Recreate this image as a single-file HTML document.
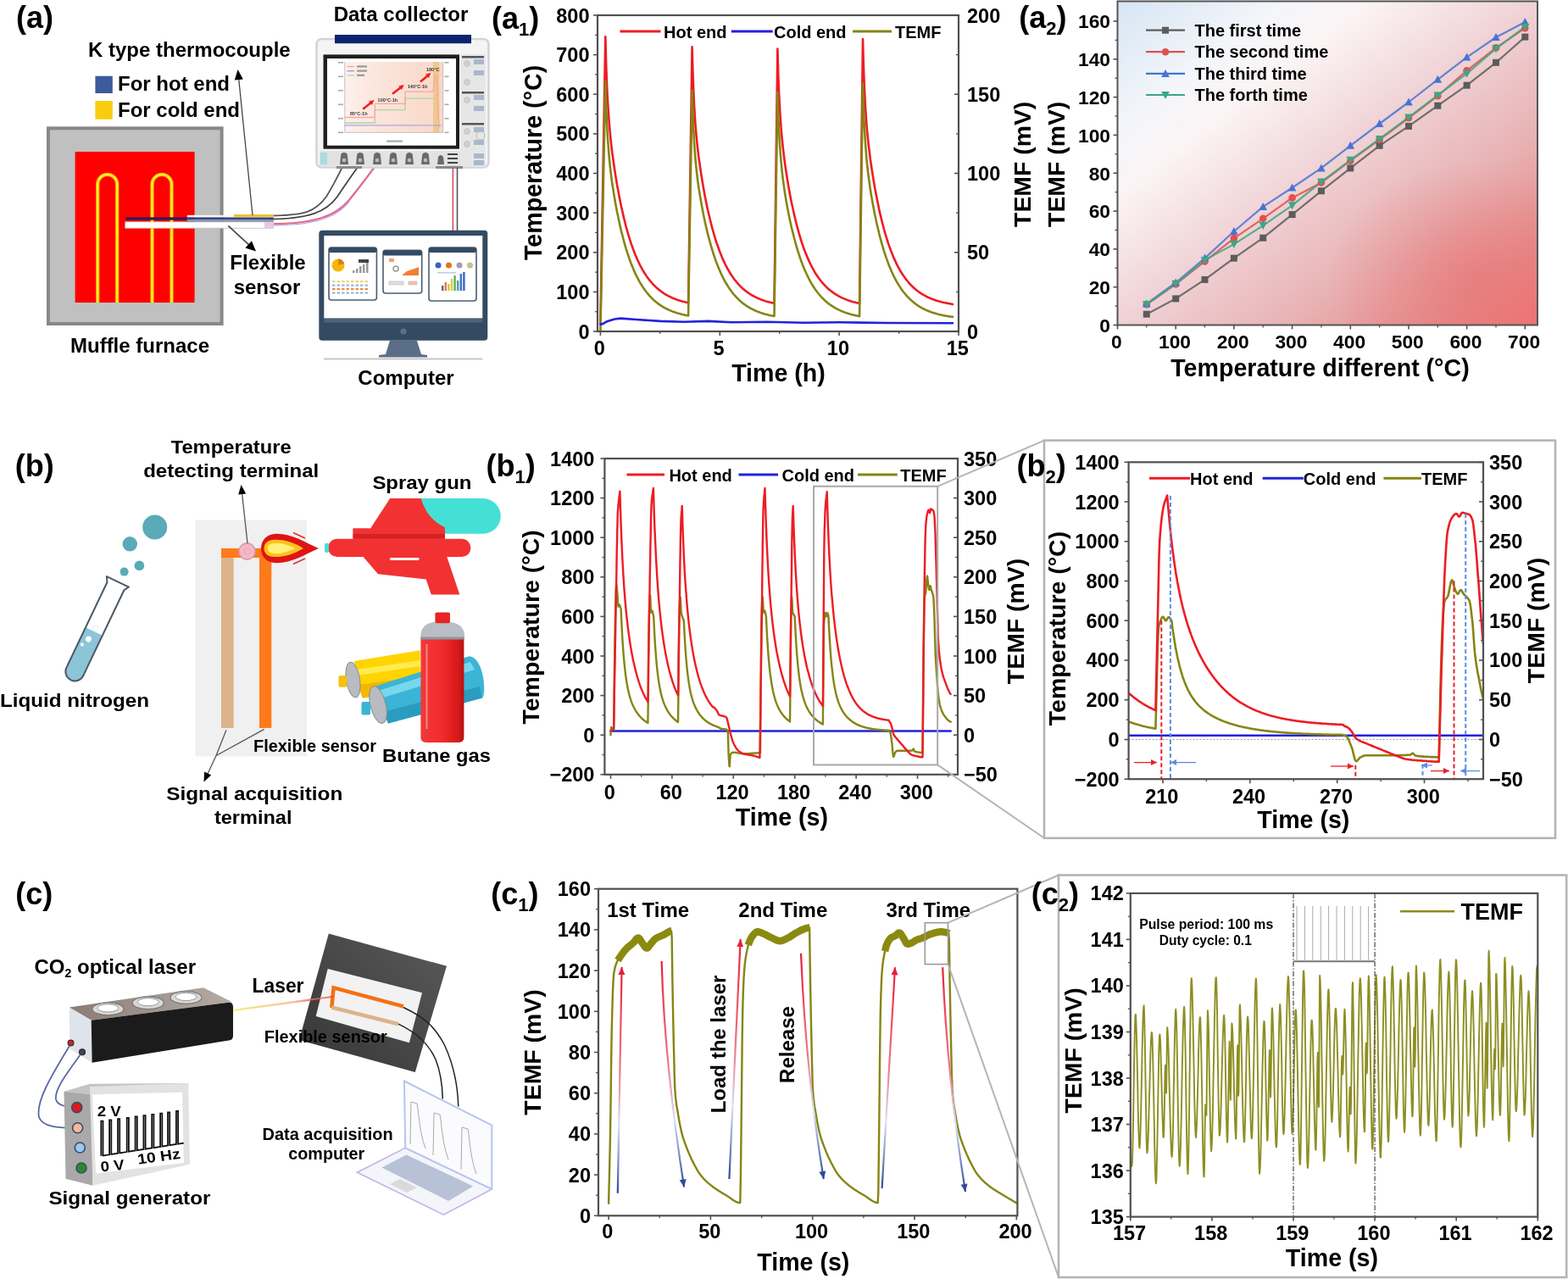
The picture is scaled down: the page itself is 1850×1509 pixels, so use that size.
<!DOCTYPE html>
<html><head><meta charset="utf-8"><title>Figure</title>
<style>html,body{margin:0;padding:0;background:#fff;}svg{display:block;}</style>
</head><body>
<svg width="1850" height="1509" viewBox="0 0 1850 1509" font-family='"Liberation Sans", Arial, Helvetica, sans-serif'>
<rect x="0" y="0" width="1850" height="1509" fill="#ffffff" stroke="none" stroke-width="0" rx="0"/>
<text x="18.9" y="33.4" font-size="36" font-weight="bold" text-anchor="start" fill="#000">(a)</text>
<rect x="57" y="151.3" width="204.6" height="230.7" fill="#c0c0c0" stroke="#888888" stroke-width="4" rx="0"/>
<rect x="88.6" y="179" width="141" height="178" fill="#ff0000" stroke="none" stroke-width="0" rx="0"/>
<path d="M115.2 357 L115.2 217.4 A11.5 11.5 0 0 1 138.2 217.4 L138.2 357" fill="none" stroke="#ff9d00" stroke-width="4.4"/>
<path d="M115.2 357 L115.2 217.4 A11.5 11.5 0 0 1 138.2 217.4 L138.2 357" fill="none" stroke="#ffee22" stroke-width="2.6"/>
<path d="M179.5 357 L179.5 217.4 A11.5 11.5 0 0 1 202.5 217.4 L202.5 357" fill="none" stroke="#ff9d00" stroke-width="4.4"/>
<path d="M179.5 357 L179.5 217.4 A11.5 11.5 0 0 1 202.5 217.4 L202.5 357" fill="none" stroke="#ffee22" stroke-width="2.6"/>
<path d="M318 254.5 C360 254 372 250 385 232 C395 216 400 205 406 193" fill="none" stroke="#555" stroke-width="1.8"/>
<path d="M318 258.7 C365 258 385 250 398 232 C410 214 418 203 425 193" fill="none" stroke="#444" stroke-width="1.8"/>
<path d="M318 264.3 C370 264 395 256 412 236 C425 220 436 205 445 193" fill="none" stroke="#e06a8c" stroke-width="2.2"/>
<path d="M318 266 C370 266 395 258 412 238" fill="none" stroke="#b9a0e0" stroke-width="1.2"/>
<rect x="147.7" y="261.8" width="175" height="7.4" fill="#ffffff" stroke="#bbbbbb" stroke-width="0.8" rx="0"/>
<rect x="312" y="261.8" width="10.7" height="7.4" fill="#e8c8e0" stroke="none" stroke-width="0" rx="0"/>
<rect x="148.4" y="256.3" width="72.4" height="3.4" fill="#3a1a50" stroke="none" stroke-width="0" rx="0"/>
<rect x="220.8" y="253.8" width="101.9" height="2.8" fill="#f8f6e8" stroke="none" stroke-width="0" rx="0"/>
<rect x="220.8" y="256.5" width="101.9" height="2.4" fill="#2a3a8a" stroke="none" stroke-width="0" rx="0"/>
<rect x="220.8" y="258.9" width="101.9" height="2.8" fill="#8a96a8" stroke="none" stroke-width="0" rx="0"/>
<rect x="276" y="253" width="46.7" height="2.9" fill="#f0c020" stroke="none" stroke-width="0" rx="0"/>
<line x1="298" y1="254" x2="281.3" y2="89.2" stroke="#444" stroke-width="1.3"/>
<path d="M280.6 82 L286.8 93.4 L276.8 94.4Z" fill="#000"/>
<line x1="269.3" y1="266.4" x2="296.7" y2="291.6" stroke="#444" stroke-width="1.6"/>
<path d="M302 296.5 L289.4 292.4 L296.9 284.3Z" fill="#000"/>
<rect x="112.4" y="89.7" width="20.4" height="20.3" fill="#3c5a9c" stroke="none" stroke-width="0" rx="0"/>
<rect x="112.4" y="119" width="20.4" height="21.7" fill="#f8cc10" stroke="none" stroke-width="0" rx="0"/>
<text x="104" y="67" font-size="24" font-weight="bold" text-anchor="start" fill="#000">K type thermocouple</text>
<text x="139" y="107.2" font-size="24" font-weight="bold" text-anchor="start" fill="#000">For hot end</text>
<text x="139" y="137.6" font-size="24" font-weight="bold" text-anchor="start" fill="#000">For cold end</text>
<text x="165" y="415.5" font-size="24" font-weight="bold" text-anchor="middle" fill="#000">Muffle furnace</text>
<text x="316" y="318" font-size="24" font-weight="bold" text-anchor="middle" fill="#000">Flexible</text>
<text x="315" y="347" font-size="24" font-weight="bold" text-anchor="middle" fill="#000">sensor</text>
<text x="473" y="24.6" font-size="24" font-weight="bold" text-anchor="middle" fill="#000">Data collector</text>
<text x="479" y="454.4" font-size="24" font-weight="bold" text-anchor="middle" fill="#000">Computer</text>
<rect x="373.5" y="46" width="203" height="151.5" fill="#f4f4f4" stroke="#d4d4d4" stroke-width="2.5" rx="6"/>
<rect x="395" y="41" width="161" height="10.2" fill="#0b2470" stroke="none" stroke-width="0" rx="0"/>
<rect x="381.5" y="64.4" width="160.5" height="111.3" fill="#1e1e1e" stroke="none" stroke-width="0" rx="0"/>
<rect x="386" y="69" width="152" height="102.7" fill="#ffffff" stroke="none" stroke-width="0" rx="0"/>
<defs><linearGradient id="gscr" x1="0" y1="0" x2="1" y2="0"><stop offset="0" stop-color="#fdf1ec"/><stop offset="0.35" stop-color="#fce4da"/><stop offset="1" stop-color="#f9d8c8"/></linearGradient></defs>
<rect x="406.8" y="73" width="116" height="83.3" fill="url(#gscr)" stroke="none" stroke-width="0" rx="0"/>
<rect x="511" y="73" width="7.3" height="83.3" fill="#f0c890" stroke="none" stroke-width="0" rx="0"/>
<line x1="406.8" y1="73" x2="406.8" y2="156.3" stroke="#aaa" stroke-width="0.7"/>
<line x1="406.8" y1="156.3" x2="522.7" y2="156.3" stroke="#aaa" stroke-width="0.7"/>
<line x1="522.7" y1="73" x2="522.7" y2="156.3" stroke="#aaa" stroke-width="0.7"/>
<path d="M407 145 L442.4 145 L442.4 129.6 L478.1 129.6 L478.1 116.2 L511 116.2" fill="none" stroke="#a8d8a0" stroke-width="1.3" stroke-linejoin="round" stroke-linecap="round"/>
<path d="M407 138.5 L442.4 138.5 L442.4 122.4 L478.1 122.4 L478.1 108.2 L511 108.2 L513 90 L515 90 L518 150" fill="none" stroke="#f6a8a0" stroke-width="1.3" stroke-linejoin="round" stroke-linecap="round"/>
<path d="M407 147.9 L520 147.9" fill="none" stroke="#a8a8e8" stroke-width="1.3" stroke-linejoin="round" stroke-linecap="round"/>
<line x1="428.2" y1="128.7" x2="438.8" y2="120.2" stroke="#ee2020" stroke-width="2.6"/>
<path d="M441.6 118 L438.8 124.1 L435 119.4Z" fill="#ee2020"/>
<line x1="463" y1="110.8" x2="474" y2="102.3" stroke="#ee2020" stroke-width="2.6"/>
<path d="M476.8 100.1 L473.9 106.1 L470.2 101.4Z" fill="#ee2020"/>
<line x1="496" y1="96.6" x2="505.8" y2="88.2" stroke="#ee2020" stroke-width="2.6"/>
<path d="M508.5 85.9 L505.9 92.1 L502 87.5Z" fill="#ee2020"/>
<text x="413" y="136" font-size="5.5" font-weight="bold" text-anchor="start" fill="#333">85°C-1h</text>
<text x="445.6" y="119.5" font-size="5.5" font-weight="bold" text-anchor="start" fill="#333">100°C-1h</text>
<text x="480.8" y="104.4" font-size="5.5" font-weight="bold" text-anchor="start" fill="#333">140°C-1h</text>
<text x="503" y="84" font-size="5.5" font-weight="bold" text-anchor="start" fill="#333">180°C</text>
<line x1="409.5" y1="78.5" x2="418" y2="78.5" stroke="#f4a0a0" stroke-width="1.2"/>
<rect x="421" y="77.3" width="12" height="2.2" fill="#999" stroke="none" stroke-width="0" rx="0"/>
<line x1="409.5" y1="83.7" x2="418" y2="83.7" stroke="#9090e0" stroke-width="1.2"/>
<rect x="421" y="82.5" width="12" height="2.2" fill="#999" stroke="none" stroke-width="0" rx="0"/>
<line x1="409.5" y1="88.9" x2="418" y2="88.9" stroke="#a0d8a0" stroke-width="1.2"/>
<rect x="421" y="87.7" width="9" height="2.2" fill="#999" stroke="none" stroke-width="0" rx="0"/>
<rect x="399" y="73" width="6" height="1.6" fill="#aaa" stroke="none" stroke-width="0" rx="0"/>
<rect x="524.5" y="73" width="5" height="1.6" fill="#aaa" stroke="none" stroke-width="0" rx="0"/>
<rect x="399" y="89.5" width="6" height="1.6" fill="#aaa" stroke="none" stroke-width="0" rx="0"/>
<rect x="524.5" y="89.5" width="5" height="1.6" fill="#aaa" stroke="none" stroke-width="0" rx="0"/>
<rect x="399" y="106" width="6" height="1.6" fill="#aaa" stroke="none" stroke-width="0" rx="0"/>
<rect x="524.5" y="106" width="5" height="1.6" fill="#aaa" stroke="none" stroke-width="0" rx="0"/>
<rect x="399" y="122.5" width="6" height="1.6" fill="#aaa" stroke="none" stroke-width="0" rx="0"/>
<rect x="524.5" y="122.5" width="5" height="1.6" fill="#aaa" stroke="none" stroke-width="0" rx="0"/>
<rect x="399" y="139" width="6" height="1.6" fill="#aaa" stroke="none" stroke-width="0" rx="0"/>
<rect x="524.5" y="139" width="5" height="1.6" fill="#aaa" stroke="none" stroke-width="0" rx="0"/>
<rect x="399" y="155.5" width="6" height="1.6" fill="#aaa" stroke="none" stroke-width="0" rx="0"/>
<rect x="524.5" y="155.5" width="5" height="1.6" fill="#aaa" stroke="none" stroke-width="0" rx="0"/>
<rect x="456" y="165.5" width="19" height="2.2" fill="#aaa" stroke="none" stroke-width="0" rx="0"/>
<rect x="543" y="64" width="30" height="133" fill="#e6e6e6" stroke="none" stroke-width="0" rx="0"/>
<rect x="545" y="66" width="26" height="2.5" fill="#555" stroke="none" stroke-width="0" rx="0"/>
<rect x="545" y="108" width="26" height="2.5" fill="#555" stroke="none" stroke-width="0" rx="0"/>
<rect x="545" y="145" width="26" height="2.5" fill="#555" stroke="none" stroke-width="0" rx="0"/>
<rect x="559" y="70" width="12" height="6" fill="#aab8cc" stroke="none" stroke-width="0" rx="0"/>
<rect x="559" y="83" width="12" height="6" fill="#aab8cc" stroke="none" stroke-width="0" rx="0"/>
<rect x="559" y="112" width="12" height="6" fill="#aab8cc" stroke="none" stroke-width="0" rx="0"/>
<rect x="559" y="125" width="12" height="6" fill="#aab8cc" stroke="none" stroke-width="0" rx="0"/>
<rect x="559" y="150" width="12" height="6" fill="#aab8cc" stroke="none" stroke-width="0" rx="0"/>
<rect x="559" y="165" width="12" height="6" fill="#aab8cc" stroke="none" stroke-width="0" rx="0"/>
<rect x="559" y="181" width="12" height="6" fill="#aab8cc" stroke="none" stroke-width="0" rx="0"/>
<rect x="559" y="189" width="12" height="6" fill="#aab8cc" stroke="none" stroke-width="0" rx="0"/>
<circle cx="551" cy="75" r="3.5" fill="#d0d0d0" stroke="#bbb" stroke-width="0.6"/>
<circle cx="551" cy="97" r="3.5" fill="#d0d0d0" stroke="#bbb" stroke-width="0.6"/>
<circle cx="551" cy="118" r="3.5" fill="#d0d0d0" stroke="#bbb" stroke-width="0.6"/>
<circle cx="551" cy="155" r="3.5" fill="#d0d0d0" stroke="#bbb" stroke-width="0.6"/>
<circle cx="551" cy="170" r="3.5" fill="#d0d0d0" stroke="#bbb" stroke-width="0.6"/>
<circle cx="567" cy="160" r="5" fill="none" stroke="#bbb" stroke-width="1"/>
<rect x="377" y="178" width="166" height="19" fill="#e2e2e2" stroke="none" stroke-width="0" rx="0"/>
<rect x="378" y="180" width="8" height="14" fill="#a8dce0" stroke="none" stroke-width="0" rx="0"/>
<path d="M401 194 L402 184 Q402 180 406 180 Q410 180 410 184 L411 194Z" fill="#6a6a6a"/>
<circle cx="406" cy="189" r="2.3" fill="#bbbbbb"/>
<path d="M420 194 L421 184 Q421 180 425 180 Q429 180 429 184 L430 194Z" fill="#6a6a6a"/>
<circle cx="425" cy="189" r="2.3" fill="#bbbbbb"/>
<path d="M440 194 L441 184 Q441 180 445 180 Q449 180 449 184 L450 194Z" fill="#6a6a6a"/>
<circle cx="445" cy="189" r="2.3" fill="#bbbbbb"/>
<path d="M459 194 L460 184 Q460 180 464 180 Q468 180 468 184 L469 194Z" fill="#6a6a6a"/>
<circle cx="464" cy="189" r="2.3" fill="#bbbbbb"/>
<path d="M478 194 L479 184 Q479 180 483 180 Q487 180 487 184 L488 194Z" fill="#6a6a6a"/>
<circle cx="483" cy="189" r="2.3" fill="#bbbbbb"/>
<path d="M497 194 L498 184 Q498 180 502 180 Q506 180 506 184 L507 194Z" fill="#6a6a6a"/>
<circle cx="502" cy="189" r="2.3" fill="#bbbbbb"/>
<path d="M516 194 L517 185 Q520 181 523 185 L524 194Z" fill="#6a6a6a"/>
<rect x="528" y="181" width="12" height="2" fill="#444" stroke="none" stroke-width="0" rx="0"/>
<rect x="528" y="186" width="12" height="2" fill="#444" stroke="none" stroke-width="0" rx="0"/>
<rect x="528" y="191" width="12" height="2" fill="#444" stroke="none" stroke-width="0" rx="0"/>
<rect x="397" y="196" width="30" height="3" fill="#8a8a8a" stroke="none" stroke-width="0" rx="0"/>
<rect x="514" y="196" width="32" height="3" fill="#8a8a8a" stroke="none" stroke-width="0" rx="0"/>
<line x1="534.4" y1="198" x2="534.4" y2="272" stroke="#e04a5a" stroke-width="1.6"/>
<line x1="539.5" y1="198" x2="539.5" y2="272" stroke="#555" stroke-width="1.6"/>
<rect x="376.3" y="271.7" width="199" height="130" fill="#344a63" stroke="none" stroke-width="0" rx="4"/>
<rect x="382.3" y="278" width="187" height="97.6" fill="#ffffff" stroke="none" stroke-width="0" rx="0"/>
<rect x="382.3" y="375.6" width="187" height="5" fill="#4c6279" stroke="none" stroke-width="0" rx="0"/>
<circle cx="476" cy="391" r="3.6" fill="#5c7088"/>
<path d="M460 401.6 L491.8 401.6 L497 418 L504 419 L504 421.5 L447 421.5 L447 419 L455 418Z" fill="#5a6e87"/>
<line x1="382" y1="423.5" x2="569" y2="423.5" stroke="#c8c8c8" stroke-width="1.8"/>
<rect x="388" y="292" width="56.4" height="62" fill="#ffffff" stroke="#4a5c72" stroke-width="1.6" rx="3"/>
<rect x="388" y="292" width="56.4" height="6" fill="#344a63" stroke="none" stroke-width="0" rx="2"/>
<rect x="452" y="295.4" width="45.7" height="50.6" fill="#ffffff" stroke="#4a5c72" stroke-width="1.6" rx="3"/>
<rect x="452" y="295.4" width="45.7" height="6" fill="#344a63" stroke="none" stroke-width="0" rx="2"/>
<rect x="506" y="292" width="56" height="63" fill="#ffffff" stroke="#4a5c72" stroke-width="1.6" rx="3"/>
<rect x="506" y="292" width="56" height="6" fill="#344a63" stroke="none" stroke-width="0" rx="2"/>
<circle cx="399" cy="313" r="7.5" fill="#f5b800"/>
<path d="M399 313 L399 305.5 A7.5 7.5 0 0 1 406.2 311 Z" fill="#e07a20"/>
<rect x="423" y="306" width="12" height="4" fill="#444" stroke="none" stroke-width="0" rx="0"/>
<rect x="416" y="319" width="2.5" height="3" fill="#999" stroke="none" stroke-width="0" rx="0"/>
<rect x="420" y="317" width="2.5" height="5" fill="#999" stroke="none" stroke-width="0" rx="0"/>
<rect x="424" y="314" width="2.5" height="8" fill="#999" stroke="none" stroke-width="0" rx="0"/>
<rect x="428" y="312" width="2.5" height="10" fill="#999" stroke="none" stroke-width="0" rx="0"/>
<rect x="432" y="310" width="2.5" height="12" fill="#999" stroke="none" stroke-width="0" rx="0"/>
<rect x="392" y="331" width="3.5" height="2.2" fill="#f5d070" stroke="none" stroke-width="0" rx="0"/>
<rect x="397.5" y="331" width="3.5" height="2.2" fill="#f5d070" stroke="none" stroke-width="0" rx="0"/>
<rect x="403" y="331" width="3.5" height="2.2" fill="#f5d070" stroke="none" stroke-width="0" rx="0"/>
<rect x="408.5" y="331" width="3.5" height="2.2" fill="#f5d070" stroke="none" stroke-width="0" rx="0"/>
<rect x="414" y="331" width="3.5" height="2.2" fill="#f5d070" stroke="none" stroke-width="0" rx="0"/>
<rect x="419.5" y="331" width="3.5" height="2.2" fill="#f5d070" stroke="none" stroke-width="0" rx="0"/>
<rect x="425" y="331" width="3.5" height="2.2" fill="#f5d070" stroke="none" stroke-width="0" rx="0"/>
<rect x="430.5" y="331" width="3.5" height="2.2" fill="#f5d070" stroke="none" stroke-width="0" rx="0"/>
<rect x="392" y="335.5" width="3.5" height="2.2" fill="#9ab8e0" stroke="none" stroke-width="0" rx="0"/>
<rect x="397.5" y="335.5" width="3.5" height="2.2" fill="#9ab8e0" stroke="none" stroke-width="0" rx="0"/>
<rect x="403" y="335.5" width="3.5" height="2.2" fill="#9ab8e0" stroke="none" stroke-width="0" rx="0"/>
<rect x="408.5" y="335.5" width="3.5" height="2.2" fill="#9ab8e0" stroke="none" stroke-width="0" rx="0"/>
<rect x="414" y="335.5" width="3.5" height="2.2" fill="#9ab8e0" stroke="none" stroke-width="0" rx="0"/>
<rect x="419.5" y="335.5" width="3.5" height="2.2" fill="#9ab8e0" stroke="none" stroke-width="0" rx="0"/>
<rect x="425" y="335.5" width="3.5" height="2.2" fill="#9ab8e0" stroke="none" stroke-width="0" rx="0"/>
<rect x="430.5" y="335.5" width="3.5" height="2.2" fill="#9ab8e0" stroke="none" stroke-width="0" rx="0"/>
<rect x="392" y="340" width="3.5" height="2.2" fill="#f08a40" stroke="none" stroke-width="0" rx="0"/>
<rect x="397.5" y="340" width="3.5" height="2.2" fill="#f08a40" stroke="none" stroke-width="0" rx="0"/>
<rect x="403" y="340" width="3.5" height="2.2" fill="#f08a40" stroke="none" stroke-width="0" rx="0"/>
<rect x="408.5" y="340" width="3.5" height="2.2" fill="#f08a40" stroke="none" stroke-width="0" rx="0"/>
<rect x="414" y="340" width="3.5" height="2.2" fill="#f08a40" stroke="none" stroke-width="0" rx="0"/>
<rect x="419.5" y="340" width="3.5" height="2.2" fill="#f08a40" stroke="none" stroke-width="0" rx="0"/>
<rect x="425" y="340" width="3.5" height="2.2" fill="#f08a40" stroke="none" stroke-width="0" rx="0"/>
<rect x="430.5" y="340" width="3.5" height="2.2" fill="#f08a40" stroke="none" stroke-width="0" rx="0"/>
<rect x="392" y="344.5" width="3.5" height="2.2" fill="#9ab8e0" stroke="none" stroke-width="0" rx="0"/>
<rect x="397.5" y="344.5" width="3.5" height="2.2" fill="#9ab8e0" stroke="none" stroke-width="0" rx="0"/>
<rect x="403" y="344.5" width="3.5" height="2.2" fill="#9ab8e0" stroke="none" stroke-width="0" rx="0"/>
<rect x="408.5" y="344.5" width="3.5" height="2.2" fill="#9ab8e0" stroke="none" stroke-width="0" rx="0"/>
<rect x="414" y="344.5" width="3.5" height="2.2" fill="#9ab8e0" stroke="none" stroke-width="0" rx="0"/>
<rect x="419.5" y="344.5" width="3.5" height="2.2" fill="#9ab8e0" stroke="none" stroke-width="0" rx="0"/>
<rect x="425" y="344.5" width="3.5" height="2.2" fill="#9ab8e0" stroke="none" stroke-width="0" rx="0"/>
<rect x="430.5" y="344.5" width="3.5" height="2.2" fill="#9ab8e0" stroke="none" stroke-width="0" rx="0"/>
<rect x="459" y="305" width="6" height="4" fill="#f0a070" stroke="none" stroke-width="0" rx="0"/>
<circle cx="467" cy="317" r="3" fill="none" stroke="#999" stroke-width="1.5"/>
<path d="M474 325 L480 320 L486 318 L494 315 L494 325Z" fill="#f08030"/>
<rect x="459" y="332" width="17" height="4" fill="#dddddd" stroke="#bbb" stroke-width="0.6" rx="0"/>
<rect x="482" y="332" width="10" height="4" fill="#f0c0a0" stroke="#bbb" stroke-width="0.6" rx="0"/>
<circle cx="517" cy="313" r="3.5" fill="#3a62c0"/>
<circle cx="529.5" cy="313" r="3.5" fill="#e07a20"/>
<circle cx="542" cy="313" r="3.5" fill="#a0a0b0"/>
<circle cx="554.5" cy="313" r="3.5" fill="#c8c090"/>
<rect x="516" y="321" width="22" height="1.5" fill="#c0c8e8" stroke="none" stroke-width="0" rx="0"/>
<rect x="521" y="337" width="2.4" height="6" fill="#6a5aa8" stroke="none" stroke-width="0" rx="0"/>
<rect x="524.6" y="333" width="2.4" height="10" fill="#e08040" stroke="none" stroke-width="0" rx="0"/>
<rect x="528.2" y="335" width="2.4" height="8" fill="#e0c040" stroke="none" stroke-width="0" rx="0"/>
<rect x="531.8" y="329" width="2.4" height="14" fill="#d8d040" stroke="none" stroke-width="0" rx="0"/>
<rect x="535.4" y="325" width="2.4" height="18" fill="#60b060" stroke="none" stroke-width="0" rx="0"/>
<rect x="539" y="331" width="2.4" height="12" fill="#50a0a0" stroke="none" stroke-width="0" rx="0"/>
<rect x="542.6" y="323" width="2.4" height="20" fill="#4070d0" stroke="none" stroke-width="0" rx="0"/>
<rect x="546.2" y="321" width="2.4" height="22" fill="#3a62c0" stroke="none" stroke-width="0" rx="0"/>
<path d="M708.4 381.7 L714.3 43.2 L715.1 73.5 L715.9 96.4 L716.7 114.3 L717.6 128.5 L718.4 140.3 L719.2 150.4 L720 159.1 L720.8 166.9 L721.6 174.1 L722.4 180.7 L723.3 186.9 L724.1 192.7 L724.9 198.3 L725.7 203.6 L726.5 208.7 L727.3 213.6 L728.1 218.4 L729 223 L729.8 227.4 L730.6 231.7 L731.4 235.8 L732.2 239.8 L733 243.7 L733.9 247.4 L734.7 251.1 L735.5 254.6 L736.3 258 L737.1 261.3 L737.9 264.5 L738.7 267.6 L739.6 270.6 L740.4 273.5 L741.2 276.3 L742 279 L742.8 281.7 L743.6 284.2 L744.4 286.7 L745.3 289.1 L746.1 291.4 L746.9 293.6 L747.7 295.8 L748.5 297.9 L749.3 300 L750.1 301.9 L751 303.8 L751.8 305.7 L752.6 307.5 L753.4 309.2 L754.2 310.9 L755 312.5 L755.8 314.1 L756.7 315.6 L757.5 317.1 L758.3 318.6 L759.1 319.9 L759.9 321.3 L760.7 322.6 L761.6 323.8 L762.4 325.1 L763.2 326.3 L764 327.4 L764.8 328.5 L765.6 329.6 L766.4 330.6 L767.3 331.6 L768.1 332.6 L768.9 333.5 L769.7 334.5 L770.5 335.3 L771.3 336.2 L772.1 337 L773 337.8 L773.8 338.6 L774.6 339.4 L775.4 340.1 L776.2 340.8 L777 341.5 L777.8 342.2 L778.7 342.8 L779.5 343.4 L780.3 344 L781.1 344.6 L781.9 345.2 L782.7 345.7 L783.5 346.3 L784.4 346.8 L785.2 347.3 L786 347.8 L786.8 348.2 L787.6 348.7 L788.4 349.1 L789.3 349.5 L790.1 349.9 L790.9 350.3 L791.7 350.7 L792.5 351.1 L793.3 351.5 L794.1 351.8 L795 352.1 L795.8 352.5 L796.6 352.8 L797.4 353.1 L798.2 353.4 L799 353.7 L799.8 354 L800.7 354.2 L801.5 354.5 L802.3 354.8 L803.1 355 L803.9 355.2 L804.7 355.5 L805.5 355.7 L806.4 355.9 L807.2 356.1 L808 356.3 L808.8 356.5 L809.6 356.7 L810.4 356.9 L811.2 357.1 L812.1 357.2 L816.6 55.3 L817.4 84.3 L818.2 106.3 L819 123.4 L819.8 137.2 L820.6 148.5 L821.4 158.1 L822.2 166.6 L823 174.1 L823.8 180.9 L824.6 187.3 L825.5 193.2 L826.3 198.9 L827.1 204.2 L827.9 209.3 L828.7 214.2 L829.5 219 L830.3 223.5 L831.1 227.9 L831.9 232.2 L832.7 236.3 L833.5 240.3 L834.3 244.1 L835.1 247.8 L836 251.5 L836.8 255 L837.6 258.3 L838.4 261.6 L839.2 264.8 L840 267.9 L840.8 270.9 L841.6 273.7 L842.4 276.5 L843.2 279.2 L844 281.9 L844.8 284.4 L845.6 286.9 L846.5 289.3 L847.3 291.6 L848.1 293.8 L848.9 296 L849.7 298.1 L850.5 300.1 L851.3 302.1 L852.1 304 L852.9 305.9 L853.7 307.6 L854.5 309.4 L855.3 311.1 L856.1 312.7 L857 314.3 L857.8 315.8 L858.6 317.3 L859.4 318.7 L860.2 320.1 L861 321.5 L861.8 322.8 L862.6 324 L863.4 325.2 L864.2 326.4 L865 327.6 L865.8 328.7 L866.6 329.8 L867.5 330.8 L868.3 331.8 L869.1 332.8 L869.9 333.8 L870.7 334.7 L871.5 335.6 L872.3 336.4 L873.1 337.3 L873.9 338.1 L874.7 338.9 L875.5 339.6 L876.3 340.4 L877.1 341.1 L878 341.8 L878.8 342.4 L879.6 343.1 L880.4 343.7 L881.2 344.3 L882 344.9 L882.8 345.5 L883.6 346 L884.4 346.6 L885.2 347.1 L886 347.6 L886.8 348.1 L887.6 348.5 L888.5 349 L889.3 349.4 L890.1 349.9 L890.9 350.3 L891.7 350.7 L892.5 351.1 L893.3 351.5 L894.1 351.8 L894.9 352.2 L895.7 352.5 L896.5 352.8 L897.3 353.2 L898.1 353.5 L899 353.8 L899.8 354.1 L900.6 354.4 L901.4 354.6 L902.2 354.9 L903 355.2 L903.8 355.4 L904.6 355.7 L905.4 355.9 L906.2 356.1 L907 356.3 L907.8 356.5 L908.6 356.8 L909.5 357 L910.3 357.1 L911.1 357.3 L911.9 357.5 L912.7 357.7 L913.5 357.9 L917.4 57.6 L918.2 86.3 L919 108.1 L919.9 125.1 L920.7 138.8 L921.5 150 L922.3 159.6 L923.1 167.9 L923.9 175.4 L924.7 182.2 L925.5 188.5 L926.3 194.4 L927.1 200 L927.9 205.3 L928.7 210.3 L929.5 215.2 L930.3 219.9 L931.1 224.4 L931.9 228.8 L932.7 233 L933.5 237.1 L934.3 241 L935.2 244.8 L936 248.5 L936.8 252.1 L937.6 255.6 L938.4 259 L939.2 262.2 L940 265.4 L940.8 268.4 L941.6 271.4 L942.4 274.2 L943.2 277 L944 279.7 L944.8 282.3 L945.6 284.8 L946.4 287.3 L947.2 289.7 L948 292 L948.8 294.2 L949.6 296.3 L950.5 298.4 L951.3 300.4 L952.1 302.4 L952.9 304.3 L953.7 306.1 L954.5 307.9 L955.3 309.7 L956.1 311.3 L956.9 312.9 L957.7 314.5 L958.5 316 L959.3 317.5 L960.1 318.9 L960.9 320.3 L961.7 321.7 L962.5 323 L963.3 324.2 L964.1 325.4 L965 326.6 L965.8 327.8 L966.6 328.9 L967.4 329.9 L968.2 331 L969 332 L969.8 333 L970.6 333.9 L971.4 334.8 L972.2 335.7 L973 336.6 L973.8 337.4 L974.6 338.2 L975.4 339 L976.2 339.7 L977 340.5 L977.8 341.2 L978.6 341.9 L979.4 342.5 L980.3 343.2 L981.1 343.8 L981.9 344.4 L982.7 345 L983.5 345.6 L984.3 346.1 L985.1 346.7 L985.9 347.2 L986.7 347.7 L987.5 348.2 L988.3 348.6 L989.1 349.1 L989.9 349.5 L990.7 350 L991.5 350.4 L992.3 350.8 L993.1 351.2 L993.9 351.6 L994.7 351.9 L995.6 352.3 L996.4 352.6 L997.2 352.9 L998 353.3 L998.8 353.6 L999.6 353.9 L1000.4 354.2 L1001.2 354.5 L1002 354.7 L1002.8 355 L1003.6 355.3 L1004.4 355.5 L1005.2 355.7 L1006 356 L1006.8 356.2 L1007.6 356.4 L1008.4 356.6 L1009.2 356.8 L1010 357 L1010.9 357.2 L1011.7 357.4 L1012.5 357.6 L1013.3 357.8 L1014.1 358 L1018 46 L1018.9 78.2 L1019.8 102 L1020.7 120.3 L1021.6 134.8 L1022.4 146.7 L1023.3 156.7 L1024.2 165.6 L1025.1 173.5 L1026 180.7 L1026.8 187.5 L1027.7 193.8 L1028.6 199.8 L1029.5 205.5 L1030.4 211 L1031.3 216.2 L1032.1 221.3 L1033 226.1 L1033.9 230.8 L1034.8 235.3 L1035.7 239.7 L1036.6 243.9 L1037.4 247.9 L1038.3 251.9 L1039.2 255.6 L1040.1 259.3 L1041 262.8 L1041.9 266.2 L1042.7 269.5 L1043.6 272.7 L1044.5 275.8 L1045.4 278.8 L1046.3 281.6 L1047.2 284.4 L1048 287.1 L1048.9 289.6 L1049.8 292.1 L1050.7 294.5 L1051.6 296.9 L1052.4 299.1 L1053.3 301.3 L1054.2 303.4 L1055.1 305.4 L1056 307.4 L1056.9 309.3 L1057.7 311.1 L1058.6 312.8 L1059.5 314.5 L1060.4 316.2 L1061.3 317.8 L1062.2 319.3 L1063 320.8 L1063.9 322.2 L1064.8 323.6 L1065.7 324.9 L1066.6 326.2 L1067.5 327.5 L1068.3 328.7 L1069.2 329.8 L1070.1 331 L1071 332 L1071.9 333.1 L1072.8 334.1 L1073.6 335.1 L1074.5 336 L1075.4 336.9 L1076.3 337.8 L1077.2 338.7 L1078.1 339.5 L1078.9 340.3 L1079.8 341 L1080.7 341.8 L1081.6 342.5 L1082.5 343.2 L1083.3 343.8 L1084.2 344.5 L1085.1 345.1 L1086 345.7 L1086.9 346.3 L1087.8 346.8 L1088.6 347.4 L1089.5 347.9 L1090.4 348.4 L1091.3 348.9 L1092.2 349.4 L1093.1 349.8 L1093.9 350.3 L1094.8 350.7 L1095.7 351.1 L1096.6 351.5 L1097.5 351.9 L1098.4 352.2 L1099.2 352.6 L1100.1 352.9 L1101 353.3 L1101.9 353.6 L1102.8 353.9 L1103.7 354.2 L1104.5 354.5 L1105.4 354.8 L1106.3 355 L1107.2 355.3 L1108.1 355.6 L1108.9 355.8 L1109.8 356 L1110.7 356.3 L1111.6 356.5 L1112.5 356.7 L1113.4 356.9 L1114.2 357.1 L1115.1 357.3 L1116 357.5 L1116.9 357.6 L1117.8 357.8 L1118.7 358 L1119.5 358.1 L1120.4 358.3 L1121.3 358.4 L1122.2 358.6 L1123.1 358.7 L1124 358.9" fill="none" stroke="#ee1c24" stroke-width="2.6" stroke-linejoin="round" stroke-linecap="round"/>
<path d="M708.4 391 L714.3 96.1 L715.1 122.8 L715.9 143 L716.7 158.7 L717.6 171.2 L718.4 181.6 L719.2 190.4 L720 198.1 L720.8 205 L721.6 211.3 L722.4 217.1 L723.3 222.5 L724.1 227.7 L724.9 232.6 L725.7 237.3 L726.5 241.8 L727.3 246.1 L728.1 250.3 L729 254.3 L729.8 258.2 L730.6 262 L731.4 265.6 L732.2 269.1 L733 272.6 L733.9 275.9 L734.7 279.1 L735.5 282.2 L736.3 285.1 L737.1 288.1 L737.9 290.9 L738.7 293.6 L739.6 296.2 L740.4 298.8 L741.2 301.3 L742 303.6 L742.8 306 L743.6 308.2 L744.4 310.4 L745.3 312.5 L746.1 314.5 L746.9 316.5 L747.7 318.4 L748.5 320.3 L749.3 322.1 L750.1 323.8 L751 325.5 L751.8 327.1 L752.6 328.7 L753.4 330.2 L754.2 331.7 L755 333.1 L755.8 334.5 L756.7 335.9 L757.5 337.2 L758.3 338.4 L759.1 339.7 L759.9 340.8 L760.7 342 L761.6 343.1 L762.4 344.2 L763.2 345.2 L764 346.2 L764.8 347.2 L765.6 348.1 L766.4 349.1 L767.3 349.9 L768.1 350.8 L768.9 351.6 L769.7 352.4 L770.5 353.2 L771.3 354 L772.1 354.7 L773 355.4 L773.8 356.1 L774.6 356.8 L775.4 357.4 L776.2 358 L777 358.6 L777.8 359.2 L778.7 359.8 L779.5 360.3 L780.3 360.9 L781.1 361.4 L781.9 361.9 L782.7 362.4 L783.5 362.8 L784.4 363.3 L785.2 363.7 L786 364.1 L786.8 364.5 L787.6 364.9 L788.4 365.3 L789.3 365.7 L790.1 366.1 L790.9 366.4 L791.7 366.7 L792.5 367.1 L793.3 367.4 L794.1 367.7 L795 368 L795.8 368.3 L796.6 368.6 L797.4 368.8 L798.2 369.1 L799 369.4 L799.8 369.6 L800.7 369.8 L801.5 370.1 L802.3 370.3 L803.1 370.5 L803.9 370.7 L804.7 370.9 L805.5 371.1 L806.4 371.3 L807.2 371.5 L808 371.7 L808.8 371.8 L809.6 372 L810.4 372.2 L811.2 372.3 L812.1 372.5 L816.6 106.8 L817.4 132.3 L818.2 151.6 L819 166.7 L819.8 178.8 L820.6 188.8 L821.4 197.3 L822.2 204.7 L823 211.3 L823.8 217.3 L824.6 222.9 L825.5 228.2 L826.3 233.1 L827.1 237.8 L827.9 242.3 L828.7 246.6 L829.5 250.8 L830.3 254.8 L831.1 258.7 L831.9 262.4 L832.7 266 L833.5 269.5 L834.3 272.9 L835.1 276.2 L836 279.4 L836.8 282.5 L837.6 285.4 L838.4 288.3 L839.2 291.1 L840 293.8 L840.8 296.5 L841.6 299 L842.4 301.5 L843.2 303.8 L844 306.2 L844.8 308.4 L845.6 310.6 L846.5 312.7 L847.3 314.7 L848.1 316.7 L848.9 318.6 L849.7 320.4 L850.5 322.2 L851.3 324 L852.1 325.6 L852.9 327.3 L853.7 328.8 L854.5 330.4 L855.3 331.8 L856.1 333.3 L857 334.7 L857.8 336 L858.6 337.3 L859.4 338.6 L860.2 339.8 L861 341 L861.8 342.1 L862.6 343.2 L863.4 344.3 L864.2 345.4 L865 346.4 L865.8 347.4 L866.6 348.3 L867.5 349.2 L868.3 350.1 L869.1 351 L869.9 351.8 L870.7 352.6 L871.5 353.4 L872.3 354.2 L873.1 354.9 L873.9 355.6 L874.7 356.3 L875.5 357 L876.3 357.6 L877.1 358.2 L878 358.9 L878.8 359.4 L879.6 360 L880.4 360.6 L881.2 361.1 L882 361.6 L882.8 362.1 L883.6 362.6 L884.4 363.1 L885.2 363.5 L886 364 L886.8 364.4 L887.6 364.8 L888.5 365.2 L889.3 365.6 L890.1 366 L890.9 366.4 L891.7 366.7 L892.5 367.1 L893.3 367.4 L894.1 367.7 L894.9 368 L895.7 368.3 L896.5 368.6 L897.3 368.9 L898.1 369.2 L899 369.4 L899.8 369.7 L900.6 369.9 L901.4 370.2 L902.2 370.4 L903 370.7 L903.8 370.9 L904.6 371.1 L905.4 371.3 L906.2 371.5 L907 371.7 L907.8 371.9 L908.6 372.1 L909.5 372.2 L910.3 372.4 L911.1 372.6 L911.9 372.7 L912.7 372.9 L913.5 373 L917.4 108.8 L918.2 134.1 L919 153.3 L919.9 168.2 L920.7 180.2 L921.5 190.1 L922.3 198.5 L923.1 205.9 L923.9 212.5 L924.7 218.4 L925.5 224 L926.3 229.2 L927.1 234.1 L927.9 238.7 L928.7 243.2 L929.5 247.5 L930.3 251.6 L931.1 255.6 L931.9 259.4 L932.7 263.1 L933.5 266.7 L934.3 270.2 L935.2 273.6 L936 276.8 L936.8 280 L937.6 283 L938.4 286 L939.2 288.9 L940 291.6 L940.8 294.3 L941.6 296.9 L942.4 299.4 L943.2 301.9 L944 304.3 L944.8 306.6 L945.6 308.8 L946.4 310.9 L947.2 313 L948 315 L948.8 317 L949.6 318.9 L950.5 320.7 L951.3 322.5 L952.1 324.2 L952.9 325.9 L953.7 327.5 L954.5 329.1 L955.3 330.6 L956.1 332.1 L956.9 333.5 L957.7 334.9 L958.5 336.2 L959.3 337.5 L960.1 338.8 L960.9 340 L961.7 341.2 L962.5 342.3 L963.3 343.4 L964.1 344.5 L965 345.5 L965.8 346.5 L966.6 347.5 L967.4 348.5 L968.2 349.4 L969 350.3 L969.8 351.1 L970.6 351.9 L971.4 352.8 L972.2 353.5 L973 354.3 L973.8 355 L974.6 355.7 L975.4 356.4 L976.2 357.1 L977 357.7 L977.8 358.4 L978.6 359 L979.4 359.5 L980.3 360.1 L981.1 360.7 L981.9 361.2 L982.7 361.7 L983.5 362.2 L984.3 362.7 L985.1 363.2 L985.9 363.6 L986.7 364.1 L987.5 364.5 L988.3 364.9 L989.1 365.3 L989.9 365.7 L990.7 366.1 L991.5 366.4 L992.3 366.8 L993.1 367.1 L993.9 367.5 L994.7 367.8 L995.6 368.1 L996.4 368.4 L997.2 368.7 L998 369 L998.8 369.3 L999.6 369.5 L1000.4 369.8 L1001.2 370 L1002 370.3 L1002.8 370.5 L1003.6 370.7 L1004.4 371 L1005.2 371.2 L1006 371.4 L1006.8 371.6 L1007.6 371.8 L1008.4 372 L1009.2 372.1 L1010 372.3 L1010.9 372.5 L1011.7 372.6 L1012.5 372.8 L1013.3 373 L1014.1 373.1 L1018 98.6 L1018.9 126.9 L1019.8 147.9 L1020.7 164 L1021.6 176.7 L1022.4 187.2 L1023.3 196 L1024.2 203.8 L1025.1 210.8 L1026 217.2 L1026.8 223.1 L1027.7 228.7 L1028.6 233.9 L1029.5 239 L1030.4 243.8 L1031.3 248.4 L1032.1 252.8 L1033 257.1 L1033.9 261.2 L1034.8 265.2 L1035.7 269 L1036.6 272.7 L1037.4 276.3 L1038.3 279.7 L1039.2 283.1 L1040.1 286.3 L1041 289.4 L1041.9 292.4 L1042.7 295.3 L1043.6 298.1 L1044.5 300.8 L1045.4 303.4 L1046.3 305.9 L1047.2 308.4 L1048 310.7 L1048.9 313 L1049.8 315.2 L1050.7 317.3 L1051.6 319.4 L1052.4 321.3 L1053.3 323.2 L1054.2 325.1 L1055.1 326.9 L1056 328.6 L1056.9 330.3 L1057.7 331.9 L1058.6 333.4 L1059.5 334.9 L1060.4 336.4 L1061.3 337.8 L1062.2 339.1 L1063 340.4 L1063.9 341.7 L1064.8 342.9 L1065.7 344.1 L1066.6 345.2 L1067.5 346.3 L1068.3 347.3 L1069.2 348.4 L1070.1 349.4 L1071 350.3 L1071.9 351.2 L1072.8 352.1 L1073.6 353 L1074.5 353.8 L1075.4 354.6 L1076.3 355.4 L1077.2 356.1 L1078.1 356.8 L1078.9 357.5 L1079.8 358.2 L1080.7 358.9 L1081.6 359.5 L1082.5 360.1 L1083.3 360.7 L1084.2 361.3 L1085.1 361.8 L1086 362.3 L1086.9 362.8 L1087.8 363.3 L1088.6 363.8 L1089.5 364.3 L1090.4 364.7 L1091.3 365.1 L1092.2 365.6 L1093.1 366 L1093.9 366.3 L1094.8 366.7 L1095.7 367.1 L1096.6 367.4 L1097.5 367.8 L1098.4 368.1 L1099.2 368.4 L1100.1 368.7 L1101 369 L1101.9 369.3 L1102.8 369.5 L1103.7 369.8 L1104.5 370.1 L1105.4 370.3 L1106.3 370.5 L1107.2 370.8 L1108.1 371 L1108.9 371.2 L1109.8 371.4 L1110.7 371.6 L1111.6 371.8 L1112.5 372 L1113.4 372.2 L1114.2 372.4 L1115.1 372.5 L1116 372.7 L1116.9 372.8 L1117.8 373 L1118.7 373.1 L1119.5 373.3 L1120.4 373.4 L1121.3 373.5 L1122.2 373.7 L1123.1 373.8 L1124 373.9" fill="none" stroke="#858515" stroke-width="2.6" stroke-linejoin="round" stroke-linecap="round"/>
<path d="M708.4 382.6 L711.2 382.1 L716.8 378.9 L725.3 376.5 L732.3 375.6 L750.6 377 L778.8 378.9 L807 379.8 L835.2 378.9 L863.3 380.3 L905.6 379.8 L947.9 380.7 L990.1 380.3 L1046.5 381 L1124 381.2" fill="none" stroke="#2222dd" stroke-width="2.6" stroke-linejoin="round" stroke-linecap="round"/>
<rect x="705" y="18" width="426" height="373" fill="none" stroke="#505050" stroke-width="2.2" rx="0"/>
<line x1="705" y1="391" x2="700" y2="391" stroke="#505050" stroke-width="1.6"/>
<text x="695.5" y="399.5" font-size="23.5" font-weight="bold" text-anchor="end" fill="#000">0</text>
<line x1="705" y1="344.4" x2="700" y2="344.4" stroke="#505050" stroke-width="1.6"/>
<text x="695.5" y="352.8" font-size="23.5" font-weight="bold" text-anchor="end" fill="#000">100</text>
<line x1="705" y1="297.8" x2="700" y2="297.8" stroke="#505050" stroke-width="1.6"/>
<text x="695.5" y="306.2" font-size="23.5" font-weight="bold" text-anchor="end" fill="#000">200</text>
<line x1="705" y1="251.1" x2="700" y2="251.1" stroke="#505050" stroke-width="1.6"/>
<text x="695.5" y="259.6" font-size="23.5" font-weight="bold" text-anchor="end" fill="#000">300</text>
<line x1="705" y1="204.5" x2="700" y2="204.5" stroke="#505050" stroke-width="1.6"/>
<text x="695.5" y="213" font-size="23.5" font-weight="bold" text-anchor="end" fill="#000">400</text>
<line x1="705" y1="157.9" x2="700" y2="157.9" stroke="#505050" stroke-width="1.6"/>
<text x="695.5" y="166.3" font-size="23.5" font-weight="bold" text-anchor="end" fill="#000">500</text>
<line x1="705" y1="111.2" x2="700" y2="111.2" stroke="#505050" stroke-width="1.6"/>
<text x="695.5" y="119.7" font-size="23.5" font-weight="bold" text-anchor="end" fill="#000">600</text>
<line x1="705" y1="64.6" x2="700" y2="64.6" stroke="#505050" stroke-width="1.6"/>
<text x="695.5" y="73.1" font-size="23.5" font-weight="bold" text-anchor="end" fill="#000">700</text>
<line x1="705" y1="18" x2="700" y2="18" stroke="#505050" stroke-width="1.6"/>
<text x="695.5" y="26.5" font-size="23.5" font-weight="bold" text-anchor="end" fill="#000">800</text>
<line x1="705" y1="367.7" x2="702" y2="367.7" stroke="#505050" stroke-width="1.3"/>
<line x1="705" y1="321.1" x2="702" y2="321.1" stroke="#505050" stroke-width="1.3"/>
<line x1="705" y1="274.4" x2="702" y2="274.4" stroke="#505050" stroke-width="1.3"/>
<line x1="705" y1="227.8" x2="702" y2="227.8" stroke="#505050" stroke-width="1.3"/>
<line x1="705" y1="181.2" x2="702" y2="181.2" stroke="#505050" stroke-width="1.3"/>
<line x1="705" y1="134.6" x2="702" y2="134.6" stroke="#505050" stroke-width="1.3"/>
<line x1="705" y1="87.9" x2="702" y2="87.9" stroke="#505050" stroke-width="1.3"/>
<line x1="705" y1="41.3" x2="702" y2="41.3" stroke="#505050" stroke-width="1.3"/>
<line x1="1131" y1="391" x2="1126" y2="391" stroke="#505050" stroke-width="1.6"/>
<text x="1141" y="399.5" font-size="23.5" font-weight="bold" text-anchor="start" fill="#000">0</text>
<line x1="1131" y1="297.8" x2="1126" y2="297.8" stroke="#505050" stroke-width="1.6"/>
<text x="1141" y="306.2" font-size="23.5" font-weight="bold" text-anchor="start" fill="#000">50</text>
<line x1="1131" y1="204.5" x2="1126" y2="204.5" stroke="#505050" stroke-width="1.6"/>
<text x="1141" y="213" font-size="23.5" font-weight="bold" text-anchor="start" fill="#000">100</text>
<line x1="1131" y1="111.2" x2="1126" y2="111.2" stroke="#505050" stroke-width="1.6"/>
<text x="1141" y="119.7" font-size="23.5" font-weight="bold" text-anchor="start" fill="#000">150</text>
<line x1="1131" y1="18" x2="1126" y2="18" stroke="#505050" stroke-width="1.6"/>
<text x="1141" y="26.5" font-size="23.5" font-weight="bold" text-anchor="start" fill="#000">200</text>
<line x1="1131" y1="344.4" x2="1128" y2="344.4" stroke="#505050" stroke-width="1.3"/>
<line x1="1131" y1="251.1" x2="1128" y2="251.1" stroke="#505050" stroke-width="1.3"/>
<line x1="1131" y1="157.9" x2="1128" y2="157.9" stroke="#505050" stroke-width="1.3"/>
<line x1="1131" y1="64.6" x2="1128" y2="64.6" stroke="#505050" stroke-width="1.3"/>
<line x1="708.4" y1="391" x2="708.4" y2="396" stroke="#505050" stroke-width="1.6"/>
<text x="707.2" y="419" font-size="23.5" font-weight="bold" text-anchor="middle" fill="#000">0</text>
<line x1="849.3" y1="391" x2="849.3" y2="396" stroke="#505050" stroke-width="1.6"/>
<text x="848.1" y="419" font-size="23.5" font-weight="bold" text-anchor="middle" fill="#000">5</text>
<line x1="990.1" y1="391" x2="990.1" y2="396" stroke="#505050" stroke-width="1.6"/>
<text x="988.9" y="419" font-size="23.5" font-weight="bold" text-anchor="middle" fill="#000">10</text>
<line x1="1131" y1="391" x2="1131" y2="396" stroke="#505050" stroke-width="1.6"/>
<text x="1129.8" y="419" font-size="23.5" font-weight="bold" text-anchor="middle" fill="#000">15</text>
<line x1="778.8" y1="391" x2="778.8" y2="394" stroke="#505050" stroke-width="1.3"/>
<line x1="919.7" y1="391" x2="919.7" y2="394" stroke="#505050" stroke-width="1.3"/>
<line x1="1060.6" y1="391" x2="1060.6" y2="394" stroke="#505050" stroke-width="1.3"/>
<text x="918.5" y="450" font-size="28.6" font-weight="bold" text-anchor="middle" fill="#000">Time (h)</text>
<text x="638.6" y="191.9" font-size="28.6" font-weight="bold" text-anchor="middle" fill="#000" transform="rotate(-90 638.6 191.9)">Temperature (°C)</text>
<text x="1216" y="193.8" font-size="28.4" font-weight="bold" text-anchor="middle" fill="#000" transform="rotate(-90 1216 193.8)">TEMF (mV)</text>
<line x1="731.5" y1="37" x2="779.5" y2="37" stroke="#ee1c24" stroke-width="3"/>
<text x="783" y="44.5" font-size="20" font-weight="bold" text-anchor="start" fill="#000">Hot end</text>
<line x1="862.8" y1="37" x2="911.7" y2="37" stroke="#2222dd" stroke-width="3"/>
<text x="913" y="44.5" font-size="20" font-weight="bold" text-anchor="start" fill="#000">Cold end</text>
<line x1="1006" y1="37" x2="1052" y2="37" stroke="#858515" stroke-width="3"/>
<text x="1056" y="44.5" font-size="20" font-weight="bold" text-anchor="start" fill="#000">TEMF</text>
<text x="579.9" y="33.7" font-size="36" font-weight="bold">(a<tspan font-size="22" dy="8">1</tspan><tspan dy="-8">)</tspan></text>
<defs><linearGradient id="ga2" x1="0" y1="0" x2="1" y2="1"><stop offset="0" stop-color="#d6e5f4"/><stop offset="0.2" stop-color="#f4f6fa"/><stop offset="0.3" stop-color="#fbf4f5"/><stop offset="0.5" stop-color="#f0d2d5"/><stop offset="0.7" stop-color="#e8b2b4"/><stop offset="0.87" stop-color="#e68d8d"/><stop offset="1" stop-color="#f07474"/></linearGradient><radialGradient id="ga2r" cx="0.85" cy="0.85" r="0.35"><stop offset="0" stop-color="#e86a6a" stop-opacity="0.45"/><stop offset="1" stop-color="#e86a6a" stop-opacity="0"/></radialGradient></defs>
<rect x="1318.5" y="1.5" width="495.5" height="382" fill="url(#ga2)" stroke="none" stroke-width="0" rx="0"/>
<rect x="1318.5" y="1.5" width="495.5" height="382" fill="url(#ga2r)" stroke="none" stroke-width="0" rx="0"/>
<path d="M1352.8 370.7 L1387.2 352.4 L1421.5 329.9 L1455.9 304.6 L1490.2 280.7 L1524.6 253.1 L1558.9 225.3 L1593.3 198.4 L1627.6 171.8 L1662 148.9 L1696.3 124.7 L1730.6 100.7 L1765 73.8 L1799.3 43.6" fill="none" stroke="#5c5c5c" stroke-width="2.2" stroke-linejoin="round" stroke-linecap="round" stroke-opacity="0.85"/>
<path d="M1352.8 359.3 L1387.2 335.3 L1421.5 308.4 L1455.9 281.1 L1490.2 257.8 L1524.6 233.4 L1558.9 215.5 L1593.3 189.7 L1627.6 164.8 L1662 139.3 L1696.3 113.1 L1730.6 83.3 L1765 56.4 L1799.3 33.1" fill="none" stroke="#e05050" stroke-width="2.2" stroke-linejoin="round" stroke-linecap="round" stroke-opacity="0.85"/>
<path d="M1352.8 358.4 L1387.2 333.5 L1421.5 304.6 L1455.9 273 L1490.2 243.9 L1524.6 221.5 L1558.9 198.4 L1593.3 171.8 L1627.6 146 L1662 120.5 L1696.3 93.8 L1730.6 67.6 L1765 44 L1799.3 26.1" fill="none" stroke="#4674d4" stroke-width="2.2" stroke-linejoin="round" stroke-linecap="round" stroke-opacity="0.85"/>
<path d="M1352.8 359.1 L1387.2 334.7 L1421.5 306.9 L1455.9 288.1 L1490.2 266.1 L1524.6 242.3 L1558.9 214.6 L1593.3 188.8 L1627.6 163.9 L1662 138.4 L1696.3 112.4 L1730.6 86.8 L1765 57.5 L1799.3 31.7" fill="none" stroke="#3aa884" stroke-width="2.2" stroke-linejoin="round" stroke-linecap="round" stroke-opacity="0.85"/>
<rect x="1348.8" y="366.7" width="8" height="8" fill="#5c5c5c" stroke="none" stroke-width="0" rx="0"/>
<rect x="1383.2" y="348.4" width="8" height="8" fill="#5c5c5c" stroke="none" stroke-width="0" rx="0"/>
<rect x="1417.5" y="325.9" width="8" height="8" fill="#5c5c5c" stroke="none" stroke-width="0" rx="0"/>
<rect x="1451.9" y="300.6" width="8" height="8" fill="#5c5c5c" stroke="none" stroke-width="0" rx="0"/>
<rect x="1486.2" y="276.7" width="8" height="8" fill="#5c5c5c" stroke="none" stroke-width="0" rx="0"/>
<rect x="1520.6" y="249.1" width="8" height="8" fill="#5c5c5c" stroke="none" stroke-width="0" rx="0"/>
<rect x="1554.9" y="221.3" width="8" height="8" fill="#5c5c5c" stroke="none" stroke-width="0" rx="0"/>
<rect x="1589.3" y="194.4" width="8" height="8" fill="#5c5c5c" stroke="none" stroke-width="0" rx="0"/>
<rect x="1623.6" y="167.8" width="8" height="8" fill="#5c5c5c" stroke="none" stroke-width="0" rx="0"/>
<rect x="1658" y="144.9" width="8" height="8" fill="#5c5c5c" stroke="none" stroke-width="0" rx="0"/>
<rect x="1692.3" y="120.7" width="8" height="8" fill="#5c5c5c" stroke="none" stroke-width="0" rx="0"/>
<rect x="1726.6" y="96.7" width="8" height="8" fill="#5c5c5c" stroke="none" stroke-width="0" rx="0"/>
<rect x="1761" y="69.8" width="8" height="8" fill="#5c5c5c" stroke="none" stroke-width="0" rx="0"/>
<rect x="1795.3" y="39.6" width="8" height="8" fill="#5c5c5c" stroke="none" stroke-width="0" rx="0"/>
<circle cx="1352.8" cy="359.3" r="4.3" fill="#e05050"/>
<circle cx="1387.2" cy="335.3" r="4.3" fill="#e05050"/>
<circle cx="1421.5" cy="308.4" r="4.3" fill="#e05050"/>
<circle cx="1455.9" cy="281.1" r="4.3" fill="#e05050"/>
<circle cx="1490.2" cy="257.8" r="4.3" fill="#e05050"/>
<circle cx="1524.6" cy="233.4" r="4.3" fill="#e05050"/>
<circle cx="1558.9" cy="215.5" r="4.3" fill="#e05050"/>
<circle cx="1593.3" cy="189.7" r="4.3" fill="#e05050"/>
<circle cx="1627.6" cy="164.8" r="4.3" fill="#e05050"/>
<circle cx="1662" cy="139.3" r="4.3" fill="#e05050"/>
<circle cx="1696.3" cy="113.1" r="4.3" fill="#e05050"/>
<circle cx="1730.6" cy="83.3" r="4.3" fill="#e05050"/>
<circle cx="1765" cy="56.4" r="4.3" fill="#e05050"/>
<circle cx="1799.3" cy="33.1" r="4.3" fill="#e05050"/>
<path d="M1352.8 353.4 L1357.6 362.4 L1348 362.4Z" fill="#4674d4"/>
<path d="M1387.2 328.5 L1392 337.5 L1382.4 337.5Z" fill="#4674d4"/>
<path d="M1421.5 299.6 L1426.3 308.6 L1416.7 308.6Z" fill="#4674d4"/>
<path d="M1455.9 268 L1460.7 277 L1451.1 277Z" fill="#4674d4"/>
<path d="M1490.2 238.9 L1495 247.9 L1485.4 247.9Z" fill="#4674d4"/>
<path d="M1524.6 216.5 L1529.4 225.5 L1519.8 225.5Z" fill="#4674d4"/>
<path d="M1558.9 193.4 L1563.7 202.4 L1554.1 202.4Z" fill="#4674d4"/>
<path d="M1593.3 166.8 L1598.1 175.8 L1588.5 175.8Z" fill="#4674d4"/>
<path d="M1627.6 141 L1632.4 150 L1622.8 150Z" fill="#4674d4"/>
<path d="M1662 115.5 L1666.8 124.5 L1657.2 124.5Z" fill="#4674d4"/>
<path d="M1696.3 88.8 L1701.1 97.8 L1691.5 97.8Z" fill="#4674d4"/>
<path d="M1730.6 62.6 L1735.4 71.6 L1725.8 71.6Z" fill="#4674d4"/>
<path d="M1765 39 L1769.8 48 L1760.2 48Z" fill="#4674d4"/>
<path d="M1799.3 21.1 L1804.1 30.1 L1794.5 30.1Z" fill="#4674d4"/>
<path d="M1352.8 364.1 L1357.6 355.1 L1348 355.1Z" fill="#3aa884"/>
<path d="M1387.2 339.7 L1392 330.7 L1382.4 330.7Z" fill="#3aa884"/>
<path d="M1421.5 311.9 L1426.3 302.9 L1416.7 302.9Z" fill="#3aa884"/>
<path d="M1455.9 293.1 L1460.7 284.1 L1451.1 284.1Z" fill="#3aa884"/>
<path d="M1490.2 271.1 L1495 262.1 L1485.4 262.1Z" fill="#3aa884"/>
<path d="M1524.6 247.3 L1529.4 238.3 L1519.8 238.3Z" fill="#3aa884"/>
<path d="M1558.9 219.6 L1563.7 210.6 L1554.1 210.6Z" fill="#3aa884"/>
<path d="M1593.3 193.8 L1598.1 184.8 L1588.5 184.8Z" fill="#3aa884"/>
<path d="M1627.6 168.9 L1632.4 159.9 L1622.8 159.9Z" fill="#3aa884"/>
<path d="M1662 143.4 L1666.8 134.4 L1657.2 134.4Z" fill="#3aa884"/>
<path d="M1696.3 117.4 L1701.1 108.4 L1691.5 108.4Z" fill="#3aa884"/>
<path d="M1730.6 91.8 L1735.4 82.8 L1725.8 82.8Z" fill="#3aa884"/>
<path d="M1765 62.5 L1769.8 53.5 L1760.2 53.5Z" fill="#3aa884"/>
<path d="M1799.3 36.7 L1804.1 27.7 L1794.5 27.7Z" fill="#3aa884"/>
<rect x="1318.5" y="1.5" width="495.5" height="382" fill="none" stroke="#555" stroke-width="2" rx="0"/>
<line x1="1318.5" y1="383.5" x2="1313.5" y2="383.5" stroke="#505050" stroke-width="1.6"/>
<text x="1310" y="391.7" font-size="22.8" font-weight="bold" text-anchor="end" fill="#000">0</text>
<line x1="1318.5" y1="338.7" x2="1313.5" y2="338.7" stroke="#505050" stroke-width="1.6"/>
<text x="1310" y="346.9" font-size="22.8" font-weight="bold" text-anchor="end" fill="#000">20</text>
<line x1="1318.5" y1="293.9" x2="1313.5" y2="293.9" stroke="#505050" stroke-width="1.6"/>
<text x="1310" y="302.1" font-size="22.8" font-weight="bold" text-anchor="end" fill="#000">40</text>
<line x1="1318.5" y1="249.1" x2="1313.5" y2="249.1" stroke="#505050" stroke-width="1.6"/>
<text x="1310" y="257.3" font-size="22.8" font-weight="bold" text-anchor="end" fill="#000">60</text>
<line x1="1318.5" y1="204.3" x2="1313.5" y2="204.3" stroke="#505050" stroke-width="1.6"/>
<text x="1310" y="212.5" font-size="22.8" font-weight="bold" text-anchor="end" fill="#000">80</text>
<line x1="1318.5" y1="159.4" x2="1313.5" y2="159.4" stroke="#505050" stroke-width="1.6"/>
<text x="1310" y="167.6" font-size="22.8" font-weight="bold" text-anchor="end" fill="#000">100</text>
<line x1="1318.5" y1="114.6" x2="1313.5" y2="114.6" stroke="#505050" stroke-width="1.6"/>
<text x="1310" y="122.8" font-size="22.8" font-weight="bold" text-anchor="end" fill="#000">120</text>
<line x1="1318.5" y1="69.8" x2="1313.5" y2="69.8" stroke="#505050" stroke-width="1.6"/>
<text x="1310" y="78" font-size="22.8" font-weight="bold" text-anchor="end" fill="#000">140</text>
<line x1="1318.5" y1="25" x2="1313.5" y2="25" stroke="#505050" stroke-width="1.6"/>
<text x="1310" y="33.2" font-size="22.8" font-weight="bold" text-anchor="end" fill="#000">160</text>
<line x1="1318.5" y1="361.1" x2="1315.5" y2="361.1" stroke="#505050" stroke-width="1.3"/>
<line x1="1318.5" y1="316.3" x2="1315.5" y2="316.3" stroke="#505050" stroke-width="1.3"/>
<line x1="1318.5" y1="271.5" x2="1315.5" y2="271.5" stroke="#505050" stroke-width="1.3"/>
<line x1="1318.5" y1="226.7" x2="1315.5" y2="226.7" stroke="#505050" stroke-width="1.3"/>
<line x1="1318.5" y1="181.8" x2="1315.5" y2="181.8" stroke="#505050" stroke-width="1.3"/>
<line x1="1318.5" y1="137" x2="1315.5" y2="137" stroke="#505050" stroke-width="1.3"/>
<line x1="1318.5" y1="92.2" x2="1315.5" y2="92.2" stroke="#505050" stroke-width="1.3"/>
<line x1="1318.5" y1="47.4" x2="1315.5" y2="47.4" stroke="#505050" stroke-width="1.3"/>
<line x1="1318.5" y1="383.5" x2="1318.5" y2="388.5" stroke="#505050" stroke-width="1.6"/>
<text x="1317.3" y="410.5" font-size="22.8" font-weight="bold" text-anchor="middle" fill="#000">0</text>
<line x1="1387.2" y1="383.5" x2="1387.2" y2="388.5" stroke="#505050" stroke-width="1.6"/>
<text x="1386" y="410.5" font-size="22.8" font-weight="bold" text-anchor="middle" fill="#000">100</text>
<line x1="1455.9" y1="383.5" x2="1455.9" y2="388.5" stroke="#505050" stroke-width="1.6"/>
<text x="1454.7" y="410.5" font-size="22.8" font-weight="bold" text-anchor="middle" fill="#000">200</text>
<line x1="1524.6" y1="383.5" x2="1524.6" y2="388.5" stroke="#505050" stroke-width="1.6"/>
<text x="1523.4" y="410.5" font-size="22.8" font-weight="bold" text-anchor="middle" fill="#000">300</text>
<line x1="1593.3" y1="383.5" x2="1593.3" y2="388.5" stroke="#505050" stroke-width="1.6"/>
<text x="1592.1" y="410.5" font-size="22.8" font-weight="bold" text-anchor="middle" fill="#000">400</text>
<line x1="1662" y1="383.5" x2="1662" y2="388.5" stroke="#505050" stroke-width="1.6"/>
<text x="1660.8" y="410.5" font-size="22.8" font-weight="bold" text-anchor="middle" fill="#000">500</text>
<line x1="1730.6" y1="383.5" x2="1730.6" y2="388.5" stroke="#505050" stroke-width="1.6"/>
<text x="1729.4" y="410.5" font-size="22.8" font-weight="bold" text-anchor="middle" fill="#000">600</text>
<line x1="1799.3" y1="383.5" x2="1799.3" y2="388.5" stroke="#505050" stroke-width="1.6"/>
<text x="1798.1" y="410.5" font-size="22.8" font-weight="bold" text-anchor="middle" fill="#000">700</text>
<line x1="1352.8" y1="383.5" x2="1352.8" y2="386.5" stroke="#505050" stroke-width="1.3"/>
<line x1="1421.5" y1="383.5" x2="1421.5" y2="386.5" stroke="#505050" stroke-width="1.3"/>
<line x1="1490.2" y1="383.5" x2="1490.2" y2="386.5" stroke="#505050" stroke-width="1.3"/>
<line x1="1558.9" y1="383.5" x2="1558.9" y2="386.5" stroke="#505050" stroke-width="1.3"/>
<line x1="1627.6" y1="383.5" x2="1627.6" y2="386.5" stroke="#505050" stroke-width="1.3"/>
<line x1="1696.3" y1="383.5" x2="1696.3" y2="386.5" stroke="#505050" stroke-width="1.3"/>
<line x1="1765" y1="383.5" x2="1765" y2="386.5" stroke="#505050" stroke-width="1.3"/>
<text x="1557.5" y="444" font-size="28.6" font-weight="bold" text-anchor="middle" fill="#000">Temperature different (°C)</text>
<text x="1255.6" y="193.8" font-size="28.4" font-weight="bold" text-anchor="middle" fill="#000" transform="rotate(-90 1255.6 193.8)">TEMF (mV)</text>
<line x1="1352" y1="35.7" x2="1398" y2="35.7" stroke="#5c5c5c" stroke-width="2.2"/>
<rect x="1371" y="31.7" width="8" height="8" fill="#5c5c5c" stroke="none" stroke-width="0" rx="0"/>
<line x1="1352" y1="61.2" x2="1398" y2="61.2" stroke="#e05050" stroke-width="2.2"/>
<circle cx="1375" cy="61.2" r="4.3" fill="#e05050"/>
<line x1="1352" y1="86.9" x2="1398" y2="86.9" stroke="#4674d4" stroke-width="2.2"/>
<path d="M1375 81.9 L1379.8 90.9 L1370.2 90.9Z" fill="#4674d4"/>
<line x1="1352" y1="112" x2="1398" y2="112" stroke="#3aa884" stroke-width="2.2"/>
<path d="M1375 117 L1379.8 108 L1370.2 108Z" fill="#3aa884"/>
<text x="1409.5" y="42.7" font-size="20" font-weight="bold" text-anchor="start" fill="#000">The first time</text>
<text x="1409.5" y="68.2" font-size="20" font-weight="bold" text-anchor="start" fill="#000">The second time</text>
<text x="1409.5" y="93.9" font-size="20" font-weight="bold" text-anchor="start" fill="#000">The third time</text>
<text x="1409.5" y="119" font-size="20" font-weight="bold" text-anchor="start" fill="#000">The forth time</text>
<text x="1202.2" y="33.4" font-size="36" font-weight="bold">(a<tspan font-size="22" dy="8">2</tspan><tspan dy="-8">)</tspan></text>
<text x="17.7" y="562" font-size="36" font-weight="bold" text-anchor="start" fill="#000">(b)</text>
<circle cx="182.7" cy="622" r="14.5" fill="#5aaab8"/>
<circle cx="153.3" cy="641.8" r="8.7" fill="#5aaab8"/>
<circle cx="164.4" cy="667.4" r="5.8" fill="#5aaab8"/>
<circle cx="146.6" cy="674.6" r="5" fill="#5aaab8"/>
<g transform="translate(138.5 687.2) rotate(25.5)">
<path d="M-11 64 L-11 116.5 A11 11 0 0 0 11 116.5 L11 64 Z" fill="#8cc4d8"/>
<circle cx="-2" cy="75" r="3.5" fill="#fff"/><circle cx="-6" cy="84" r="2" fill="#fff"/><circle cx="0" cy="60" r="3.5" fill="none" stroke="#e8eef0" stroke-width="1"/>
<path d="M-14.5 -1 L-11 5 L-11 116.5 A11 11 0 0 0 11 116.5 L11 5 L14.5 -1 Z" fill="none" stroke="#4a5864" stroke-width="2" stroke-linejoin="round"/>
</g>
<text x="88" y="834.4" font-size="22" font-weight="bold" text-anchor="middle" fill="#000" textLength="176" lengthAdjust="spacingAndGlyphs">Liquid nitrogen</text>
<rect x="230.5" y="613.4" width="131.5" height="279" fill="#f0f0f0" stroke="none" stroke-width="0" rx="0"/>
<rect x="261" y="646.9" width="59.3" height="11.1" fill="#ff7a1a" stroke="none" stroke-width="0" rx="0"/>
<rect x="261" y="658" width="14.7" height="201" fill="#dbb48c" stroke="none" stroke-width="0" rx="0"/>
<rect x="306" y="646.9" width="14.3" height="212" fill="#ff7a1a" stroke="none" stroke-width="0" rx="0"/>
<circle cx="291.5" cy="650.5" r="9.6" fill="#f6b8c8" stroke="#d49aaa" stroke-width="1.6"/>
<circle cx="291.5" cy="650.5" r="3.5" fill="none" stroke="#e8a0b4" stroke-width="0.8"/>
<line x1="292" y1="641" x2="285.2" y2="578.6" stroke="#555" stroke-width="1.3"/>
<path d="M284.5 572 L290.2 582.4 L281.2 583.4Z" fill="#000"/>
<path d="M376 646.9 C360 640 345 629.5 326 629.7 C314 629.8 308 638 308 647 C308 656 314 664.2 326 664.2 C345 664.2 360 653.5 376 646.9 Z" fill="#e01414"/>
<path d="M358 646.9 C348 641 338 636.5 324 636.8 C315 637 311.5 642 311.5 647 C311.5 652 315 657 324 657 C338 657 348 652.5 358 646.9 Z" fill="#ffc21a"/>
<path d="M348 646.9 C340 643 333 640.5 324 641 C318 641.3 316 644 316 647 C316 650 318 652.7 324 653 C333 653.3 340 650.5 348 646.9 Z" fill="#fff27a"/>
<line x1="346" y1="628.5" x2="360" y2="635" stroke="#e03030" stroke-width="1.6"/>
<line x1="346" y1="665.5" x2="360" y2="659" stroke="#e03030" stroke-width="1.6"/>
<path d="M495.6 588.1 L570 588.1 A20.8 20.8 0 0 1 570 629.7 L495.6 629.7 Z" fill="#45e0d5"/>
<path d="M460.2 588.1 L496.6 588.1 C500 600 508 615 525 622.6 L525 635.7 L435.8 635.7 L435.8 623.6 L416.6 623.6 L416.6 635.7 L436 635.7 Z" fill="#f23232"/>
<path d="M460.2 588.1 L496.6 588.1 C500 600 508 615 525 622.6 L525 636 L416.6 636 L416.6 623.6 L437 623.6 Z" fill="#f23232"/>
<rect x="416.6" y="630" width="108.4" height="5.5" fill="#d42222" stroke="none" stroke-width="0" rx="0"/>
<rect x="387.2" y="635.7" width="168.2" height="21.3" fill="#f23232" stroke="none" stroke-width="0" rx="10.6"/>
<path d="M427.7 656 L446 677.3 L502.7 683.4 L508.8 701.6 L542.3 701.6 L527 656 Z" fill="#f23232"/>
<rect x="460" y="658" width="34.6" height="3" fill="#ffffff" stroke="none" stroke-width="0" rx="1.5"/>
<rect x="383" y="640.8" width="5" height="11.2" fill="#45e0d5" stroke="none" stroke-width="0" rx="2"/>
<text x="497.9" y="577" font-size="22" font-weight="bold" text-anchor="middle" fill="#000" textLength="117" lengthAdjust="spacingAndGlyphs">Spray gun</text>
<path d="M417.7 780 L495.8 767.3 L495.8 813.3 L427.8 823.4 Z" fill="#ffd400"/>
<path d="M420 790 L495.8 779 L495.8 786 L421 797 Z" fill="#fff060" opacity="0.8"/>
<path d="M422 808 L495.8 798 L495.8 813.3 L427.8 823.4 Z" fill="#f2b800"/>
<ellipse cx="416.5" cy="802" rx="8" ry="21" fill="#b8bcc0" stroke="#8a8e92" stroke-width="1" transform="rotate(-9 416.5 802)"/>
<rect x="399.4" y="797" width="10" height="13.8" fill="#f8c010" stroke="none" stroke-width="0" rx="2"/>
<path d="M443 809.5 L553.7 774.2 C572 776 574 822 568.8 823.4 L458 853.6 Z" fill="#3cb4d6"/>
<path d="M446 815 L555 781 L560 790 L449 824 Z" fill="#7ddcf0" opacity="0.9"/>
<path d="M452 840 L566 810 L568.8 823.4 L458 853.6 Z" fill="#2a9cc0"/>
<ellipse cx="446" cy="831.5" rx="9" ry="22.5" fill="#b8bcc0" stroke="#8a8e92" stroke-width="1" transform="rotate(-14 446 831.5)"/>
<rect x="426.5" y="828" width="10.5" height="15.5" fill="#3cb4d6" stroke="none" stroke-width="0" rx="2"/>
<defs><linearGradient id="gcan" x1="0" y1="0" x2="1" y2="0"><stop offset="0" stop-color="#f03a3a"/><stop offset="0.5" stop-color="#f22a2a"/><stop offset="0.85" stop-color="#d81a1a"/><stop offset="1" stop-color="#b81010"/></linearGradient></defs>
<path d="M496.4 752.8 L547.4 752.8 L547.4 870 Q547.4 876 540 876 L503.8 876 Q496.4 876 496.4 870 Z" fill="url(#gcan)"/>
<rect x="502.5" y="760" width="2" height="100" fill="#ff9a9a" stroke="none" stroke-width="0" rx="0" opacity="0.8"/>
<path d="M496.4 754 L496.4 748 Q498 736 512 734 L532 734 Q546 736 548 748 L548 754 Z" fill="#b8bec4"/>
<rect x="496.4" y="751.5" width="51.6" height="3" fill="#8e969e" stroke="none" stroke-width="0" rx="0"/>
<rect x="513.4" y="722.6" width="17.6" height="12.6" fill="#e82424" stroke="none" stroke-width="0" rx="2"/>
<line x1="267" y1="861.2" x2="255" y2="891.5" stroke="#555" stroke-width="1.3"/>
<line x1="311.7" y1="860.4" x2="255" y2="891.5" stroke="#555" stroke-width="1.3"/>
<line x1="255" y1="891.5" x2="243.3" y2="916.5" stroke="#555" stroke-width="1.3"/>
<path d="M240.5 922.5 L241.1 910.6 L249.2 914.4Z" fill="#000"/>
<text x="371.5" y="887.2" font-size="19.5" font-weight="bold" text-anchor="middle" fill="#000" textLength="145" lengthAdjust="spacingAndGlyphs">Flexible sensor</text>
<text x="515" y="899.4" font-size="22" font-weight="bold" text-anchor="middle" fill="#000" textLength="128" lengthAdjust="spacingAndGlyphs">Butane gas</text>
<text x="272.7" y="535" font-size="22" font-weight="bold" text-anchor="middle" fill="#000" textLength="142" lengthAdjust="spacingAndGlyphs">Temperature</text>
<text x="272.7" y="563.3" font-size="22" font-weight="bold" text-anchor="middle" fill="#000" textLength="207" lengthAdjust="spacingAndGlyphs">detecting terminal</text>
<text x="300.3" y="944.4" font-size="22" font-weight="bold" text-anchor="middle" fill="#000" textLength="208" lengthAdjust="spacingAndGlyphs">Signal acquisition</text>
<text x="298.7" y="972.4" font-size="22" font-weight="bold" text-anchor="middle" fill="#000" textLength="91.5" lengthAdjust="spacingAndGlyphs">terminal</text>
<clipPath id="cb1"><rect x="714" y="541" width="415" height="372"/></clipPath>
<g clip-path="url(#cb1)">
<path d="M720.5 862.5 L1121.7 862.5" fill="none" stroke="#2222dd" stroke-width="2.6" stroke-linejoin="round" stroke-linecap="round"/>
<path d="M720.5 867.2 L721.1 857.9 L722.9 860.2 L724.1 860.7 L724.4 842 L724.6 822.2 L724.8 801.9 L725.1 782.1 L725.3 763.4 L725.6 746.8 L725.8 733 L726.1 722.2 L726.3 711.8 L726.5 702.4 L726.8 695 L727 690.7 L727.3 690.3 L727.5 691.4 L727.7 693.3 L728 695.7 L728.2 698.2 L728.5 700.9 L728.7 704.7 L728.9 709.1 L729.2 713 L729.4 715.4 L729.7 715.7 L729.9 715.2 L730.2 714.6 L730.4 713.9 L730.6 713.5 L730.9 713.5 L731.1 713.8 L731.4 714.3 L731.6 715 L731.8 715.8 L732.1 716.6 L732.3 717.4 L732.6 718.1 L732.6 718.1 L732.9 725.1 L733.2 731.7 L733.5 737.9 L733.8 743.7 L734.1 749 L734.4 754.1 L734.7 758.8 L735 763.3 L735.3 767.4 L735.6 771.3 L735.9 775 L736.2 778.4 L736.5 781.7 L736.8 784.7 L737.1 787.6 L737.4 790.3 L737.7 792.9 L738 795.3 L738.3 797.6 L738.6 799.8 L738.9 801.8 L739.2 803.8 L739.5 805.6 L739.8 807.4 L740.1 809.1 L740.4 810.7 L740.7 812.2 L741 813.6 L741.3 815 L741.6 816.3 L741.9 817.6 L742.2 818.8 L742.5 820 L742.8 821.1 L743.1 822.1 L743.4 823.2 L743.7 824.1 L744 825.1 L744.3 826 L744.6 826.9 L744.9 827.7 L745.2 828.5 L745.5 829.3 L745.8 830.1 L746.1 830.8 L746.4 831.5 L746.7 832.2 L747 832.9 L747.3 833.5 L747.7 834.2 L748 834.8 L748.3 835.4 L748.6 835.9 L748.9 836.5 L749.2 837 L749.5 837.6 L749.8 838.1 L750.1 838.6 L750.4 839.1 L750.7 839.5 L751 840 L751.3 840.5 L751.6 840.9 L751.9 841.3 L752.2 841.8 L752.5 842.2 L752.8 842.6 L753.1 843 L753.4 843.3 L753.7 843.7 L754 844.1 L754.3 844.4 L754.6 844.8 L754.9 845.1 L755.2 845.5 L755.5 845.8 L755.8 846.1 L756.1 846.4 L756.4 846.7 L756.7 847 L757 847.3 L757.3 847.6 L757.6 847.9 L757.9 848.2 L758.2 848.4 L758.5 848.7 L758.8 848.9 L759.1 849.2 L759.4 849.5 L759.7 849.7 L760 849.9 L760.3 850.2 L760.6 850.4 L760.9 850.6 L761.2 850.8 L761.5 851.1 L761.8 851.3 L762.1 851.5 L762.4 851.7 L762.7 851.9 L763 852.1 L763.3 852.3 L763.6 852.5 L763.9 852.6 L764.2 852.8 L764.4 852.9 L764.7 829.1 L764.9 801.4 L765.1 774.1 L765.4 750.3 L765.6 732.8 L765.9 723.3 L766.1 715.8 L766.4 709.4 L766.6 704.7 L766.8 702.1 L767.1 702.4 L767.3 706.3 L767.6 712.3 L767.8 718.2 L768 722.2 L768.3 722.7 L768.5 722.2 L768.8 721.6 L769 720.9 L769.3 720.5 L769.5 720.5 L769.7 720.9 L770 721.7 L770.2 722.7 L770.5 723.9 L770.7 725.2 L770.9 726.4 L771.2 727.4 L771.5 734 L771.8 740.2 L772.1 746 L772.4 751.4 L772.7 756.4 L773 761.2 L773.3 765.6 L773.6 769.7 L773.9 773.6 L774.2 777.3 L774.5 780.7 L774.8 784 L775.1 787 L775.4 789.9 L775.7 792.6 L776 795.1 L776.3 797.5 L776.6 799.8 L776.9 802 L777.2 804 L777.5 805.9 L777.8 807.8 L778.1 809.5 L778.4 811.1 L778.7 812.7 L779 814.2 L779.3 815.6 L779.6 817 L779.9 818.3 L780.2 819.5 L780.5 820.7 L780.8 821.8 L781.1 822.9 L781.4 824 L781.7 825 L782 825.9 L782.3 826.8 L782.6 827.7 L782.9 828.6 L783.2 829.4 L783.6 830.2 L783.9 830.9 L784.2 831.7 L784.5 832.4 L784.8 833.1 L785.1 833.8 L785.4 834.4 L785.7 835 L786 835.6 L786.3 836.2 L786.6 836.8 L786.9 837.4 L787.2 837.9 L787.5 838.4 L787.8 838.9 L788.1 839.4 L788.4 839.9 L788.7 840.4 L789 840.8 L789.3 841.3 L789.6 841.7 L789.9 842.1 L790.2 842.5 L790.5 842.9 L790.8 843.3 L791.1 843.7 L791.4 844.1 L791.7 844.5 L792 844.8 L792.3 845.2 L792.6 845.5 L792.9 845.9 L793.2 846.2 L793.5 846.5 L793.8 846.8 L794.1 847.1 L794.4 847.4 L794.7 847.7 L795 848 L795.3 848.3 L795.6 848.6 L795.9 848.8 L796.2 849.1 L796.5 849.3 L796.8 849.6 L797.1 849.8 L797.4 850.1 L797.7 850.3 L798 850.6 L798.3 850.8 L798.6 851 L798.9 851.2 L799.2 851.4 L799.5 851.7 L799.8 851.9 L800 852 L800.3 829 L800.5 801.1 L800.7 773.7 L801 749.8 L801.2 732.6 L801.5 723.6 L801.7 716.7 L802 711 L802.2 706.7 L802.4 704.4 L802.7 704.6 L802.9 707.7 L803.2 712.5 L803.4 717.6 L803.6 721.6 L803.9 723.4 L804.1 724.6 L804.4 725.5 L804.6 726.3 L804.8 727 L805.1 727.8 L805.3 728.5 L805.6 729.1 L805.8 729.7 L806.1 730.3 L806.3 730.9 L806.5 731.5 L806.8 732.1 L807.1 738.5 L807.4 744.4 L807.7 750 L808 755.2 L808.3 760.1 L808.6 764.7 L808.9 769 L809.2 773 L809.5 776.8 L809.8 780.3 L810.1 783.6 L810.4 786.8 L810.7 789.7 L811 792.5 L811.3 795.1 L811.6 797.5 L811.9 799.9 L812.2 802.1 L812.5 804.1 L812.8 806.1 L813.1 808 L813.4 809.7 L813.7 811.4 L814 813 L814.3 814.5 L814.6 816 L814.9 817.3 L815.2 818.7 L815.5 819.9 L815.8 821.1 L816.1 822.2 L816.4 823.3 L816.7 824.4 L817 825.4 L817.3 826.4 L817.6 827.3 L817.9 828.2 L818.2 829 L818.5 829.9 L818.8 830.7 L819.1 831.4 L819.4 832.2 L819.8 832.9 L820.1 833.6 L820.4 834.2 L820.7 834.9 L821 835.5 L821.3 836.1 L821.6 836.7 L821.9 837.3 L822.2 837.8 L822.5 838.3 L822.8 838.9 L823.1 839.4 L823.4 839.9 L823.7 840.3 L824 840.8 L824.3 841.3 L824.6 841.7 L824.9 842.1 L825.2 842.6 L825.5 843 L825.8 843.4 L826.1 843.8 L826.4 844.1 L826.7 844.5 L827 844.9 L827.3 845.2 L827.6 845.6 L827.9 845.9 L828.2 846.2 L828.5 846.6 L828.8 846.9 L829.1 847.2 L829.4 847.5 L829.7 847.8 L830 848.1 L830.3 848.4 L830.6 848.6 L830.9 848.9 L831.2 849.2 L831.5 849.4 L831.8 849.7 L832.1 849.9 L832.4 850.2 L832.7 850.4 L833 850.7 L833.3 850.9 L833.6 851.1 L833.9 851.3 L834.2 851.6 L834.5 851.8 L834.8 852 L835.1 852.2 L835.4 852.4 L835.7 852.6 L836 852.8 L836.3 853 L836.6 853.1 L836.9 853.3 L837.2 853.5 L837.5 853.7 L837.9 853.8 L838.2 854 L838.5 854.2 L838.8 854.3 L839.1 854.5 L839.4 854.6 L839.7 854.8 L840 854.9 L840.3 855.1 L840.6 855.2 L840.9 855.4 L841.2 855.5 L841.5 855.7 L841.8 855.8 L842.1 855.9 L842.4 856 L842.7 856.1 L843 856.2 L843.3 856.3 L843.6 856.4 L843.9 856.6 L844.2 856.7 L844.5 856.8 L844.8 856.9 L845.1 857 L845.4 857.1 L845.7 857.2 L846 857.4 L846.3 857.5 L846.6 857.6 L846.9 857.7 L847.2 857.9 L847.5 858 L847.8 858.2 L848.1 858.4 L848.4 858.5 L848.7 858.7 L849 858.9 L849.3 859.1 L849.6 859.2 L849.9 859.4 L850.2 859.5 L850.5 859.7 L850.8 859.7 L851.1 859.8 L851.4 859.9 L851.7 859.9 L852 860 L852.3 860 L852.6 860 L852.9 860.1 L853.2 860.1 L853.5 860.1 L853.8 860.2 L854.1 860.2 L854.4 860.2 L854.7 860.3 L855 860.3 L855.3 860.3 L855.7 860.4 L856 860.4 L856.3 860.5 L856.6 860.6 L856.9 860.7 L857.2 860.8 L857.5 860.9 L857.8 861.2 L858.1 861.5 L858.4 862 L858.7 862.5 L859 868.2 L859.3 879.3 L859.6 889.2 L859.9 894.9 L860.2 899.9 L860.5 903.5 L860.8 904.3 L861.1 900.2 L861.4 894 L861.7 890.5 L862 890 L862.3 889.5 L862.6 889.2 L862.9 888.8 L863.2 888.5 L863.5 888.3 L863.8 888.1 L864.1 888 L864.4 887.8 L864.7 887.8 L865 887.7 L865.3 887.7 L865.6 887.7 L865.9 887.7 L866.2 887.7 L866.5 887.7 L866.8 887.8 L867.1 887.8 L867.4 887.8 L867.7 887.9 L868 887.9 L868.3 888 L868.6 888 L868.9 888.1 L869.2 888.1 L869.5 888.2 L869.8 888.2 L870.1 888.3 L870.4 888.3 L870.7 888.4 L871 888.5 L871.3 888.5 L871.6 888.6 L871.9 888.6 L872.2 888.7 L872.5 888.8 L872.8 888.8 L873.1 888.9 L873.4 888.9 L873.8 889 L874.1 889 L874.4 889.1 L874.7 889.1 L875 889.2 L875.3 889.2 L875.6 889.2 L875.9 889.3 L876.2 889.3 L876.5 889.3 L876.8 889.3 L877.1 889.3 L877.4 889.3 L877.7 889.3 L878 889.3 L878.3 889.3 L878.6 889.3 L878.9 889.3 L879.2 889.3 L879.5 889.3 L879.8 889.3 L880.1 889.3 L880.4 889.3 L880.7 889.2 L881 889.2 L881.3 889.2 L881.6 889.2 L881.9 889.2 L882.2 889.2 L882.5 889.1 L882.8 889.1 L883.1 889.1 L883.4 889.1 L883.7 889.1 L884 889 L884.3 889 L884.6 889 L884.9 889 L885.2 888.9 L885.5 888.9 L885.8 888.9 L886.1 888.9 L886.4 888.8 L886.7 888.8 L887 888.8 L887.3 888.8 L887.6 888.8 L887.9 888.7 L888.2 888.7 L888.5 888.7 L888.8 888.7 L889.1 888.7 L889.4 888.6 L889.7 888.6 L890 888.6 L890.3 888.6 L890.6 888.6 L890.9 888.5 L891.2 888.5 L891.5 888.5 L891.9 888.5 L892.2 888.5 L892.5 888.5 L892.8 888.4 L893.1 888.4 L893.4 888.4 L893.7 888.4 L894 888.4 L894.3 888.3 L894.6 888.3 L894.9 888.3 L895.2 888.3 L895.5 888.3 L895.8 888.2 L896.1 888.2 L896.4 888.2 L896.7 888.2 L897 888.2 L897 888.2 L897.3 858.7 L897.5 826.1 L897.8 793.5 L898 764.1 L898.2 741 L898.5 727.4 L898.7 720 L899 713.6 L899.2 708.6 L899.5 705.3 L899.7 704.1 L899.9 706 L900.2 710.7 L900.4 716.2 L900.7 720.8 L900.9 722.7 L901.1 722.5 L901.4 721.9 L901.6 721.2 L901.9 720.7 L902.1 720.4 L902.3 720.6 L902.6 721.3 L902.8 722.2 L903.1 723.3 L903.3 724.6 L903.6 725.8 L903.8 726.9 L903.9 727.4 L904.2 734 L904.5 740.2 L904.8 746 L905.1 751.4 L905.4 756.4 L905.7 761.2 L906 765.6 L906.3 769.7 L906.6 773.6 L906.9 777.3 L907.2 780.7 L907.5 784 L907.8 787 L908.1 789.9 L908.4 792.6 L908.7 795.1 L909 797.5 L909.3 799.8 L909.7 802 L910 804 L910.3 805.9 L910.6 807.8 L910.9 809.5 L911.2 811.1 L911.5 812.7 L911.8 814.2 L912.1 815.6 L912.4 817 L912.7 818.3 L913 819.5 L913.3 820.7 L913.6 821.8 L913.9 822.9 L914.2 824 L914.5 825 L914.8 825.9 L915.1 826.8 L915.4 827.7 L915.7 828.6 L916 829.4 L916.3 830.2 L916.6 830.9 L916.9 831.7 L917.2 832.4 L917.5 833.1 L917.8 833.8 L918.1 834.4 L918.4 835 L918.7 835.6 L919 836.2 L919.3 836.8 L919.6 837.4 L919.9 837.9 L920.2 838.4 L920.5 838.9 L920.8 839.4 L921.1 839.9 L921.4 840.4 L921.7 840.8 L922 841.3 L922.3 841.7 L922.6 842.1 L922.9 842.5 L923.2 842.9 L923.5 843.3 L923.8 843.7 L924.1 844.1 L924.4 844.5 L924.7 844.8 L925 845.2 L925.3 845.5 L925.6 845.9 L925.9 846.2 L926.2 846.5 L926.5 846.8 L926.8 847.1 L927.1 847.4 L927.4 847.7 L927.8 848 L928.1 848.3 L928.4 848.6 L928.7 848.8 L929 849.1 L929.3 849.3 L929.6 849.6 L929.9 849.8 L930.2 850.1 L930.5 850.3 L930.8 850.6 L931.1 850.8 L931.4 851 L931.7 851.2 L932 851.4 L932 851.5 L932.3 825.7 L932.5 795.7 L932.8 766.9 L933 743 L933.2 727.4 L933.5 717.6 L933.7 709.5 L934 704.8 L934.2 704.6 L934.4 707.9 L934.7 712.9 L934.9 718.1 L935.2 721.9 L935.4 723.1 L935.7 723.7 L935.9 724.1 L936.1 724.5 L936.4 724.9 L936.6 725.3 L936.9 725.8 L937.1 726.2 L937.3 726.7 L937.6 727.2 L937.7 727.4 L938 734 L938.3 740.2 L938.6 746 L938.9 751.4 L939.2 756.4 L939.5 761.2 L939.8 765.6 L940.1 769.7 L940.4 773.6 L940.7 777.3 L941 780.7 L941.3 784 L941.6 787 L941.9 789.9 L942.2 792.6 L942.5 795.1 L942.8 797.5 L943.1 799.8 L943.4 802 L943.7 804 L944 805.9 L944.3 807.8 L944.6 809.5 L944.9 811.1 L945.2 812.7 L945.5 814.2 L945.9 815.6 L946.2 817 L946.5 818.3 L946.8 819.5 L947.1 820.7 L947.4 821.8 L947.7 822.9 L948 824 L948.3 825 L948.6 825.9 L948.9 826.8 L949.2 827.7 L949.5 828.6 L949.8 829.4 L950.1 830.2 L950.4 830.9 L950.7 831.7 L951 832.4 L951.3 833.1 L951.6 833.8 L951.9 834.4 L952.2 835 L952.5 835.6 L952.8 836.2 L953.1 836.8 L953.4 837.4 L953.7 837.9 L954 838.4 L954.3 838.9 L954.6 839.4 L954.9 839.9 L955.2 840.4 L955.5 840.8 L955.8 841.3 L956.1 841.7 L956.4 842.1 L956.7 842.5 L957 842.9 L957.3 843.3 L957.6 843.7 L957.9 844.1 L958.2 844.5 L958.5 844.8 L958.8 845.2 L959.1 845.5 L959.4 845.9 L959.7 846.2 L960 846.5 L960.3 846.8 L960.6 847.1 L960.9 847.4 L961.2 847.7 L961.5 848 L961.8 848.3 L962.1 848.6 L962.4 848.8 L962.7 849.1 L963 849.3 L963.3 849.6 L963.7 849.8 L964 850.1 L964.3 850.3 L964.6 850.6 L964.9 850.8 L965.2 851 L965.5 851.2 L965.8 851.4 L966.1 851.7 L966.4 851.9 L966.7 852.1 L967 852.3 L967.3 852.5 L967.6 852.6 L967.9 852.8 L968.2 853 L968.5 853.2 L968.8 853.4 L969.1 853.5 L969.4 853.7 L969.7 853.9 L970 854 L970.3 854.2 L970.6 854.4 L970.9 854.5 L971.1 829.6 L971.4 799.4 L971.6 770.7 L971.9 748.3 L972.1 736.7 L972.3 732.9 L972.6 730.2 L972.8 728.2 L973.1 726.6 L973.3 725 L973.5 723.6 L973.8 722.9 L974 722.9 L974.3 723.7 L974.5 725.1 L974.8 726.4 L975 727.3 L975.2 727.3 L975.5 726.5 L975.7 725.3 L976 724.1 L976.2 723.3 L976.4 723.3 L976.7 723.8 L976.9 724.8 L977.2 725.9 L977.4 726.9 L977.5 727.4 L977.8 734 L978.1 740.2 L978.4 746 L978.7 751.4 L979 756.4 L979.3 761.2 L979.6 765.6 L979.9 769.7 L980.2 773.6 L980.5 777.3 L980.8 780.7 L981.1 784 L981.4 787 L981.8 789.9 L982.1 792.6 L982.4 795.1 L982.7 797.5 L983 799.8 L983.3 802 L983.6 804 L983.9 805.9 L984.2 807.8 L984.5 809.5 L984.8 811.1 L985.1 812.7 L985.4 814.2 L985.7 815.6 L986 817 L986.3 818.3 L986.6 819.5 L986.9 820.7 L987.2 821.8 L987.5 822.9 L987.8 824 L988.1 825 L988.4 825.9 L988.7 826.8 L989 827.7 L989.3 828.6 L989.6 829.4 L989.9 830.2 L990.2 830.9 L990.5 831.7 L990.8 832.4 L991.1 833.1 L991.4 833.8 L991.7 834.4 L992 835 L992.3 835.6 L992.6 836.2 L992.9 836.8 L993.2 837.4 L993.5 837.9 L993.8 838.4 L994.1 838.9 L994.4 839.4 L994.7 839.9 L995 840.4 L995.3 840.8 L995.6 841.3 L995.9 841.7 L996.2 842.1 L996.5 842.5 L996.8 842.9 L997.1 843.3 L997.4 843.7 L997.7 844.1 L998 844.5 L998.3 844.8 L998.6 845.2 L998.9 845.5 L999.2 845.9 L999.5 846.2 L999.9 846.5 L1000.2 846.8 L1000.5 847.1 L1000.8 847.4 L1001.1 847.7 L1001.4 848 L1001.7 848.3 L1002 848.6 L1002.3 848.8 L1002.6 849.1 L1002.9 849.3 L1003.2 849.6 L1003.5 849.8 L1003.8 850.1 L1004.1 850.3 L1004.4 850.6 L1004.7 850.8 L1005 851 L1005.3 851.2 L1005.6 851.4 L1005.9 851.7 L1006.2 851.9 L1006.5 852.1 L1006.8 852.3 L1007.1 852.5 L1007.4 852.6 L1007.7 852.8 L1008 853 L1008.3 853.2 L1008.6 853.4 L1008.9 853.5 L1009.2 853.7 L1009.5 853.9 L1009.8 854 L1010.1 854.2 L1010.4 854.4 L1010.7 854.5 L1011 854.7 L1011.3 854.8 L1011.6 855 L1011.9 855.1 L1012.2 855.2 L1012.5 855.4 L1012.8 855.5 L1013.1 855.6 L1013.4 855.8 L1013.7 855.9 L1014 856 L1014.3 856.1 L1014.6 856.3 L1014.9 856.4 L1015.2 856.5 L1015.5 856.6 L1015.8 856.7 L1016.1 856.8 L1016.4 856.9 L1016.7 857 L1017 857.1 L1017.3 857.2 L1017.6 857.3 L1018 857.4 L1018.3 857.5 L1018.6 857.6 L1018.9 857.7 L1019.2 857.8 L1019.5 857.9 L1019.8 858 L1020.1 858.1 L1020.4 858.2 L1020.7 858.2 L1021 858.3 L1021.3 858.4 L1021.6 858.5 L1021.9 858.5 L1022.2 858.6 L1022.5 858.7 L1022.8 858.8 L1023.1 858.8 L1023.4 858.9 L1023.7 859 L1024 859 L1024.3 859.1 L1024.6 859.2 L1024.9 859.2 L1025.2 859.3 L1025.5 859.3 L1025.8 859.4 L1026.1 859.5 L1026.4 859.5 L1026.7 859.6 L1027 859.6 L1027.3 859.7 L1027.6 859.7 L1027.9 859.8 L1028.2 859.8 L1028.5 859.9 L1028.8 859.9 L1029.1 860 L1029.4 860 L1029.7 860.1 L1030 860.1 L1030.3 860.2 L1030.6 860.2 L1030.9 860.2 L1031.2 860.3 L1031.5 860.3 L1031.8 860.4 L1032.1 860.4 L1032.4 860.4 L1032.7 860.5 L1033 860.5 L1033.3 860.6 L1033.6 860.6 L1033.9 860.6 L1034.2 860.7 L1034.5 860.7 L1034.8 860.7 L1035.1 860.8 L1035.4 860.8 L1035.8 860.8 L1036.1 860.9 L1036.4 860.9 L1036.7 860.9 L1037 860.9 L1037.3 861 L1037.6 861 L1037.9 861 L1038.2 861.1 L1038.5 861.1 L1038.8 861.1 L1039.1 861.1 L1039.4 861.2 L1039.7 861.2 L1040 861.2 L1040.3 861.2 L1040.6 861.3 L1040.9 861.3 L1041.2 861.3 L1041.5 861.3 L1041.8 861.3 L1042.1 861.4 L1042.4 861.4 L1042.7 861.4 L1043 861.4 L1043.3 861.4 L1043.6 861.5 L1043.9 861.5 L1044.2 861.5 L1044.5 861.5 L1044.8 861.5 L1045.1 861.6 L1045.4 861.6 L1045.7 861.6 L1046 861.6 L1046.3 861.6 L1046.6 861.6 L1046.9 861.6 L1047.2 861.7 L1047.5 861.7 L1047.8 861.7 L1048.1 861.7 L1048.4 861.7 L1048.7 861.7 L1049 862.6 L1049.3 862.7 L1049.6 862.8 L1049.9 863 L1050.2 863.5 L1050.5 864.6 L1050.8 866 L1051.1 867.9 L1051.4 869.9 L1051.7 872.1 L1052 874.3 L1052.3 876.5 L1052.6 879.2 L1052.9 882.6 L1053.2 886.3 L1053.5 889.5 L1053.9 891.9 L1054.2 892.8 L1054.5 892.5 L1054.8 891.8 L1055.1 890.8 L1055.4 889.8 L1055.7 888.8 L1056 888.2 L1056.3 887.7 L1056.6 887.3 L1056.9 886.9 L1057.2 886.6 L1057.5 886.3 L1057.8 886 L1058.1 885.9 L1058.4 885.8 L1058.7 885.8 L1059 885.8 L1059.3 885.8 L1059.6 885.8 L1059.9 885.8 L1060.2 885.8 L1060.5 885.8 L1060.8 885.8 L1061.1 885.8 L1061.4 885.8 L1061.7 885.8 L1062 885.8 L1062.3 885.8 L1062.6 885.8 L1062.9 885.8 L1063.2 885.8 L1063.5 885.8 L1063.8 885.8 L1064.1 885.8 L1064.4 885.8 L1064.7 885.8 L1065 885.8 L1065.3 885.8 L1065.6 885.8 L1065.9 885.8 L1066.2 885.8 L1066.5 885.8 L1066.8 885.8 L1067.1 885.8 L1067.4 885.8 L1067.7 885.8 L1068 885.8 L1068.3 885.8 L1068.6 885.8 L1068.9 885.8 L1069.2 885.8 L1069.5 885.8 L1069.8 885.8 L1070.1 885.8 L1070.4 885.8 L1070.7 885.8 L1071 885.8 L1071.3 885.8 L1071.6 885.8 L1072 885.8 L1072.3 885.8 L1072.6 885.8 L1072.9 885.8 L1073.2 885.8 L1073.5 885.7 L1073.8 885.7 L1074.1 885.7 L1074.4 885.7 L1074.7 885.6 L1075 885.6 L1075.3 885.6 L1075.6 885.5 L1075.9 885.5 L1076.2 885.4 L1076.5 885.4 L1076.8 885.1 L1077.1 884.4 L1077.4 883.8 L1077.7 883.5 L1078 883.9 L1078.3 884.8 L1078.6 885.8 L1078.9 886.3 L1079.2 886.4 L1079.5 886.6 L1079.8 886.7 L1080.1 886.8 L1080.4 886.9 L1080.7 887 L1081 887.1 L1081.3 887.1 L1081.6 887.2 L1081.9 887.3 L1082.2 887.3 L1082.5 887.4 L1082.8 887.4 L1083.1 887.5 L1083.4 887.5 L1083.7 887.6 L1084 887.6 L1084.3 887.6 L1084.6 887.7 L1084.9 887.7 L1085.2 887.7 L1085.5 887.8 L1085.8 887.8 L1086.1 887.8 L1086.4 887.9 L1086.7 887.9 L1087 887.9 L1087.3 888 L1087.6 888 L1087.9 888.1 L1088.2 888.1 L1088.5 888.2 L1088.7 866 L1088.9 843.1 L1089.1 820.4 L1089.3 799 L1089.4 779.7 L1089.6 762.9 L1089.8 746.9 L1090 733.7 L1090.2 724.9 L1090.4 718 L1090.5 712.1 L1090.7 707.5 L1090.9 704.6 L1091.1 703.3 L1091.3 702.5 L1091.4 701.9 L1091.6 701.4 L1091.8 700.9 L1092 700.3 L1092.2 699.4 L1092.3 698.1 L1092.5 696.1 L1092.7 693.7 L1092.9 691 L1093.1 688.3 L1093.2 685.6 L1093.4 683.3 L1093.6 681.4 L1093.8 680.1 L1094 679.6 L1094.2 680.1 L1094.3 681.4 L1094.5 683.3 L1094.7 685.4 L1094.9 687.4 L1095.1 689.2 L1095.2 690.5 L1095.4 691.7 L1095.6 692.9 L1095.8 694 L1096 694.9 L1096.1 695.6 L1096.3 695.9 L1096.5 695.8 L1096.7 695.2 L1096.9 694.3 L1097.1 693.3 L1097.2 692.3 L1097.4 691.6 L1097.6 691.3 L1097.8 691.5 L1098 692 L1098.1 692.8 L1098.3 693.7 L1098.5 694.7 L1098.7 695.5 L1098.9 696.1 L1099 696.7 L1099.2 697.2 L1099.4 697.7 L1099.6 698.2 L1099.8 698.7 L1099.9 699.2 L1100.1 699.8 L1100.3 700.4 L1100.5 700.9 L1100.7 701.5 L1100.9 702.2 L1101 703.1 L1101.2 704.1 L1101.4 705.8 L1101.6 708.4 L1101.8 711.7 L1101.9 715.6 L1102.1 719.9 L1102.3 724.4 L1102.5 729 L1102.7 734.7 L1102.8 741.4 L1103 748.6 L1103.2 755.8 L1103.4 762.4 L1103.6 767.8 L1103.7 772 L1103.9 775.8 L1104.1 779.3 L1104.3 782.4 L1104.5 785.4 L1104.7 788.2 L1104.8 790.9 L1105 793.5 L1105.2 796.1 L1105.4 798.7 L1105.6 801.4 L1105.7 804.2 L1105.9 806.9 L1106.1 809.5 L1106.3 811.9 L1106.5 814.1 L1106.6 815.9 L1106.8 817.6 L1107 819.2 L1107.2 820.7 L1107.4 822.2 L1107.5 823.6 L1107.7 824.9 L1107.9 826.2 L1108.1 827.4 L1108.3 828.5 L1108.5 829.5 L1108.6 830.4 L1108.8 831.3 L1109 832 L1109.2 832.7 L1109.4 833.4 L1109.5 834 L1109.7 834.6 L1109.9 835.2 L1110.1 835.7 L1110.3 836.3 L1110.4 836.8 L1110.6 837.3 L1110.8 837.8 L1111 838.3 L1111.2 838.7 L1111.4 839.2 L1111.5 839.6 L1111.7 840 L1111.9 840.4 L1112.1 840.8 L1112.3 841.1 L1112.4 841.5 L1112.6 841.8 L1112.8 842.1 L1113 842.5 L1113.2 842.8 L1113.3 843.1 L1113.5 843.3 L1113.7 843.6 L1113.9 843.9 L1114.1 844.2 L1114.2 844.4 L1114.4 844.7 L1114.6 845 L1114.8 845.2 L1115 845.5 L1115.2 845.7 L1115.3 846 L1115.5 846.2 L1115.7 846.4 L1115.9 846.7 L1116.1 846.9 L1116.2 847.1 L1116.4 847.3 L1116.6 847.6 L1116.8 847.8 L1117 848 L1117.1 848.2 L1117.3 848.4 L1117.5 848.6 L1117.7 848.8 L1117.9 849 L1118 849.1 L1118.2 849.3 L1118.4 849.5 L1118.6 849.7 L1118.8 849.8 L1119 850 L1119.1 850.1 L1119.3 850.3 L1119.5 850.4 L1119.7 850.5 L1119.9 850.7 L1120 850.8 L1120.2 850.9 L1120.4 851 L1120.6 851.1 L1120.8 851.2 L1120.9 851.3 L1121.1 851.4 L1121.3 851.4 L1121.5 851.5 L1121.7 851.6" fill="none" stroke="#858515" stroke-width="2.4" stroke-linejoin="round" stroke-linecap="round"/>
<path d="M720.5 862.5 L724.1 860.2 L724.4 846.4 L724.6 832.4 L724.8 818.3 L725.1 804.3 L725.3 790.2 L725.6 776.3 L725.8 762.5 L726.1 749 L726.3 735.7 L726.5 722.7 L726.8 709.4 L727 695.4 L727.3 680.9 L727.5 666.4 L727.7 652.4 L728 639.3 L728.2 627.5 L728.5 617.3 L728.7 609.4 L728.9 603.9 L729.2 600.2 L729.4 597 L729.7 594.3 L729.9 591.9 L730.2 589.8 L730.4 587.8 L730.6 585.9 L730.9 584 L731.1 582 L731.4 579.7 L731.7 590.3 L732 600.2 L732.3 609.4 L732.6 618.1 L732.9 626.2 L733.2 633.9 L733.5 641 L733.8 647.8 L734.1 654.2 L734.4 660.2 L734.7 666 L735 671.4 L735.3 676.5 L735.6 681.4 L735.9 686.1 L736.2 690.5 L736.5 694.8 L736.8 698.8 L737.1 702.7 L737.4 706.4 L737.7 710 L738 713.4 L738.3 716.7 L738.6 719.9 L738.9 722.9 L739.2 725.9 L739.5 728.7 L739.8 731.5 L740.1 734.2 L740.4 736.8 L740.7 739.3 L741 741.7 L741.3 744 L741.6 746.3 L741.9 748.6 L742.2 750.7 L742.5 752.8 L742.8 754.9 L743.1 756.9 L743.4 758.8 L743.7 760.7 L744 762.6 L744.3 764.4 L744.6 766.1 L744.9 767.8 L745.2 769.5 L745.5 771.2 L745.8 772.8 L746.1 774.3 L746.4 775.9 L746.7 777.4 L747 778.8 L747.3 780.3 L747.7 781.7 L748 783 L748.3 784.4 L748.6 785.7 L748.9 787 L749.2 788.2 L749.5 789.5 L749.8 790.7 L750.1 791.9 L750.4 793 L750.7 794.2 L751 795.3 L751.3 796.4 L751.6 797.5 L751.9 798.5 L752.2 799.5 L752.5 800.5 L752.8 801.5 L753.1 802.5 L753.4 803.4 L753.7 804.4 L754 805.3 L754.3 806.2 L754.6 807.1 L754.9 807.9 L755.2 808.8 L755.5 809.6 L755.8 810.4 L756.1 811.2 L756.4 812 L756.7 812.7 L757 813.5 L757.3 814.2 L757.6 814.9 L757.9 815.6 L758.2 816.3 L758.5 817 L758.8 817.7 L759.1 818.3 L759.4 819 L759.7 819.6 L760 820.2 L760.3 820.8 L760.6 821.4 L760.9 822 L761.2 822.6 L761.5 823.1 L761.8 823.7 L762.1 824.2 L762.4 824.7 L762.7 825.2 L763 825.7 L763.3 826.2 L763.6 826.7 L763.9 827.2 L764.2 827.7 L764.4 828 L764.7 815.9 L764.9 799.2 L765.1 782.3 L765.4 765.4 L765.6 748.9 L765.9 733 L766.1 718 L766.4 704.1 L766.6 690.5 L766.8 676.5 L767.1 662.4 L767.3 648.6 L767.6 635.5 L767.8 623.3 L768 612.6 L768.3 603.6 L768.5 596.7 L768.8 592.3 L769 589.4 L769.3 587.1 L769.5 585.1 L769.7 583.4 L770 581.9 L770.2 580.5 L770.5 579.1 L770.7 577.6 L770.9 576 L771.2 586.7 L771.5 596.7 L771.8 606.1 L772.1 614.9 L772.4 623.1 L772.8 630.8 L773.1 638.1 L773.4 645 L773.7 651.5 L774 657.6 L774.3 663.4 L774.6 668.9 L774.9 674.1 L775.2 679 L775.5 683.8 L775.8 688.3 L776.1 692.6 L776.4 696.7 L776.7 700.6 L777 704.4 L777.3 708 L777.6 711.5 L777.9 714.8 L778.2 718 L778.5 721.1 L778.8 724.1 L779.1 727 L779.4 729.8 L779.7 732.5 L780 735.1 L780.3 737.6 L780.6 740.1 L780.9 742.5 L781.2 744.8 L781.5 747.1 L781.8 749.3 L782.1 751.4 L782.4 753.5 L782.7 755.5 L783 757.5 L783.3 759.4 L783.6 761.2 L783.9 763.1 L784.2 764.9 L784.5 766.6 L784.8 768.3 L785.1 770 L785.4 771.6 L785.7 773.2 L786 774.7 L786.3 776.3 L786.6 777.7 L786.9 779.2 L787.2 780.6 L787.5 782 L787.8 783.4 L788.1 784.7 L788.4 786 L788.7 787.3 L789 788.5 L789.3 789.8 L789.6 791 L789.9 792.1 L790.2 793.3 L790.5 794.4 L790.9 795.5 L791.2 796.6 L791.5 797.7 L791.8 798.7 L792.1 799.7 L792.4 800.7 L792.7 801.7 L793 802.7 L793.3 803.6 L793.6 804.5 L793.9 805.5 L794.2 806.3 L794.5 807.2 L794.8 808.1 L795.1 808.9 L795.4 809.7 L795.7 810.5 L796 811.3 L796.3 812.1 L796.6 812.8 L796.9 813.6 L797.2 814.3 L797.5 815 L797.8 815.7 L798.1 816.4 L798.4 817.1 L798.7 817.8 L799 818.4 L799.3 819 L799.6 819.7 L799.9 820.3 L800 820.5 L800.3 810.5 L800.5 794.5 L800.7 778.4 L801 762.4 L801.2 746.6 L801.5 731 L801.7 715.7 L802 699.8 L802.2 682.7 L802.4 665.5 L802.7 649.2 L802.9 634.7 L803.2 623.2 L803.4 615.6 L803.6 610.9 L803.9 607.2 L804.1 604.2 L804.4 601.4 L804.6 598.5 L804.7 596.9 L805 606.9 L805.3 616.1 L805.6 624.8 L805.9 633 L806.2 640.6 L806.5 647.8 L806.8 654.5 L807.1 660.9 L807.4 666.9 L807.7 672.6 L808 677.9 L808.3 683 L808.6 687.8 L809 692.4 L809.3 696.8 L809.6 701 L809.9 705 L810.2 708.8 L810.5 712.4 L810.8 715.9 L811.1 719.2 L811.4 722.5 L811.7 725.6 L812 728.5 L812.3 731.4 L812.6 734.2 L812.9 736.9 L813.2 739.5 L813.5 742 L813.8 744.4 L814.1 746.7 L814.4 749 L814.7 751.2 L815 753.4 L815.3 755.5 L815.6 757.5 L815.9 759.5 L816.2 761.4 L816.5 763.3 L816.8 765.1 L817.1 766.9 L817.4 768.6 L817.7 770.3 L818 772 L818.3 773.6 L818.6 775.1 L818.9 776.7 L819.2 778.2 L819.5 779.7 L819.8 781.1 L820.1 782.5 L820.4 783.9 L820.7 785.2 L821 786.5 L821.3 787.8 L821.6 789.1 L821.9 790.3 L822.2 791.5 L822.5 792.7 L822.8 793.9 L823.1 795 L823.4 796.1 L823.7 797.2 L824 798.3 L824.3 799.3 L824.6 800.4 L824.9 801.4 L825.2 802.4 L825.5 803.3 L825.8 804.3 L826.1 805.2 L826.4 806.1 L826.7 807 L827.1 807.9 L827.4 808.7 L827.7 809.6 L828 810.4 L828.3 811.2 L828.6 812 L828.9 812.8 L829.2 813.5 L829.5 814.3 L829.8 815 L830.1 815.7 L830.4 816.4 L830.7 817.1 L831 817.8 L831.3 818.4 L831.6 819.1 L831.9 819.7 L832.2 820.3 L832.5 821 L832.8 821.6 L833.1 822.2 L833.4 822.7 L833.7 823.3 L834 823.9 L834.3 824.4 L834.6 824.9 L834.9 825.5 L835.2 826 L835.5 826.5 L835.8 827 L836.1 827.5 L836.4 827.9 L836.7 828.4 L837 828.9 L837.3 829.3 L837.6 829.7 L837.9 830.2 L838.2 830.6 L838.5 831 L838.8 831.4 L839.1 831.8 L839.4 832.2 L839.7 832.6 L840 833 L840.3 833.3 L840.6 833.7 L840.9 834.1 L841.2 834.3 L841.8 834.1 L842.4 834.7 L843 835.3 L843.6 835.9 L844.2 836.5 L844.8 837.2 L845.4 837.9 L846 838.8 L846.6 839.9 L847.2 841.4 L847.8 842.7 L848.4 843.4 L849 843.7 L849.6 843.9 L850.2 844.1 L850.8 844.3 L851.4 844.4 L852 844.5 L852.6 844.7 L853.2 844.8 L853.8 845 L854.4 845.2 L855 845.4 L855.7 845.6 L856.3 845.8 L856.9 846.2 L857.5 847.3 L858.1 849.4 L858.7 851.9 L859.3 854.4 L859.9 856.9 L860.5 859.6 L861.1 862.4 L861.7 864.9 L862.3 867.1 L862.9 869.3 L863.5 871.4 L864.1 873.3 L864.7 875.1 L865.3 876.5 L865.9 877.8 L866.5 879 L867.1 880.1 L867.7 881.2 L868.3 882.2 L868.9 883.1 L869.5 883.9 L870.1 884.6 L870.7 885.3 L871.3 885.8 L871.9 886.3 L872.5 886.8 L873.1 887.2 L873.8 887.6 L874.4 888 L875 888.3 L875.6 888.6 L876.2 888.9 L876.8 889.1 L877.4 889.3 L878 889.5 L878.6 889.7 L879.2 889.8 L879.8 890 L880.4 890.1 L881 890.2 L881.6 890.3 L882.2 890.4 L882.8 890.5 L883.4 890.6 L884 890.7 L884.6 890.8 L885.2 890.9 L885.8 891 L886.4 891 L887 891.2 L887.6 891.3 L888.2 891.4 L888.8 891.5 L889.4 891.7 L890 891.8 L890.6 892 L891.2 892.2 L891.9 892.4 L892.5 892.6 L893.1 892.8 L893.7 893 L894.3 893.2 L894.9 893.5 L895.5 893.7 L896.1 893.9 L896.4 894 L896.7 877.1 L896.9 860.3 L897.2 843.4 L897.4 826.5 L897.6 809.7 L897.9 792.8 L898.1 776 L898.4 759.1 L898.6 742 L898.9 723 L899.1 702.7 L899.3 682.1 L899.6 661.8 L899.8 642.9 L900.1 626.1 L900.3 612.3 L900.5 602.4 L900.8 596.8 L901 592.6 L901.3 589.2 L901.5 586.4 L901.7 583.8 L902 581.4 L902.2 578.8 L902.5 576 L902.5 576 L902.8 586.7 L903.1 596.7 L903.4 606.1 L903.7 614.9 L904 623.1 L904.3 630.8 L904.6 638.1 L904.9 645 L905.2 651.5 L905.5 657.6 L905.8 663.4 L906.1 668.9 L906.4 674.1 L906.7 679 L907 683.8 L907.3 688.3 L907.6 692.6 L907.9 696.7 L908.2 700.6 L908.5 704.4 L908.8 708 L909.1 711.5 L909.4 714.8 L909.7 718 L910 721.1 L910.3 724.1 L910.6 727 L910.9 729.8 L911.2 732.5 L911.5 735.1 L911.8 737.6 L912.1 740.1 L912.4 742.5 L912.7 744.8 L913 747.1 L913.3 749.3 L913.6 751.4 L913.9 753.5 L914.2 755.5 L914.5 757.5 L914.8 759.4 L915.1 761.2 L915.4 763.1 L915.7 764.9 L916 766.6 L916.3 768.3 L916.6 770 L917 771.6 L917.3 773.2 L917.6 774.7 L917.9 776.3 L918.2 777.7 L918.5 779.2 L918.8 780.6 L919.1 782 L919.4 783.4 L919.7 784.7 L920 786 L920.3 787.3 L920.6 788.5 L920.9 789.8 L921.2 791 L921.5 792.1 L921.8 793.3 L922.1 794.4 L922.4 795.5 L922.7 796.6 L923 797.7 L923.3 798.7 L923.6 799.7 L923.9 800.7 L924.2 801.7 L924.5 802.7 L924.8 803.6 L925.1 804.5 L925.4 805.5 L925.7 806.3 L926 807.2 L926.3 808.1 L926.6 808.9 L926.9 809.7 L927.2 810.5 L927.5 811.3 L927.8 812.1 L928.1 812.8 L928.4 813.6 L928.7 814.3 L929 815 L929.3 815.7 L929.6 816.4 L929.9 817.1 L930.2 817.8 L930.5 818.4 L930.8 819 L931.1 819.7 L931.4 820.3 L931.7 820.9 L932 821.5 L932.3 807.5 L932.5 788.5 L932.8 769.5 L933 750.6 L933.2 731.8 L933.5 713.3 L933.7 694.6 L934 674.1 L934.2 653.4 L934.4 634.8 L934.7 620.4 L934.9 611.9 L935.2 606.3 L935.4 601.7 L935.7 596.9 L935.7 596.9 L936 606.9 L936.3 616.1 L936.6 624.8 L936.9 633 L937.2 640.6 L937.5 647.8 L937.8 654.5 L938.1 660.9 L938.4 666.9 L938.7 672.6 L939 677.9 L939.3 683 L939.6 687.8 L939.9 692.4 L940.2 696.8 L940.5 701 L940.8 705 L941.1 708.8 L941.4 712.4 L941.7 715.9 L942 719.2 L942.3 722.5 L942.6 725.6 L942.9 728.5 L943.2 731.4 L943.5 734.2 L943.8 736.9 L944.1 739.5 L944.4 742 L944.7 744.4 L945 746.7 L945.3 749 L945.6 751.2 L945.9 753.4 L946.2 755.5 L946.5 757.5 L946.8 759.5 L947.1 761.4 L947.4 763.3 L947.7 765.1 L948 766.9 L948.3 768.6 L948.6 770.3 L948.9 772 L949.2 773.6 L949.5 775.1 L949.8 776.7 L950.1 778.2 L950.4 779.7 L950.7 781.1 L951 782.5 L951.3 783.9 L951.6 785.2 L951.9 786.5 L952.2 787.8 L952.5 789.1 L952.9 790.3 L953.2 791.5 L953.5 792.7 L953.8 793.9 L954.1 795 L954.4 796.1 L954.7 797.2 L955 798.3 L955.3 799.3 L955.6 800.4 L955.9 801.4 L956.2 802.4 L956.5 803.3 L956.8 804.3 L957.1 805.2 L957.4 806.1 L957.7 807 L958 807.9 L958.3 808.7 L958.6 809.6 L958.9 810.4 L959.2 811.2 L959.5 812 L959.8 812.8 L960.1 813.5 L960.4 814.3 L960.7 815 L961 815.7 L961.3 816.4 L961.6 817.1 L961.9 817.8 L962.2 818.4 L962.5 819.1 L962.8 819.7 L963.1 820.3 L963.4 821 L963.7 821.6 L964 822.2 L964.3 822.7 L964.6 823.3 L964.9 823.9 L965.2 824.4 L965.5 824.9 L965.8 825.5 L966.1 826 L966.4 826.5 L966.7 827 L967 827.5 L967.3 827.9 L967.6 828.4 L967.9 828.9 L968.2 829.3 L968.5 829.7 L968.8 830.2 L969.1 830.6 L969.4 831 L969.7 831.4 L970 831.8 L970.3 832.2 L970.6 832.6 L970.9 832.9 L971.1 801.9 L971.4 771.5 L971.6 741.7 L971.9 712.5 L972.1 680.8 L972.3 652.3 L972.6 634.2 L972.8 624.5 L973.1 616.4 L973.3 609.6 L973.5 604 L973.8 599.3 L974 595.5 L974.3 592.3 L974.5 589.6 L974.8 587.4 L975 585.5 L975.2 583.8 L975.5 582 L975.7 580.1 L975.7 580.1 L976 590.7 L976.3 600.6 L976.6 609.8 L976.9 618.5 L977.2 626.6 L977.5 634.2 L977.8 641.4 L978.1 648.2 L978.4 654.5 L978.7 660.6 L979 666.3 L979.3 671.7 L979.6 676.8 L979.9 681.7 L980.2 686.4 L980.5 690.8 L980.8 695 L981.1 699.1 L981.4 703 L981.8 706.7 L982.1 710.2 L982.4 713.7 L982.7 716.9 L983 720.1 L983.3 723.2 L983.6 726.1 L983.9 729 L984.2 731.7 L984.5 734.4 L984.8 737 L985.1 739.5 L985.4 741.9 L985.7 744.2 L986 746.5 L986.3 748.7 L986.6 750.9 L986.9 753 L987.2 755 L987.5 757 L987.8 759 L988.1 760.9 L988.4 762.7 L988.7 764.5 L989 766.3 L989.3 768 L989.6 769.7 L989.9 771.3 L990.2 772.9 L990.5 774.5 L990.8 776 L991.1 777.5 L991.4 779 L991.7 780.4 L992 781.8 L992.3 783.2 L992.6 784.5 L992.9 785.8 L993.2 787.1 L993.5 788.4 L993.8 789.6 L994.1 790.8 L994.4 792 L994.7 793.2 L995 794.3 L995.3 795.4 L995.6 796.5 L995.9 797.6 L996.2 798.6 L996.5 799.6 L996.8 800.6 L997.1 801.6 L997.4 802.6 L997.7 803.5 L998 804.5 L998.3 805.4 L998.6 806.3 L998.9 807.1 L999.2 808 L999.5 808.8 L999.9 809.7 L1000.2 810.5 L1000.5 811.3 L1000.8 812 L1001.1 812.8 L1001.4 813.6 L1001.7 814.3 L1002 815 L1002.3 815.7 L1002.6 816.4 L1002.9 817.1 L1003.2 817.7 L1003.5 818.4 L1003.8 819 L1004.1 819.7 L1004.4 820.3 L1004.7 820.9 L1005 821.5 L1005.3 822.1 L1005.6 822.6 L1005.9 823.2 L1006.2 823.7 L1006.5 824.3 L1006.8 824.8 L1007.1 825.3 L1007.4 825.8 L1007.7 826.3 L1008 826.8 L1008.3 827.3 L1008.6 827.7 L1008.9 828.2 L1009.2 828.6 L1009.5 829.1 L1009.8 829.5 L1010.1 829.9 L1010.4 830.4 L1010.7 830.8 L1011 831.2 L1011.3 831.6 L1011.6 831.9 L1011.9 832.3 L1012.2 832.7 L1012.5 833.1 L1012.8 833.4 L1013.1 833.8 L1013.4 834.1 L1013.7 834.4 L1014 834.8 L1014.3 835.1 L1014.6 835.4 L1014.9 835.7 L1015.2 836 L1015.5 836.3 L1015.8 836.6 L1016.1 836.9 L1016.4 837.2 L1016.7 837.5 L1017 837.7 L1017.3 838 L1017.6 838.3 L1018 838.5 L1018.3 838.8 L1018.6 839 L1018.9 839.3 L1019.2 839.5 L1019.5 839.7 L1019.8 840 L1020.1 840.2 L1020.4 840.4 L1020.7 840.6 L1021 840.8 L1021.3 841 L1021.6 841.2 L1021.9 841.4 L1022.2 841.6 L1022.5 841.8 L1022.8 842 L1023.1 842.2 L1023.4 842.4 L1023.7 842.6 L1024 842.7 L1024.3 842.9 L1024.6 843.1 L1024.9 843.2 L1025.2 843.4 L1025.5 843.5 L1025.8 843.7 L1026.1 843.9 L1026.4 844 L1026.7 844.1 L1027 844.3 L1027.3 844.4 L1027.6 844.6 L1027.9 844.7 L1028.2 844.8 L1028.5 845 L1028.8 845.1 L1029.1 845.2 L1029.4 845.3 L1029.7 845.5 L1030 845.6 L1030.3 845.7 L1030.6 845.8 L1030.9 845.9 L1031.2 846 L1031.5 846.1 L1031.8 846.2 L1032.1 846.3 L1032.4 846.4 L1032.7 846.5 L1033 846.6 L1033.3 846.7 L1033.6 846.8 L1033.9 846.9 L1034.2 847 L1034.5 847.1 L1034.8 847.2 L1035.1 847.3 L1035.4 847.4 L1035.8 847.4 L1036.1 847.5 L1036.4 847.6 L1036.7 847.7 L1037 847.7 L1037.3 847.8 L1037.6 847.9 L1037.9 848 L1038.2 848 L1038.5 848.1 L1038.8 848.2 L1039.1 848.2 L1039.4 848.3 L1039.7 848.4 L1040 848.4 L1040.3 848.5 L1040.6 848.5 L1040.9 848.6 L1041.2 848.7 L1041.5 848.7 L1041.8 848.8 L1042.1 848.8 L1042.4 848.9 L1042.7 848.9 L1043 849 L1043.3 849 L1043.6 849.1 L1043.9 849.1 L1044.2 849.2 L1044.5 849.2 L1044.8 849.3 L1045.1 849.3 L1045.4 849.4 L1045.7 849.4 L1046 849.4 L1046.3 849.5 L1046.6 849.5 L1046.9 849.6 L1047.2 849.6 L1047.5 849.6 L1047.8 849.7 L1048.1 849.7 L1048.4 849.7 L1048.7 849.8 L1049.3 851.4 L1049.9 852 L1050.5 852.8 L1051.1 854 L1051.7 855.8 L1052.3 857.9 L1052.9 860.6 L1053.5 863.8 L1054.2 866 L1054.8 867.3 L1055.4 868.3 L1056 869.1 L1056.6 869.8 L1057.2 870.5 L1057.8 871.1 L1058.4 871.9 L1059 872.6 L1059.6 873.3 L1060.2 874.1 L1060.8 874.7 L1061.4 875.4 L1062 876.1 L1062.6 876.8 L1063.2 877.5 L1063.8 878.2 L1064.4 878.8 L1065 879.6 L1065.6 880.3 L1066.2 881 L1066.8 881.7 L1067.4 882.4 L1068 883.1 L1068.6 883.8 L1069.2 884.5 L1069.8 885.2 L1070.4 885.8 L1071 886.5 L1071.6 887.2 L1072.3 887.9 L1072.9 888.5 L1073.5 889.2 L1074.1 889.7 L1074.7 890.2 L1075.3 890.5 L1075.9 890.7 L1076.5 891 L1077.1 891.1 L1077.7 891.3 L1078.3 891.5 L1078.9 891.6 L1079.5 891.7 L1080.1 891.9 L1080.7 892 L1081.3 892.1 L1081.9 892.2 L1082.5 892.4 L1083.1 892.5 L1083.7 892.7 L1084.3 892.8 L1084.9 893 L1085.5 893.1 L1086.1 893.2 L1086.7 893.3 L1087.3 893.3 L1087.9 893.3 L1088.5 893.3 L1088.7 875.2 L1088.9 856.8 L1089.1 838.3 L1089.3 819.8 L1089.4 801.6 L1089.6 783.9 L1089.8 766.8 L1090 750.7 L1090.2 734.9 L1090.4 719 L1090.5 703.4 L1090.7 688.8 L1090.9 675.4 L1091.1 663.9 L1091.3 654.6 L1091.4 646.1 L1091.6 638.4 L1091.8 631.7 L1092 626.3 L1092.2 622.6 L1092.3 619.9 L1092.5 617.5 L1092.7 615.4 L1092.9 613.5 L1093.1 611.8 L1093.2 610.4 L1093.4 609.1 L1093.6 608 L1093.8 607 L1094 606.2 L1094.2 605.5 L1094.3 604.8 L1094.5 604.2 L1094.7 603.6 L1094.9 603 L1095.1 602.5 L1095.2 602.1 L1095.4 601.8 L1095.6 601.6 L1095.8 601.6 L1096 601.8 L1096.1 602.3 L1096.3 603.1 L1096.5 603.8 L1096.7 604.5 L1096.9 605 L1097.1 605 L1097.2 604.6 L1097.4 603.8 L1097.6 602.7 L1097.8 601.7 L1098 600.9 L1098.1 600.4 L1098.3 600.4 L1098.5 600.5 L1098.7 600.5 L1098.9 600.6 L1099 600.8 L1099.2 600.9 L1099.4 601.1 L1099.6 601.2 L1099.8 601.4 L1099.9 601.5 L1100.1 601.7 L1100.3 601.8 L1100.5 601.9 L1100.7 602.1 L1100.9 602.3 L1101 602.5 L1101.2 602.7 L1101.4 603.1 L1101.6 603.7 L1101.8 604.4 L1101.9 605.3 L1102.1 606.4 L1102.3 607.7 L1102.5 609.1 L1102.7 611.4 L1102.8 614.7 L1103 618.6 L1103.2 623 L1103.4 627.8 L1103.6 632.6 L1103.7 637.6 L1103.9 643.2 L1104.1 649.3 L1104.3 655.8 L1104.5 662.6 L1104.7 669.4 L1104.8 676.1 L1105 682.9 L1105.2 690 L1105.4 697.1 L1105.6 704.3 L1105.7 711.4 L1105.9 718.3 L1106.1 724.9 L1106.3 731.8 L1106.5 738.8 L1106.6 745.4 L1106.8 751 L1107 755.4 L1107.2 758.7 L1107.4 761.6 L1107.5 764.2 L1107.7 766.6 L1107.9 768.7 L1108.1 770.6 L1108.3 772.4 L1108.5 774 L1108.6 775.5 L1108.8 777 L1109 778.4 L1109.2 779.8 L1109.4 781.1 L1109.5 782.3 L1109.7 783.5 L1109.9 784.6 L1110.1 785.7 L1110.3 786.7 L1110.4 787.7 L1110.6 788.7 L1110.8 789.6 L1111 790.5 L1111.2 791.3 L1111.4 792.1 L1111.5 792.9 L1111.7 793.6 L1111.9 794.4 L1112.1 795.1 L1112.3 795.7 L1112.4 796.4 L1112.6 797 L1112.8 797.6 L1113 798.2 L1113.2 798.8 L1113.3 799.3 L1113.5 799.9 L1113.7 800.4 L1113.9 801 L1114.1 801.5 L1114.2 802 L1114.4 802.5 L1114.6 803 L1114.8 803.5 L1115 804 L1115.2 804.5 L1115.3 804.9 L1115.5 805.4 L1115.7 805.9 L1115.9 806.4 L1116.1 806.9 L1116.2 807.4 L1116.4 807.9 L1116.6 808.4 L1116.8 808.9 L1117 809.3 L1117.1 809.8 L1117.3 810.3 L1117.5 810.7 L1117.7 811.2 L1117.9 811.6 L1118 812.1 L1118.2 812.5 L1118.4 813 L1118.6 813.4 L1118.8 813.8 L1119 814.2 L1119.1 814.6 L1119.3 815 L1119.5 815.4 L1119.7 815.7 L1119.9 816.1 L1120 816.4 L1120.2 816.8 L1120.4 817.1 L1120.6 817.4 L1120.8 817.7 L1120.9 818 L1121.1 818.3 L1121.3 818.5 L1121.5 818.8 L1121.7 819" fill="none" stroke="#ee1c24" stroke-width="2.4" stroke-linejoin="round" stroke-linecap="round"/>
</g>
<rect x="713.4" y="541" width="416.6" height="372.8" fill="none" stroke="#505050" stroke-width="2.2" rx="0"/>
<line x1="713.4" y1="913.8" x2="708.4" y2="913.8" stroke="#505050" stroke-width="1.6"/>
<text x="701.4" y="922.3" font-size="23.5" font-weight="bold" text-anchor="end" fill="#000">−200</text>
<line x1="713.4" y1="867.2" x2="708.4" y2="867.2" stroke="#505050" stroke-width="1.6"/>
<text x="701.4" y="875.7" font-size="23.5" font-weight="bold" text-anchor="end" fill="#000">0</text>
<line x1="713.4" y1="820.6" x2="708.4" y2="820.6" stroke="#505050" stroke-width="1.6"/>
<text x="701.4" y="829.1" font-size="23.5" font-weight="bold" text-anchor="end" fill="#000">200</text>
<line x1="713.4" y1="774" x2="708.4" y2="774" stroke="#505050" stroke-width="1.6"/>
<text x="701.4" y="782.5" font-size="23.5" font-weight="bold" text-anchor="end" fill="#000">400</text>
<line x1="713.4" y1="727.4" x2="708.4" y2="727.4" stroke="#505050" stroke-width="1.6"/>
<text x="701.4" y="735.9" font-size="23.5" font-weight="bold" text-anchor="end" fill="#000">600</text>
<line x1="713.4" y1="680.8" x2="708.4" y2="680.8" stroke="#505050" stroke-width="1.6"/>
<text x="701.4" y="689.3" font-size="23.5" font-weight="bold" text-anchor="end" fill="#000">800</text>
<line x1="713.4" y1="634.2" x2="708.4" y2="634.2" stroke="#505050" stroke-width="1.6"/>
<text x="701.4" y="642.7" font-size="23.5" font-weight="bold" text-anchor="end" fill="#000">1000</text>
<line x1="713.4" y1="587.6" x2="708.4" y2="587.6" stroke="#505050" stroke-width="1.6"/>
<text x="701.4" y="596.1" font-size="23.5" font-weight="bold" text-anchor="end" fill="#000">1200</text>
<line x1="713.4" y1="541" x2="708.4" y2="541" stroke="#505050" stroke-width="1.6"/>
<text x="701.4" y="549.5" font-size="23.5" font-weight="bold" text-anchor="end" fill="#000">1400</text>
<line x1="713.4" y1="890.5" x2="710.4" y2="890.5" stroke="#505050" stroke-width="1.3"/>
<line x1="713.4" y1="843.9" x2="710.4" y2="843.9" stroke="#505050" stroke-width="1.3"/>
<line x1="713.4" y1="797.3" x2="710.4" y2="797.3" stroke="#505050" stroke-width="1.3"/>
<line x1="713.4" y1="750.7" x2="710.4" y2="750.7" stroke="#505050" stroke-width="1.3"/>
<line x1="713.4" y1="704.1" x2="710.4" y2="704.1" stroke="#505050" stroke-width="1.3"/>
<line x1="713.4" y1="657.5" x2="710.4" y2="657.5" stroke="#505050" stroke-width="1.3"/>
<line x1="713.4" y1="610.9" x2="710.4" y2="610.9" stroke="#505050" stroke-width="1.3"/>
<line x1="713.4" y1="564.3" x2="710.4" y2="564.3" stroke="#505050" stroke-width="1.3"/>
<line x1="1130" y1="913.8" x2="1125" y2="913.8" stroke="#505050" stroke-width="1.6"/>
<text x="1137" y="922.3" font-size="23.5" font-weight="bold" text-anchor="start" fill="#000">−50</text>
<line x1="1130" y1="867.2" x2="1125" y2="867.2" stroke="#505050" stroke-width="1.6"/>
<text x="1137" y="875.7" font-size="23.5" font-weight="bold" text-anchor="start" fill="#000">0</text>
<line x1="1130" y1="820.6" x2="1125" y2="820.6" stroke="#505050" stroke-width="1.6"/>
<text x="1137" y="829.1" font-size="23.5" font-weight="bold" text-anchor="start" fill="#000">50</text>
<line x1="1130" y1="774" x2="1125" y2="774" stroke="#505050" stroke-width="1.6"/>
<text x="1137" y="782.5" font-size="23.5" font-weight="bold" text-anchor="start" fill="#000">100</text>
<line x1="1130" y1="727.4" x2="1125" y2="727.4" stroke="#505050" stroke-width="1.6"/>
<text x="1137" y="735.9" font-size="23.5" font-weight="bold" text-anchor="start" fill="#000">150</text>
<line x1="1130" y1="680.8" x2="1125" y2="680.8" stroke="#505050" stroke-width="1.6"/>
<text x="1137" y="689.3" font-size="23.5" font-weight="bold" text-anchor="start" fill="#000">200</text>
<line x1="1130" y1="634.2" x2="1125" y2="634.2" stroke="#505050" stroke-width="1.6"/>
<text x="1137" y="642.7" font-size="23.5" font-weight="bold" text-anchor="start" fill="#000">250</text>
<line x1="1130" y1="587.6" x2="1125" y2="587.6" stroke="#505050" stroke-width="1.6"/>
<text x="1137" y="596.1" font-size="23.5" font-weight="bold" text-anchor="start" fill="#000">300</text>
<line x1="1130" y1="541" x2="1125" y2="541" stroke="#505050" stroke-width="1.6"/>
<text x="1137" y="549.5" font-size="23.5" font-weight="bold" text-anchor="start" fill="#000">350</text>
<line x1="1130" y1="890.5" x2="1127" y2="890.5" stroke="#505050" stroke-width="1.3"/>
<line x1="1130" y1="843.9" x2="1127" y2="843.9" stroke="#505050" stroke-width="1.3"/>
<line x1="1130" y1="797.3" x2="1127" y2="797.3" stroke="#505050" stroke-width="1.3"/>
<line x1="1130" y1="750.7" x2="1127" y2="750.7" stroke="#505050" stroke-width="1.3"/>
<line x1="1130" y1="704.1" x2="1127" y2="704.1" stroke="#505050" stroke-width="1.3"/>
<line x1="1130" y1="657.5" x2="1127" y2="657.5" stroke="#505050" stroke-width="1.3"/>
<line x1="1130" y1="610.9" x2="1127" y2="610.9" stroke="#505050" stroke-width="1.3"/>
<line x1="1130" y1="564.3" x2="1127" y2="564.3" stroke="#505050" stroke-width="1.3"/>
<line x1="720.5" y1="913.8" x2="720.5" y2="918.8" stroke="#505050" stroke-width="1.6"/>
<text x="719.3" y="942.8" font-size="23.5" font-weight="bold" text-anchor="middle" fill="#000">0</text>
<line x1="792.9" y1="913.8" x2="792.9" y2="918.8" stroke="#505050" stroke-width="1.6"/>
<text x="791.7" y="942.8" font-size="23.5" font-weight="bold" text-anchor="middle" fill="#000">60</text>
<line x1="865.3" y1="913.8" x2="865.3" y2="918.8" stroke="#505050" stroke-width="1.6"/>
<text x="864.1" y="942.8" font-size="23.5" font-weight="bold" text-anchor="middle" fill="#000">120</text>
<line x1="937.7" y1="913.8" x2="937.7" y2="918.8" stroke="#505050" stroke-width="1.6"/>
<text x="936.5" y="942.8" font-size="23.5" font-weight="bold" text-anchor="middle" fill="#000">180</text>
<line x1="1010.1" y1="913.8" x2="1010.1" y2="918.8" stroke="#505050" stroke-width="1.6"/>
<text x="1008.9" y="942.8" font-size="23.5" font-weight="bold" text-anchor="middle" fill="#000">240</text>
<line x1="1082.5" y1="913.8" x2="1082.5" y2="918.8" stroke="#505050" stroke-width="1.6"/>
<text x="1081.3" y="942.8" font-size="23.5" font-weight="bold" text-anchor="middle" fill="#000">300</text>
<line x1="756.7" y1="913.8" x2="756.7" y2="916.8" stroke="#505050" stroke-width="1.3"/>
<line x1="829.1" y1="913.8" x2="829.1" y2="916.8" stroke="#505050" stroke-width="1.3"/>
<line x1="901.5" y1="913.8" x2="901.5" y2="916.8" stroke="#505050" stroke-width="1.3"/>
<line x1="973.9" y1="913.8" x2="973.9" y2="916.8" stroke="#505050" stroke-width="1.3"/>
<line x1="1046.3" y1="913.8" x2="1046.3" y2="916.8" stroke="#505050" stroke-width="1.3"/>
<line x1="1118.7" y1="913.8" x2="1118.7" y2="916.8" stroke="#505050" stroke-width="1.3"/>
<rect x="960" y="573.8" width="146.2" height="328.6" fill="none" stroke="#a8a8a8" stroke-width="2" rx="0"/>
<text x="922.4" y="973.5" font-size="28.6" font-weight="bold" text-anchor="middle" fill="#000">Time (s)</text>
<text x="635.6" y="739.9" font-size="28.5" font-weight="bold" text-anchor="middle" fill="#000" transform="rotate(-90 635.6 739.9)">Temperature (°C)</text>
<text x="1207.5" y="733" font-size="28.4" font-weight="bold" text-anchor="middle" fill="#000" transform="rotate(-90 1207.5 733)">TEMF (mV)</text>
<line x1="739.5" y1="560" x2="784" y2="560" stroke="#ee1c24" stroke-width="3"/>
<text x="789.4" y="567.5" font-size="20" font-weight="bold" text-anchor="start" fill="#000">Hot end</text>
<line x1="871.5" y1="560" x2="918" y2="560" stroke="#2222dd" stroke-width="3"/>
<text x="922.5" y="567.5" font-size="20" font-weight="bold" text-anchor="start" fill="#000">Cold end</text>
<line x1="1012" y1="560" x2="1058.8" y2="560" stroke="#858515" stroke-width="3"/>
<text x="1062.3" y="567.5" font-size="20" font-weight="bold" text-anchor="start" fill="#000">TEMF</text>
<text x="573.6" y="561.8" font-size="36" font-weight="bold">(b<tspan font-size="22" dy="8">1</tspan><tspan dy="-8">)</tspan></text>
<line x1="1106.2" y1="573.8" x2="1232" y2="519.6" stroke="#b4b4b4" stroke-width="2"/>
<line x1="1106.2" y1="902.4" x2="1232" y2="988.8" stroke="#b4b4b4" stroke-width="2"/>
<rect x="1232" y="519.6" width="603" height="469.2" fill="none" stroke="#b4b4b4" stroke-width="2.6" rx="0"/>
<clipPath id="cb2"><rect x="1332" y="545" width="418" height="374"/></clipPath>
<g clip-path="url(#cb2)">
<line x1="1331.6" y1="872.5" x2="1750" y2="872.5" stroke="#999" stroke-width="1.2" stroke-dasharray="2 2"/>
<path d="M1330.9 867.8 L1752.5 867.8" fill="none" stroke="#2222dd" stroke-width="2.6" stroke-linejoin="round" stroke-linecap="round"/>
<path d="M1324 848.1 L1324.9 848.5 L1325.7 848.9 L1326.6 849.3 L1327.4 849.7 L1328.3 850 L1329.2 850.4 L1330 850.7 L1330.9 851.1 L1331.7 851.4 L1332.6 851.7 L1333.4 852 L1334.3 852.3 L1335.1 852.6 L1336 852.9 L1336.9 853.2 L1337.7 853.5 L1338.6 853.8 L1339.4 854 L1340.3 854.3 L1341.1 854.6 L1342 854.8 L1342.9 855.1 L1343.7 855.3 L1344.6 855.5 L1345.4 855.8 L1346.3 856 L1347.1 856.2 L1348 856.4 L1348.9 856.7 L1349.7 856.9 L1350.6 857.1 L1351.4 857.3 L1352.3 857.5 L1353.1 857.7 L1354 857.9 L1354.9 858.1 L1355.7 858.2 L1356.6 858.4 L1357.4 858.6 L1358.3 858.8 L1359.1 858.9 L1360 859.1 L1360.9 859.3 L1361.7 859.4 L1362.6 859.6 L1363.4 859.7 L1364.1 834.8 L1364.8 804.5 L1365.5 775.7 L1366.2 753.2 L1366.9 741.6 L1367.5 737.7 L1368.2 735 L1368.9 733.1 L1369.6 731.4 L1370.3 729.8 L1371 728.5 L1371.7 727.7 L1372.3 727.7 L1373 728.6 L1373.7 729.9 L1374.4 731.2 L1375.1 732.1 L1375.8 732.1 L1376.5 731.3 L1377.1 730.1 L1377.8 729 L1378.5 728.2 L1379.2 728.1 L1379.9 728.7 L1380.6 729.6 L1381.3 730.7 L1381.9 731.8 L1382.3 732.2 L1383.1 738.9 L1384 745.1 L1384.9 750.9 L1385.7 756.3 L1386.6 761.4 L1387.4 766.1 L1388.3 770.6 L1389.1 774.7 L1390 778.6 L1390.9 782.3 L1391.7 785.8 L1392.6 789 L1393.4 792 L1394.3 794.9 L1395.1 797.6 L1396 800.2 L1396.9 802.6 L1397.7 804.9 L1398.6 807 L1399.4 809.1 L1400.3 811 L1401.1 812.8 L1402 814.6 L1402.9 816.2 L1403.7 817.8 L1404.6 819.3 L1405.4 820.7 L1406.3 822.1 L1407.1 823.4 L1408 824.6 L1408.9 825.8 L1409.7 827 L1410.6 828 L1411.4 829.1 L1412.3 830.1 L1413.1 831.1 L1414 832 L1414.8 832.9 L1415.7 833.7 L1416.6 834.5 L1417.4 835.3 L1418.3 836.1 L1419.1 836.8 L1420 837.6 L1420.8 838.3 L1421.7 838.9 L1422.6 839.6 L1423.4 840.2 L1424.3 840.8 L1425.1 841.4 L1426 842 L1426.8 842.5 L1427.7 843.1 L1428.6 843.6 L1429.4 844.1 L1430.3 844.6 L1431.1 845.1 L1432 845.6 L1432.8 846 L1433.7 846.5 L1434.6 846.9 L1435.4 847.3 L1436.3 847.7 L1437.1 848.1 L1438 848.5 L1438.8 848.9 L1439.7 849.3 L1440.6 849.7 L1441.4 850 L1442.3 850.4 L1443.1 850.7 L1444 851.1 L1444.8 851.4 L1445.7 851.7 L1446.6 852 L1447.4 852.3 L1448.3 852.6 L1449.1 852.9 L1450 853.2 L1450.8 853.5 L1451.7 853.8 L1452.6 854 L1453.4 854.3 L1454.3 854.6 L1455.1 854.8 L1456 855.1 L1456.8 855.3 L1457.7 855.5 L1458.6 855.8 L1459.4 856 L1460.3 856.2 L1461.1 856.4 L1462 856.7 L1462.8 856.9 L1463.7 857.1 L1464.6 857.3 L1465.4 857.5 L1466.3 857.7 L1467.1 857.9 L1468 858.1 L1468.8 858.2 L1469.7 858.4 L1470.6 858.6 L1471.4 858.8 L1472.3 858.9 L1473.1 859.1 L1474 859.3 L1474.8 859.4 L1475.7 859.6 L1476.6 859.7 L1477.4 859.9 L1478.3 860 L1479.1 860.2 L1480 860.3 L1480.8 860.5 L1481.7 860.6 L1482.6 860.7 L1483.4 860.9 L1484.3 861 L1485.1 861.1 L1486 861.3 L1486.8 861.4 L1487.7 861.5 L1488.6 861.6 L1489.4 861.7 L1490.3 861.8 L1491.1 862 L1492 862.1 L1492.8 862.2 L1493.7 862.3 L1494.6 862.4 L1495.4 862.5 L1496.3 862.6 L1497.1 862.7 L1498 862.8 L1498.8 862.9 L1499.7 863 L1500.5 863 L1501.4 863.1 L1502.3 863.2 L1503.1 863.3 L1504 863.4 L1504.8 863.5 L1505.7 863.5 L1506.5 863.6 L1507.4 863.7 L1508.3 863.8 L1509.1 863.9 L1510 863.9 L1510.8 864 L1511.7 864.1 L1512.5 864.1 L1513.4 864.2 L1514.3 864.3 L1515.1 864.3 L1516 864.4 L1516.8 864.5 L1517.7 864.5 L1518.5 864.6 L1519.4 864.6 L1520.3 864.7 L1521.1 864.8 L1522 864.8 L1522.8 864.9 L1523.7 864.9 L1524.5 865 L1525.4 865 L1526.3 865.1 L1527.1 865.1 L1528 865.2 L1528.8 865.2 L1529.7 865.3 L1530.5 865.3 L1531.4 865.4 L1532.3 865.4 L1533.1 865.4 L1534 865.5 L1534.8 865.5 L1535.7 865.6 L1536.5 865.6 L1537.4 865.7 L1538.3 865.7 L1539.1 865.7 L1540 865.8 L1540.8 865.8 L1541.7 865.8 L1542.5 865.9 L1543.4 865.9 L1544.3 865.9 L1545.1 866 L1546 866 L1546.8 866 L1547.7 866.1 L1548.5 866.1 L1549.4 866.1 L1550.3 866.2 L1551.1 866.2 L1552 866.2 L1552.8 866.2 L1553.7 866.3 L1554.5 866.3 L1555.4 866.3 L1556.3 866.4 L1557.1 866.4 L1558 866.4 L1558.8 866.4 L1559.7 866.5 L1560.5 866.5 L1561.4 866.5 L1562.3 866.5 L1563.1 866.5 L1564 866.6 L1564.8 866.6 L1565.7 866.6 L1566.5 866.6 L1567.4 866.6 L1568.3 866.7 L1569.1 866.7 L1570 866.7 L1570.8 866.7 L1571.7 866.7 L1572.5 866.8 L1573.4 866.8 L1574.3 866.8 L1575.1 866.8 L1576 866.8 L1576.8 866.8 L1577.7 866.9 L1578.5 866.9 L1579.4 866.9 L1580.3 866.9 L1581.1 866.9 L1582 866.9 L1582.8 867 L1583.7 867 L1584.5 867 L1585.4 867.9 L1586.2 868 L1587.1 868.1 L1588 868.3 L1588.8 868.8 L1589.7 869.8 L1590.5 871.3 L1591.4 873.1 L1592.2 875.2 L1593.1 877.4 L1594 879.6 L1594.8 881.8 L1595.7 884.5 L1596.5 887.9 L1597.4 891.6 L1598.2 894.9 L1599.1 897.2 L1600 898.2 L1600.8 897.9 L1601.7 897.1 L1602.5 896.2 L1603.4 895.1 L1604.2 894.1 L1605.1 893.5 L1606 893.1 L1606.8 892.6 L1607.7 892.2 L1608.5 891.9 L1609.4 891.6 L1610.2 891.4 L1611.1 891.2 L1612 891.2 L1612.8 891.2 L1613.7 891.2 L1614.5 891.2 L1615.4 891.2 L1616.2 891.2 L1617.1 891.2 L1618 891.2 L1618.8 891.2 L1619.7 891.2 L1620.5 891.2 L1621.4 891.2 L1622.2 891.2 L1623.1 891.2 L1624 891.2 L1624.8 891.2 L1625.7 891.2 L1626.5 891.2 L1627.4 891.2 L1628.2 891.2 L1629.1 891.2 L1630 891.2 L1630.8 891.2 L1631.7 891.2 L1632.5 891.2 L1633.4 891.2 L1634.2 891.2 L1635.1 891.2 L1636 891.2 L1636.8 891.2 L1637.7 891.2 L1638.5 891.2 L1639.4 891.2 L1640.2 891.2 L1641.1 891.2 L1642 891.2 L1642.8 891.2 L1643.7 891.2 L1644.5 891.2 L1645.4 891.2 L1646.2 891.2 L1647.1 891.2 L1648 891.2 L1648.8 891.2 L1649.7 891.1 L1650.5 891.1 L1651.4 891.1 L1652.2 891.1 L1653.1 891.1 L1654 891.1 L1654.8 891.1 L1655.7 891 L1656.5 891 L1657.4 891 L1658.2 891 L1659.1 890.9 L1660 890.9 L1660.8 890.8 L1661.7 890.8 L1662.5 890.7 L1663.4 890.7 L1664.2 890.4 L1665.1 889.7 L1666 889.1 L1666.8 888.8 L1667.7 889.2 L1668.5 890.2 L1669.4 891.1 L1670.2 891.6 L1671.1 891.8 L1672 891.9 L1672.8 892 L1673.7 892.1 L1674.5 892.2 L1675.4 892.3 L1676.2 892.4 L1677.1 892.5 L1677.9 892.5 L1678.8 892.6 L1679.7 892.6 L1680.5 892.7 L1681.4 892.7 L1682.2 892.8 L1683.1 892.8 L1683.9 892.9 L1684.8 892.9 L1685.7 893 L1686.5 893 L1687.4 893 L1688.2 893 L1689.1 893.1 L1689.9 893.1 L1690.8 893.1 L1691.7 893.2 L1692.5 893.2 L1693.4 893.3 L1694.2 893.3 L1695.1 893.3 L1695.9 893.4 L1696.8 893.4 L1697.7 893.5 L1698.2 871.3 L1698.7 848.3 L1699.2 825.6 L1699.7 804 L1700.2 784.7 L1700.7 767.8 L1701.3 751.8 L1701.8 738.6 L1702.3 729.8 L1702.8 722.8 L1703.3 716.9 L1703.8 712.3 L1704.3 709.4 L1704.9 708.1 L1705.4 707.3 L1705.9 706.6 L1706.4 706.2 L1706.9 705.7 L1707.4 705.1 L1707.9 704.2 L1708.5 702.8 L1709 700.9 L1709.5 698.4 L1710 695.8 L1710.5 693 L1711 690.4 L1711.5 688 L1712.1 686.1 L1712.6 684.8 L1713.1 684.3 L1713.6 684.8 L1714.1 686.1 L1714.6 688 L1715.1 690.1 L1715.7 692.2 L1716.2 694 L1716.7 695.2 L1717.2 696.4 L1717.7 697.6 L1718.2 698.7 L1718.7 699.7 L1719.3 700.3 L1719.8 700.7 L1720.3 700.6 L1720.8 700 L1721.3 699.1 L1721.8 698 L1722.3 697 L1722.9 696.3 L1723.4 696 L1723.9 696.2 L1724.4 696.8 L1724.9 697.6 L1725.4 698.5 L1725.9 699.4 L1726.5 700.2 L1727 700.9 L1727.5 701.5 L1728 702 L1728.5 702.5 L1729 702.9 L1729.5 703.5 L1730.1 704 L1730.6 704.6 L1731.1 705.1 L1731.6 705.7 L1732.1 706.3 L1732.6 707 L1733.1 707.8 L1733.7 708.9 L1734.2 710.6 L1734.7 713.2 L1735.2 716.5 L1735.7 720.4 L1736.2 724.7 L1736.7 729.2 L1737.3 733.8 L1737.8 739.6 L1738.3 746.3 L1738.8 753.5 L1739.3 760.7 L1739.8 767.3 L1740.3 772.8 L1740.9 777 L1741.4 780.8 L1741.9 784.3 L1742.4 787.5 L1742.9 790.4 L1743.4 793.2 L1743.9 795.9 L1744.5 798.6 L1745 801.2 L1745.5 803.8 L1746 806.5 L1746.5 809.2 L1747 812 L1747.5 814.6 L1748.1 817 L1748.6 819.2 L1749.1 821.1 L1749.6 822.7 L1750.1 824.3 L1750.6 825.9 L1751.1 827.3 L1751.7 828.7 L1752.2 830.1 L1752.7 831.3 L1753.2 832.5 L1753.7 833.6 L1754.2 834.6 L1754.7 835.6 L1755.3 836.4 L1755.8 837.2" fill="none" stroke="#858515" stroke-width="2.6" stroke-linejoin="round" stroke-linecap="round"/>
<path d="M1324.2 810.3 L1325 811.2 L1325.9 812.1 L1326.8 813 L1327.6 813.8 L1328.5 814.7 L1329.3 815.5 L1330.2 816.3 L1331 817.1 L1331.9 817.9 L1332.7 818.6 L1333.6 819.4 L1334.5 820.1 L1335.3 820.8 L1336.2 821.5 L1337 822.2 L1337.9 822.9 L1338.7 823.6 L1339.6 824.2 L1340.5 824.8 L1341.3 825.5 L1342.2 826.1 L1343 826.7 L1343.9 827.3 L1344.7 827.9 L1345.6 828.4 L1346.5 829 L1347.3 829.5 L1348.2 830.1 L1349 830.6 L1349.9 831.1 L1350.7 831.6 L1351.6 832.1 L1352.5 832.6 L1353.3 833.1 L1354.2 833.5 L1355 834 L1355.9 834.5 L1356.7 834.9 L1357.6 835.3 L1358.5 835.7 L1359.3 836.2 L1360.2 836.6 L1361 837 L1361.9 837.4 L1362.7 837.8 L1363.4 838.1 L1364.1 807 L1364.8 776.5 L1365.5 746.6 L1366.2 717.3 L1366.9 685.5 L1367.5 656.9 L1368.2 638.8 L1368.9 629.1 L1369.6 620.9 L1370.3 614.1 L1371 608.4 L1371.7 603.8 L1372.3 599.9 L1373 596.7 L1373.7 594 L1374.4 591.8 L1375.1 589.9 L1375.8 588.2 L1376.5 586.5 L1377.1 584.6 L1377.1 584.6 L1378 595.2 L1378.9 605.1 L1379.7 614.3 L1380.6 623 L1381.4 631.2 L1382.3 638.8 L1383.1 646 L1384 652.8 L1384.9 659.2 L1385.7 665.2 L1386.6 671 L1387.4 676.4 L1388.3 681.5 L1389.1 686.4 L1390 691.1 L1390.9 695.6 L1391.7 699.8 L1392.6 703.9 L1393.4 707.7 L1394.3 711.5 L1395.1 715 L1396 718.5 L1396.9 721.8 L1397.7 724.9 L1398.6 728 L1399.4 731 L1400.3 733.8 L1401.1 736.6 L1402 739.2 L1402.9 741.8 L1403.7 744.3 L1404.6 746.8 L1405.4 749.1 L1406.3 751.4 L1407.1 753.7 L1408 755.8 L1408.9 757.9 L1409.7 760 L1410.6 762 L1411.4 763.9 L1412.3 765.8 L1413.1 767.7 L1414 769.5 L1414.8 771.2 L1415.7 773 L1416.6 774.6 L1417.4 776.3 L1418.3 777.9 L1419.1 779.5 L1420 781 L1420.8 782.5 L1421.7 784 L1422.6 785.4 L1423.4 786.8 L1424.3 788.2 L1425.1 789.5 L1426 790.8 L1426.8 792.1 L1427.7 793.4 L1428.6 794.6 L1429.4 795.8 L1430.3 797 L1431.1 798.2 L1432 799.3 L1432.8 800.5 L1433.7 801.5 L1434.6 802.6 L1435.4 803.7 L1436.3 804.7 L1437.1 805.7 L1438 806.7 L1438.8 807.7 L1439.7 808.6 L1440.6 809.5 L1441.4 810.5 L1442.3 811.4 L1443.1 812.2 L1444 813.1 L1444.8 813.9 L1445.7 814.8 L1446.6 815.6 L1447.4 816.4 L1448.3 817.1 L1449.1 817.9 L1450 818.7 L1450.8 819.4 L1451.7 820.1 L1452.6 820.8 L1453.4 821.5 L1454.3 822.2 L1455.1 822.9 L1456 823.5 L1456.8 824.2 L1457.7 824.8 L1458.6 825.4 L1459.4 826 L1460.3 826.6 L1461.1 827.2 L1462 827.8 L1462.8 828.3 L1463.7 828.9 L1464.6 829.4 L1465.4 829.9 L1466.3 830.4 L1467.1 830.9 L1468 831.4 L1468.8 831.9 L1469.7 832.4 L1470.6 832.9 L1471.4 833.3 L1472.3 833.8 L1473.1 834.2 L1474 834.7 L1474.8 835.1 L1475.7 835.5 L1476.6 835.9 L1477.4 836.3 L1478.3 836.7 L1479.1 837.1 L1480 837.5 L1480.8 837.9 L1481.7 838.2 L1482.6 838.6 L1483.4 838.9 L1484.3 839.3 L1485.1 839.6 L1486 839.9 L1486.8 840.3 L1487.7 840.6 L1488.6 840.9 L1489.4 841.2 L1490.3 841.5 L1491.1 841.8 L1492 842.1 L1492.8 842.4 L1493.7 842.6 L1494.6 842.9 L1495.4 843.2 L1496.3 843.4 L1497.1 843.7 L1498 844 L1498.8 844.2 L1499.7 844.4 L1500.5 844.7 L1501.4 844.9 L1502.3 845.1 L1503.1 845.4 L1504 845.6 L1504.8 845.8 L1505.7 846 L1506.5 846.2 L1507.4 846.4 L1508.3 846.6 L1509.1 846.8 L1510 847 L1510.8 847.2 L1511.7 847.4 L1512.5 847.6 L1513.4 847.7 L1514.3 847.9 L1515.1 848.1 L1516 848.3 L1516.8 848.4 L1517.7 848.6 L1518.5 848.7 L1519.4 848.9 L1520.3 849 L1521.1 849.2 L1522 849.3 L1522.8 849.5 L1523.7 849.6 L1524.5 849.8 L1525.4 849.9 L1526.3 850 L1527.1 850.2 L1528 850.3 L1528.8 850.4 L1529.7 850.5 L1530.5 850.7 L1531.4 850.8 L1532.3 850.9 L1533.1 851 L1534 851.1 L1534.8 851.2 L1535.7 851.3 L1536.5 851.4 L1537.4 851.5 L1538.3 851.6 L1539.1 851.7 L1540 851.8 L1540.8 851.9 L1541.7 852 L1542.5 852.1 L1543.4 852.2 L1544.3 852.3 L1545.1 852.4 L1546 852.5 L1546.8 852.6 L1547.7 852.6 L1548.5 852.7 L1549.4 852.8 L1550.3 852.9 L1551.1 852.9 L1552 853 L1552.8 853.1 L1553.7 853.2 L1554.5 853.2 L1555.4 853.3 L1556.3 853.4 L1557.1 853.4 L1558 853.5 L1558.8 853.6 L1559.7 853.6 L1560.5 853.7 L1561.4 853.7 L1562.3 853.8 L1563.1 853.9 L1564 853.9 L1564.8 854 L1565.7 854 L1566.5 854.1 L1567.4 854.1 L1568.3 854.2 L1569.1 854.2 L1570 854.3 L1570.8 854.3 L1571.7 854.4 L1572.5 854.4 L1573.4 854.5 L1574.3 854.5 L1575.1 854.6 L1576 854.6 L1576.8 854.7 L1577.7 854.7 L1578.5 854.7 L1579.4 854.8 L1580.3 854.8 L1581.1 854.9 L1582 854.9 L1582.8 854.9 L1583.7 855 L1584.5 855 L1586.2 856.7 L1588 857.2 L1589.7 858 L1591.4 859.2 L1593.1 861 L1594.8 863.1 L1596.5 865.9 L1598.2 869 L1600 871.3 L1601.7 872.5 L1603.4 873.5 L1605.1 874.4 L1606.8 875.1 L1608.5 875.8 L1610.2 876.4 L1612 877.1 L1613.7 877.9 L1615.4 878.6 L1617.1 879.3 L1618.8 880 L1620.5 880.7 L1622.2 881.4 L1624 882.1 L1625.7 882.8 L1627.4 883.5 L1629.1 884.1 L1630.8 884.9 L1632.5 885.6 L1634.2 886.3 L1636 887 L1637.7 887.7 L1639.4 888.4 L1641.1 889.2 L1642.8 889.8 L1644.5 890.5 L1646.2 891.2 L1648 891.8 L1649.7 892.5 L1651.4 893.2 L1653.1 893.9 L1654.8 894.5 L1656.5 895.1 L1658.2 895.5 L1660 895.8 L1661.7 896.1 L1663.4 896.3 L1665.1 896.5 L1666.8 896.7 L1668.5 896.8 L1670.2 897 L1672 897.1 L1673.7 897.2 L1675.4 897.3 L1677.1 897.4 L1678.8 897.6 L1680.5 897.7 L1682.2 897.8 L1683.9 898 L1685.7 898.2 L1687.4 898.3 L1689.1 898.4 L1690.8 898.5 L1692.5 898.6 L1694.2 898.6 L1695.9 898.6 L1697.7 898.6 L1698.2 880.5 L1698.7 862 L1699.2 843.4 L1699.7 824.9 L1700.2 806.7 L1700.7 788.9 L1701.3 771.8 L1701.8 755.6 L1702.3 739.8 L1702.8 723.8 L1703.3 708.2 L1703.8 693.5 L1704.3 680.1 L1704.9 668.6 L1705.4 659.2 L1705.9 650.7 L1706.4 643 L1706.9 636.2 L1707.4 630.8 L1707.9 627.1 L1708.5 624.4 L1709 622.1 L1709.5 619.9 L1710 618 L1710.5 616.3 L1711 614.9 L1711.5 613.6 L1712.1 612.5 L1712.6 611.5 L1713.1 610.7 L1713.6 610 L1714.1 609.3 L1714.6 608.7 L1715.1 608 L1715.7 607.5 L1716.2 607 L1716.7 606.6 L1717.2 606.3 L1717.7 606.1 L1718.2 606.1 L1718.7 606.3 L1719.3 606.8 L1719.8 607.5 L1720.3 608.3 L1720.8 609 L1721.3 609.5 L1721.8 609.5 L1722.3 609.1 L1722.9 608.2 L1723.4 607.2 L1723.9 606.2 L1724.4 605.4 L1724.9 604.9 L1725.4 604.9 L1725.9 604.9 L1726.5 605 L1727 605.1 L1727.5 605.3 L1728 605.4 L1728.5 605.5 L1729 605.7 L1729.5 605.9 L1730.1 606 L1730.6 606.2 L1731.1 606.3 L1731.6 606.4 L1732.1 606.6 L1732.6 606.7 L1733.1 607 L1733.7 607.2 L1734.2 607.6 L1734.7 608.2 L1735.2 608.9 L1735.7 609.8 L1736.2 610.9 L1736.7 612.2 L1737.3 613.6 L1737.8 615.9 L1738.3 619.2 L1738.8 623.1 L1739.3 627.6 L1739.8 632.3 L1740.3 637.2 L1740.9 642.1 L1741.4 647.8 L1741.9 653.9 L1742.4 660.5 L1742.9 667.3 L1743.4 674.1 L1743.9 680.8 L1744.5 687.6 L1745 694.7 L1745.5 701.9 L1746 709.1 L1746.5 716.2 L1747 723.1 L1747.5 729.8 L1748.1 736.7 L1748.6 743.7 L1749.1 750.3 L1749.6 756 L1750.1 760.3 L1750.6 763.6 L1751.1 766.5 L1751.7 769.2 L1752.2 771.5 L1752.7 773.7 L1753.2 775.6 L1753.7 777.4 L1754.2 779 L1754.7 780.5 L1755.3 782 L1755.8 783.4" fill="none" stroke="#ee1c24" stroke-width="2.6" stroke-linejoin="round" stroke-linecap="round"/>
<line x1="1370.3" y1="732.2" x2="1370.3" y2="919.2" stroke="#e8202a" stroke-width="2" stroke-dasharray="5 3"/>
<line x1="1380.9" y1="585" x2="1380.9" y2="919.2" stroke="#5a8ee0" stroke-width="2" stroke-dasharray="5 3"/>
<line x1="1599.3" y1="902.8" x2="1599.3" y2="919.2" stroke="#e8202a" stroke-width="2" stroke-dasharray="5 3"/>
<line x1="1678.5" y1="901.7" x2="1678.5" y2="919.2" stroke="#5a8ee0" stroke-width="2" stroke-dasharray="5 3"/>
<line x1="1715.5" y1="685.5" x2="1715.5" y2="919.2" stroke="#e8202a" stroke-width="2" stroke-dasharray="5 3"/>
<line x1="1729.2" y1="606.1" x2="1729.2" y2="919.2" stroke="#5a8ee0" stroke-width="2" stroke-dasharray="5 3"/>
</g>
<line x1="1338" y1="899.6" x2="1365" y2="899.6" stroke="#e8202a" stroke-width="1.3"/>
<path d="M1365 899.6 L1358 903.1 L1358 896.1Z" fill="#e8202a"/>
<line x1="1411" y1="899.6" x2="1381" y2="899.6" stroke="#5a8ee0" stroke-width="1.3"/>
<path d="M1381 899.6 L1388 896.1 L1388 903.1Z" fill="#5a8ee0"/>
<line x1="1570" y1="904" x2="1597" y2="904" stroke="#e8202a" stroke-width="1.3"/>
<path d="M1597 904 L1590 907.5 L1590 900.5Z" fill="#e8202a"/>
<line x1="1690" y1="903" x2="1677" y2="903" stroke="#5a8ee0" stroke-width="1.3"/>
<path d="M1677 903 L1684 899.5 L1684 906.5Z" fill="#5a8ee0"/>
<line x1="1688" y1="909.6" x2="1710" y2="909.6" stroke="#e8202a" stroke-width="1.3"/>
<path d="M1710 909.6 L1703 913.1 L1703 906.1Z" fill="#e8202a"/>
<line x1="1746" y1="909.6" x2="1723" y2="909.6" stroke="#5a8ee0" stroke-width="1.3"/>
<path d="M1723 909.6 L1730 906.1 L1730 913.1Z" fill="#5a8ee0"/>
<rect x="1331.6" y="545.3" width="418.4" height="373.9" fill="none" stroke="#505050" stroke-width="2.2" rx="0"/>
<line x1="1331.6" y1="919.2" x2="1326.6" y2="919.2" stroke="#505050" stroke-width="1.6"/>
<text x="1320.6" y="927.7" font-size="23.5" font-weight="bold" text-anchor="end" fill="#000">−200</text>
<line x1="1331.6" y1="872.5" x2="1326.6" y2="872.5" stroke="#505050" stroke-width="1.6"/>
<text x="1320.6" y="880.9" font-size="23.5" font-weight="bold" text-anchor="end" fill="#000">0</text>
<line x1="1331.6" y1="825.7" x2="1326.6" y2="825.7" stroke="#505050" stroke-width="1.6"/>
<text x="1320.6" y="834.2" font-size="23.5" font-weight="bold" text-anchor="end" fill="#000">200</text>
<line x1="1331.6" y1="779" x2="1326.6" y2="779" stroke="#505050" stroke-width="1.6"/>
<text x="1320.6" y="787.4" font-size="23.5" font-weight="bold" text-anchor="end" fill="#000">400</text>
<line x1="1331.6" y1="732.2" x2="1326.6" y2="732.2" stroke="#505050" stroke-width="1.6"/>
<text x="1320.6" y="740.7" font-size="23.5" font-weight="bold" text-anchor="end" fill="#000">600</text>
<line x1="1331.6" y1="685.5" x2="1326.6" y2="685.5" stroke="#505050" stroke-width="1.6"/>
<text x="1320.6" y="694" font-size="23.5" font-weight="bold" text-anchor="end" fill="#000">800</text>
<line x1="1331.6" y1="638.8" x2="1326.6" y2="638.8" stroke="#505050" stroke-width="1.6"/>
<text x="1320.6" y="647.2" font-size="23.5" font-weight="bold" text-anchor="end" fill="#000">1000</text>
<line x1="1331.6" y1="592" x2="1326.6" y2="592" stroke="#505050" stroke-width="1.6"/>
<text x="1320.6" y="600.5" font-size="23.5" font-weight="bold" text-anchor="end" fill="#000">1200</text>
<line x1="1331.6" y1="545.3" x2="1326.6" y2="545.3" stroke="#505050" stroke-width="1.6"/>
<text x="1320.6" y="553.8" font-size="23.5" font-weight="bold" text-anchor="end" fill="#000">1400</text>
<line x1="1331.6" y1="895.8" x2="1328.6" y2="895.8" stroke="#505050" stroke-width="1.3"/>
<line x1="1331.6" y1="849.1" x2="1328.6" y2="849.1" stroke="#505050" stroke-width="1.3"/>
<line x1="1331.6" y1="802.4" x2="1328.6" y2="802.4" stroke="#505050" stroke-width="1.3"/>
<line x1="1331.6" y1="755.6" x2="1328.6" y2="755.6" stroke="#505050" stroke-width="1.3"/>
<line x1="1331.6" y1="708.9" x2="1328.6" y2="708.9" stroke="#505050" stroke-width="1.3"/>
<line x1="1331.6" y1="662.1" x2="1328.6" y2="662.1" stroke="#505050" stroke-width="1.3"/>
<line x1="1331.6" y1="615.4" x2="1328.6" y2="615.4" stroke="#505050" stroke-width="1.3"/>
<line x1="1331.6" y1="568.7" x2="1328.6" y2="568.7" stroke="#505050" stroke-width="1.3"/>
<line x1="1750" y1="919.2" x2="1745" y2="919.2" stroke="#505050" stroke-width="1.6"/>
<text x="1757" y="927.7" font-size="23.5" font-weight="bold" text-anchor="start" fill="#000">−50</text>
<line x1="1750" y1="872.5" x2="1745" y2="872.5" stroke="#505050" stroke-width="1.6"/>
<text x="1757" y="880.9" font-size="23.5" font-weight="bold" text-anchor="start" fill="#000">0</text>
<line x1="1750" y1="825.7" x2="1745" y2="825.7" stroke="#505050" stroke-width="1.6"/>
<text x="1757" y="834.2" font-size="23.5" font-weight="bold" text-anchor="start" fill="#000">50</text>
<line x1="1750" y1="779" x2="1745" y2="779" stroke="#505050" stroke-width="1.6"/>
<text x="1757" y="787.4" font-size="23.5" font-weight="bold" text-anchor="start" fill="#000">100</text>
<line x1="1750" y1="732.2" x2="1745" y2="732.2" stroke="#505050" stroke-width="1.6"/>
<text x="1757" y="740.7" font-size="23.5" font-weight="bold" text-anchor="start" fill="#000">150</text>
<line x1="1750" y1="685.5" x2="1745" y2="685.5" stroke="#505050" stroke-width="1.6"/>
<text x="1757" y="694" font-size="23.5" font-weight="bold" text-anchor="start" fill="#000">200</text>
<line x1="1750" y1="638.8" x2="1745" y2="638.8" stroke="#505050" stroke-width="1.6"/>
<text x="1757" y="647.2" font-size="23.5" font-weight="bold" text-anchor="start" fill="#000">250</text>
<line x1="1750" y1="592" x2="1745" y2="592" stroke="#505050" stroke-width="1.6"/>
<text x="1757" y="600.5" font-size="23.5" font-weight="bold" text-anchor="start" fill="#000">300</text>
<line x1="1750" y1="545.3" x2="1745" y2="545.3" stroke="#505050" stroke-width="1.6"/>
<text x="1757" y="553.8" font-size="23.5" font-weight="bold" text-anchor="start" fill="#000">350</text>
<line x1="1750" y1="895.8" x2="1747" y2="895.8" stroke="#505050" stroke-width="1.3"/>
<line x1="1750" y1="849.1" x2="1747" y2="849.1" stroke="#505050" stroke-width="1.3"/>
<line x1="1750" y1="802.4" x2="1747" y2="802.4" stroke="#505050" stroke-width="1.3"/>
<line x1="1750" y1="755.6" x2="1747" y2="755.6" stroke="#505050" stroke-width="1.3"/>
<line x1="1750" y1="708.9" x2="1747" y2="708.9" stroke="#505050" stroke-width="1.3"/>
<line x1="1750" y1="662.1" x2="1747" y2="662.1" stroke="#505050" stroke-width="1.3"/>
<line x1="1750" y1="615.4" x2="1747" y2="615.4" stroke="#505050" stroke-width="1.3"/>
<line x1="1750" y1="568.7" x2="1747" y2="568.7" stroke="#505050" stroke-width="1.3"/>
<line x1="1372" y1="919.2" x2="1372" y2="924.2" stroke="#505050" stroke-width="1.6"/>
<text x="1370.8" y="948.2" font-size="23.5" font-weight="bold" text-anchor="middle" fill="#000">210</text>
<line x1="1474.8" y1="919.2" x2="1474.8" y2="924.2" stroke="#505050" stroke-width="1.6"/>
<text x="1473.6" y="948.2" font-size="23.5" font-weight="bold" text-anchor="middle" fill="#000">240</text>
<line x1="1577.7" y1="919.2" x2="1577.7" y2="924.2" stroke="#505050" stroke-width="1.6"/>
<text x="1576.5" y="948.2" font-size="23.5" font-weight="bold" text-anchor="middle" fill="#000">270</text>
<line x1="1680.5" y1="919.2" x2="1680.5" y2="924.2" stroke="#505050" stroke-width="1.6"/>
<text x="1679.3" y="948.2" font-size="23.5" font-weight="bold" text-anchor="middle" fill="#000">300</text>
<line x1="1423.4" y1="919.2" x2="1423.4" y2="922.2" stroke="#505050" stroke-width="1.3"/>
<line x1="1526.3" y1="919.2" x2="1526.3" y2="922.2" stroke="#505050" stroke-width="1.3"/>
<line x1="1629.1" y1="919.2" x2="1629.1" y2="922.2" stroke="#505050" stroke-width="1.3"/>
<line x1="1731.9" y1="919.2" x2="1731.9" y2="922.2" stroke="#505050" stroke-width="1.3"/>
<text x="1537.8" y="977" font-size="28.6" font-weight="bold" text-anchor="middle" fill="#000">Time (s)</text>
<text x="1257.1" y="741.5" font-size="28.5" font-weight="bold" text-anchor="middle" fill="#000" transform="rotate(-90 1257.1 741.5)">Temperature (°C)</text>
<text x="1822" y="732" font-size="28.4" font-weight="bold" text-anchor="middle" fill="#000" transform="rotate(-90 1822 732)">TEMF (mV)</text>
<line x1="1356" y1="564.2" x2="1404" y2="564.2" stroke="#ee1c24" stroke-width="3"/>
<text x="1404" y="571.7" font-size="20" font-weight="bold" text-anchor="start" fill="#000">Hot end</text>
<line x1="1489.7" y1="564.2" x2="1537.8" y2="564.2" stroke="#2222dd" stroke-width="3"/>
<text x="1537.8" y="571.7" font-size="20" font-weight="bold" text-anchor="start" fill="#000">Cold end</text>
<line x1="1632.4" y1="564.2" x2="1677" y2="564.2" stroke="#858515" stroke-width="3"/>
<text x="1677" y="571.7" font-size="20" font-weight="bold" text-anchor="start" fill="#000">TEMF</text>
<text x="1199.4" y="561.8" font-size="36" font-weight="bold">(b<tspan font-size="22" dy="8">2</tspan><tspan dy="-8">)</tspan></text>
<text x="18.2" y="1067.3" font-size="36" font-weight="bold" text-anchor="start" fill="#000">(c)</text>
<text x="40.5" y="1148.8" font-size="24" font-weight="bold">CO<tspan font-size="14" dy="4">2</tspan><tspan dy="-4"> optical laser</tspan></text>
<defs><linearGradient id="gbeam" x1="0" y1="0" x2="1" y2="0"><stop offset="0" stop-color="#f4f07a"/><stop offset="0.6" stop-color="#f6c0a0"/><stop offset="1" stop-color="#ee3030"/></linearGradient><linearGradient id="gtop" x1="0" y1="0" x2="1" y2="0"><stop offset="0" stop-color="#8a7c74"/><stop offset="1" stop-color="#b4aca6"/></linearGradient><linearGradient id="gpanel" x1="0" y1="1" x2="1" y2="0"><stop offset="0" stop-color="#353535"/><stop offset="1" stop-color="#5a5a5a"/></linearGradient></defs>
<path d="M81.7 1188.5 L240 1165.2 L274 1182.2 L107.7 1203.7 Z" fill="url(#gtop)"/>
<path d="M81.7 1188.5 L107.7 1203.7 L108.6 1253.8 L82.6 1237.7 Z" fill="#dfe3ea"/>
<path d="M107.7 1203.7 L270 1182.7 Q275 1182.5 275 1188 L275 1222 Q275 1227 270 1227.5 L108.6 1253.8 Z" fill="#1b1b1b"/>
<ellipse cx="127.4" cy="1190.4" rx="18.5" ry="7.4" fill="#d8d8d8" stroke="#777" stroke-width="1.2"/>
<ellipse cx="127.4" cy="1189.4" rx="12.5" ry="4.6" fill="#ffffff" stroke="#999" stroke-width="1"/>
<ellipse cx="174.8" cy="1183.2" rx="18.5" ry="7.4" fill="#d8d8d8" stroke="#777" stroke-width="1.2"/>
<ellipse cx="174.8" cy="1182.2" rx="12.5" ry="4.6" fill="#ffffff" stroke="#999" stroke-width="1"/>
<ellipse cx="219.5" cy="1177" rx="18.5" ry="7.4" fill="#d8d8d8" stroke="#777" stroke-width="1.2"/>
<ellipse cx="219.5" cy="1176" rx="12.5" ry="4.6" fill="#ffffff" stroke="#999" stroke-width="1"/>
<circle cx="83.5" cy="1230.5" r="3.4" fill="#dd2020" stroke="#333" stroke-width="1.2"/>
<circle cx="97" cy="1241.3" r="3.4" fill="#445" stroke="#223" stroke-width="1.2"/>
<path d="M275 1192 L393.6 1175.8" stroke="url(#gbeam)" stroke-width="2.2" fill="none"/>
<path d="M82 1234 C60 1270 42 1300 46 1318 C50 1330 70 1331 88 1330.7" fill="none" stroke="#5a6aa0" stroke-width="1.8"/>
<path d="M95 1244 C80 1265 64 1285 66 1297 C68 1305 80 1306 88 1306" fill="none" stroke="#5a6aa0" stroke-width="1.8"/>
<path d="M75.5 1287.8 L105.9 1278.8 L222.2 1277.9 L222.2 1282 L107.7 1291.3 Z" fill="#c4c4c4"/>
<path d="M75.5 1287.8 L107.7 1291.3 L109.5 1398.7 L77.5 1390.7 Z" fill="#a9a9a9"/>
<path d="M105.9 1282 L222.2 1278 L224 1373.7 L109.5 1398.7 Z" fill="#e2e2e2"/>
<path d="M109 1291.3 L215 1288.7 L216.8 1371.9 L113 1384.4 Z" fill="#ffffff"/>
<circle cx="90.7" cy="1306.6" r="6" fill="#e01818" stroke="#3a4a6a" stroke-width="1.6"/>
<circle cx="91.6" cy="1330.7" r="6" fill="#f6b898" stroke="#3a4a6a" stroke-width="1.6"/>
<circle cx="94.3" cy="1354" r="6" fill="#9cc8f0" stroke="#3a4a6a" stroke-width="1.6"/>
<circle cx="96" cy="1378" r="6" fill="#2a8a2a" stroke="#3a4a6a" stroke-width="1.6"/>
<path d="M119.3 1363.8 L119.3 1363.8 L119.3 1322.7 L121.5 1322.7 L121.5 1363.5 L129.1 1362.3 L129.1 1321.4 L131.3 1321.4 L131.3 1361.9 L139 1360.7 L139 1320.1 L141.2 1320.1 L141.2 1360.4 L149.7 1359.1 L149.7 1318.8 L151.9 1318.8 L151.9 1358.7 L159.6 1357.5 L159.6 1317.5 L161.8 1317.5 L161.8 1357.2 L169.4 1356 L169.4 1316.2 L171.6 1316.2 L171.6 1355.6 L179.2 1354.5 L179.2 1314.9 L181.4 1314.9 L181.4 1354.1 L189.1 1352.9 L189.1 1313.6 L191.3 1313.6 L191.3 1352.6 L198 1351.5 L198 1312.3 L200.2 1312.3 L200.2 1351.2 L207.9 1350 L207.9 1311 L210.1 1311 L210.1 1349.6 L216.8 1348.6" fill="none" stroke="#111" stroke-width="1.8"/>
<text x="114.8" y="1317.3" font-size="17" font-weight="bold" text-anchor="start" fill="#000" textLength="28" lengthAdjust="spacingAndGlyphs">2 V</text>
<text x="119.3" y="1382.6" font-size="17" font-weight="bold" text-anchor="start" fill="#000" transform="rotate(-6 119.3 1382.6)" textLength="28" lengthAdjust="spacingAndGlyphs">0 V</text>
<text x="163" y="1373.7" font-size="17" font-weight="bold" text-anchor="start" fill="#000" transform="rotate(-8 163 1373.7)" textLength="51" lengthAdjust="spacingAndGlyphs">10 Hz</text>
<text x="152.9" y="1421.2" font-size="22" font-weight="bold" text-anchor="middle" fill="#000" textLength="191" lengthAdjust="spacingAndGlyphs">Signal generator</text>
<path d="M387.8 1101.6 L527 1139.8 L489.8 1265 L353 1227 Z" fill="url(#gpanel)"/>
<path d="M386.7 1142.9 L498 1171.2 L482.9 1230.3 L372.7 1199 Z" fill="#f2f2f2"/>
<path d="M391.3 1189 L393.6 1165.4 L475.9 1187.4" fill="none" stroke="#f57012" stroke-width="4.6"/>
<path d="M391.3 1188.5 L470.1 1208.2" fill="none" stroke="#dcb48a" stroke-width="4.6"/>
<path d="M475.9 1188.5 C500 1200 512 1210 524 1232 C535 1255 540 1280 540.8 1305.6" fill="none" stroke="#222" stroke-width="1.5"/>
<path d="M470.1 1208.2 C490 1218 505 1230 514 1250 C520 1265 522 1285 522.3 1296.4" fill="none" stroke="#222" stroke-width="1.5"/>
<path d="M275 1192 L393.6 1175.8" stroke="url(#gbeam)" stroke-width="2" fill="none" opacity="0.7"/>
<text x="328" y="1171.2" font-size="24" font-weight="bold" text-anchor="middle" fill="#000" textLength="61" lengthAdjust="spacingAndGlyphs">Laser</text>
<text x="384.3" y="1230.3" font-size="20" font-weight="bold" text-anchor="middle" fill="#000" textLength="145" lengthAdjust="spacingAndGlyphs">Flexible sensor</text>
<path d="M421.4 1383.3 L478.2 1354.3 L580.3 1403 L523.4 1433.2 Z" fill="#f4f4fb" stroke="#c0b4e8" stroke-width="1.6"/>
<path d="M450.4 1377.5 L479.4 1362.4 L558.2 1399.5 L529.2 1416.9 Z" fill="#b8c2d6"/>
<path d="M460 1397 L472 1391 L492 1401 L480 1407 Z" fill="#d8dade"/>
<path d="M477 1275.5 L580.3 1327.7 L580.3 1403 L478.2 1354.3 Z" fill="#fbfbfe" stroke="#b8c4f0" stroke-width="2"/>
<path d="M484 1350 L485 1300 L492 1302 L493 1308 Q496 1340 502 1355" fill="none" stroke="#aaa" stroke-width="1"/>
<path d="M511 1363 L512 1313 L519 1315 L520 1321 Q523 1353 529 1368" fill="none" stroke="#aaa" stroke-width="1"/>
<path d="M544 1380 L545 1330 L552 1332 L553 1338 Q556 1370 562 1385" fill="none" stroke="#aaa" stroke-width="1"/>
<text x="386.6" y="1345" font-size="20" font-weight="bold" text-anchor="middle" fill="#000" textLength="154" lengthAdjust="spacingAndGlyphs">Data acquisition</text>
<text x="385.3" y="1368.2" font-size="20" font-weight="bold" text-anchor="middle" fill="#000" textLength="90" lengthAdjust="spacingAndGlyphs">computer</text>
<clipPath id="cc1"><rect x="707" y="1049" width="493" height="385"/></clipPath><g clip-path="url(#cc1)">
<path d="M718.1 1419.8 L718.7 1395.7 L719.3 1371.8 L719.9 1344.2 L720.5 1304.9 L721.1 1255.4 L721.7 1217.4 L722.3 1193.7 L722.9 1173.4 L723.5 1158.3 L724.1 1149.9 L724.7 1146 L725.3 1142.9 L725.9 1140.4 L726.5 1138.5 L727.1 1136.9 L727.7 1135.5 L728.3 1134.2 L728.9 1133 L729.5 1132.1 L730.1 1131.2 L730.7 1130.3 L731.3 1129.4 L731.9 1128.5 L732.5 1127.7 L733.1 1126.8 L733.7 1126 L734.3 1125.1 L734.9 1124.3 L735.5 1123.5 L736.1 1122.7 L736.7 1122 L737.3 1121.3 L737.9 1120.5 L738.6 1119.9 L739.2 1119.2 L739.8 1118.6 L740.4 1118 L741 1117.5 L741.6 1116.9 L742.2 1116.4 L742.8 1116 L743.4 1115.5 L744 1115 L744.6 1114.6 L745.2 1114.1 L745.8 1113.6 L746.4 1113.1 L747 1112.6 L747.6 1112 L748.2 1111.2 L748.8 1110.5 L749.4 1109.7 L750 1108.9 L750.6 1108.1 L751.2 1107.5 L751.8 1107 L752.4 1106.7 L753 1106.5 L753.6 1106.7 L754.2 1107.2 L754.8 1107.9 L755.4 1108.8 L756 1109.8 L756.6 1110.8 L757.2 1111.8 L757.8 1112.6 L758.4 1113.3 L759 1114.2 L759.6 1115.1 L760.2 1116 L760.8 1116.9 L761.4 1117.6 L762 1118.1 L762.6 1118.5 L763.2 1118.6 L763.8 1118.4 L764.4 1118 L765 1117.4 L765.6 1116.6 L766.2 1115.8 L766.8 1114.9 L767.4 1114.1 L768 1113.3 L768.6 1112.6 L769.2 1111.9 L769.8 1111.2 L770.4 1110.5 L771 1109.8 L771.6 1109.1 L772.2 1108.5 L772.8 1108 L773.4 1107.5 L774 1107.1 L774.6 1106.7 L775.2 1106.4 L775.8 1106.1 L776.4 1105.8 L777 1105.5 L777.6 1105.2 L778.2 1105 L778.9 1104.7 L779.5 1104.5 L780.1 1104.2 L780.7 1104 L781.3 1103.7 L781.9 1103.5 L782.5 1103.2 L783.1 1102.9 L783.7 1102.6 L784.3 1102.3 L784.9 1101.9 L785.5 1101.5 L786.1 1101.1 L786.7 1100.8 L787.3 1100.4 L787.9 1100 L788.5 1099.6 L789.1 1099.3 L789.7 1099 L790.3 1098.8 L790.9 1098.6 L791.5 1098.4 L792.1 1098.4 L792.7 1107.4 L793.3 1152 L793.9 1184.8 L794.5 1214.8 L795.1 1241.5 L795.7 1267.2 L796.3 1284.9 L796.9 1292.6 L797.5 1298.6 L798.1 1303.1 L798.7 1306.9 L799.3 1310.3 L799.9 1313.8 L800.5 1317.5 L801.1 1320.9 L801.7 1324.2 L802.3 1327.3 L802.9 1330.3 L803.5 1333 L804.1 1335.5 L804.7 1337.9 L805.3 1340.1 L805.9 1342.1 L806.5 1344 L807.1 1345.8 L807.7 1347.5 L808.3 1349.2 L808.9 1350.8 L809.5 1352.4 L810.1 1353.9 L810.7 1355.5 L811.3 1357 L811.9 1358.5 L812.5 1359.9 L813.1 1361.4 L813.7 1362.8 L814.3 1364.1 L814.9 1365.4 L815.5 1366.7 L816.1 1368 L816.7 1369.2 L817.3 1370.4 L817.9 1371.6 L818.6 1372.8 L819.2 1374 L819.8 1375.2 L820.4 1376.3 L821 1377.4 L821.6 1378.5 L822.2 1379.6 L822.8 1380.7 L823.4 1381.7 L824 1382.6 L824.6 1383.6 L825.2 1384.5 L825.8 1385.3 L826.4 1386.1 L827 1386.9 L827.6 1387.6 L828.2 1388.3 L828.8 1389 L829.4 1389.7 L830 1390.4 L830.6 1391 L831.2 1391.6 L831.8 1392.3 L832.4 1392.8 L833 1393.4 L833.6 1394 L834.2 1394.6 L834.8 1395.1 L835.4 1395.6 L836 1396.2 L836.6 1396.7 L837.2 1397.2 L837.8 1397.7 L838.4 1398.1 L839 1398.6 L839.6 1399.1 L840.2 1399.6 L840.8 1400 L841.4 1400.5 L842 1400.9 L842.6 1401.3 L843.2 1401.8 L843.8 1402.2 L844.4 1402.6 L845 1403 L845.6 1403.4 L846.2 1403.8 L846.8 1404.2 L847.4 1404.6 L848 1405 L848.6 1405.4 L849.2 1405.7 L849.8 1406.1 L850.4 1406.5 L851 1406.8 L851.6 1407.2 L852.2 1407.6 L852.8 1407.9 L853.4 1408.3 L854 1408.6 L854.6 1409 L855.2 1409.3 L855.8 1409.7 L856.4 1410.1 L857 1410.4 L857.6 1410.8 L858.2 1411.2 L858.9 1411.6 L859.5 1412 L860.1 1412.4 L860.7 1412.8 L861.3 1413.3 L861.9 1413.7 L862.5 1414.1 L863.1 1414.6 L863.7 1415 L864.3 1415.4 L864.9 1415.8 L865.5 1416.2 L866.1 1416.6 L866.7 1416.9 L867.3 1417.3 L867.9 1417.6 L868.5 1417.9 L869.1 1418.2 L869.7 1418.4 L870.3 1418.6 L870.9 1418.8 L871.5 1418.9 L872.1 1419 L872.7 1419.1 L873.3 1419.1 L873.9 1389.8 L874.5 1337.9 L875.1 1282.5 L875.7 1224.2 L876.3 1188.7 L876.9 1169.1 L877.5 1154.7 L878.1 1145.1 L878.7 1138.5 L879.3 1133.4 L879.9 1129.3 L880.5 1125.8 L881.1 1122.7 L881.7 1119.8 L882.3 1117.2 L882.9 1115 L883.5 1113 L884.1 1111.4 L884.7 1109.9 L885.3 1108.6 L885.9 1107.4 L886.5 1106.3 L887.1 1105.3 L887.7 1104.4 L888.3 1103.6 L888.9 1102.9 L889.5 1102.3 L890.1 1101.6 L890.7 1101 L891.3 1100.5 L891.9 1100 L892.5 1099.6 L893.1 1099.4 L893.7 1099.3 L894.3 1099.3 L894.9 1099.4 L895.5 1099.6 L896.1 1099.7 L896.7 1099.9 L897.3 1100.2 L897.9 1100.4 L898.6 1100.7 L899.2 1100.9 L899.8 1101.2 L900.4 1101.5 L901 1101.7 L901.6 1102 L902.2 1102.2 L902.8 1102.5 L903.4 1102.8 L904 1103.1 L904.6 1103.4 L905.2 1103.8 L905.8 1104.1 L906.4 1104.4 L907 1104.7 L907.6 1105.1 L908.2 1105.4 L908.8 1105.7 L909.4 1106 L910 1106.3 L910.6 1106.5 L911.2 1106.8 L911.8 1107.1 L912.4 1107.4 L913 1107.7 L913.6 1108 L914.2 1108.3 L914.8 1108.6 L915.4 1108.9 L916 1109.1 L916.6 1109.4 L917.2 1109.6 L917.8 1109.8 L918.4 1109.9 L919 1110.1 L919.6 1110.1 L920.2 1110.2 L920.8 1110.1 L921.4 1110.1 L922 1110 L922.6 1109.8 L923.2 1109.6 L923.8 1109.4 L924.4 1109.2 L925 1108.9 L925.6 1108.6 L926.2 1108.3 L926.8 1108 L927.4 1107.7 L928 1107.4 L928.6 1107.1 L929.2 1106.8 L929.8 1106.5 L930.4 1106.2 L931 1105.9 L931.6 1105.6 L932.2 1105.2 L932.8 1104.8 L933.4 1104.4 L934 1104 L934.6 1103.6 L935.2 1103.2 L935.8 1102.8 L936.4 1102.4 L937 1102 L937.6 1101.6 L938.2 1101.2 L938.9 1100.9 L939.5 1100.5 L940.1 1100.2 L940.7 1099.8 L941.3 1099.5 L941.9 1099.2 L942.5 1098.9 L943.1 1098.5 L943.7 1098.2 L944.3 1097.9 L944.9 1097.6 L945.5 1097.4 L946.1 1097.1 L946.7 1096.9 L947.3 1096.7 L947.9 1096.4 L948.5 1096.2 L949.1 1096 L949.7 1095.7 L950.3 1095.5 L950.9 1095.3 L951.5 1095.1 L952.1 1094.9 L952.7 1094.8 L953.3 1094.7 L953.9 1094.6 L954.5 1094.5 L955.1 1094.5 L955.7 1136.3 L956.3 1172.7 L956.9 1203.7 L957.5 1231.3 L958.1 1257.1 L958.7 1279.7 L959.3 1289.8 L959.9 1296.4 L960.5 1301.4 L961.1 1305.5 L961.7 1308.9 L962.3 1312.3 L962.9 1316 L963.5 1319.6 L964.1 1322.9 L964.7 1326.1 L965.3 1329.1 L965.9 1331.9 L966.5 1334.5 L967.1 1337 L967.7 1339.2 L968.3 1341.3 L968.9 1343.3 L969.5 1345.1 L970.1 1346.8 L970.7 1348.5 L971.3 1350.1 L971.9 1351.7 L972.5 1353.3 L973.1 1354.9 L973.7 1356.4 L974.3 1357.9 L974.9 1359.4 L975.5 1360.8 L976.1 1362.2 L976.7 1363.6 L977.3 1364.9 L977.9 1366.2 L978.5 1367.5 L979.2 1368.7 L979.8 1370 L980.4 1371.2 L981 1372.4 L981.6 1373.5 L982.2 1374.7 L982.8 1375.9 L983.4 1377 L984 1378.1 L984.6 1379.2 L985.2 1380.2 L985.8 1381.3 L986.4 1382.2 L987 1383.2 L987.6 1384.1 L988.2 1385 L988.8 1385.8 L989.4 1386.6 L990 1387.3 L990.6 1388 L991.2 1388.7 L991.8 1389.4 L992.4 1390.1 L993 1390.8 L993.6 1391.4 L994.2 1392 L994.8 1392.6 L995.4 1393.2 L996 1393.8 L996.6 1394.3 L997.2 1394.9 L997.8 1395.4 L998.4 1395.9 L999 1396.5 L999.6 1397 L1000.2 1397.5 L1000.8 1398 L1001.4 1398.4 L1002 1398.9 L1002.6 1399.4 L1003.2 1399.8 L1003.8 1400.3 L1004.4 1400.7 L1005 1401.2 L1005.6 1401.6 L1006.2 1402 L1006.8 1402.4 L1007.4 1402.8 L1008 1403.3 L1008.6 1403.7 L1009.2 1404 L1009.8 1404.4 L1010.4 1404.8 L1011 1405.2 L1011.6 1405.6 L1012.2 1406 L1012.8 1406.3 L1013.4 1406.7 L1014 1407.1 L1014.6 1407.4 L1015.2 1407.8 L1015.8 1408.1 L1016.4 1408.5 L1017 1408.8 L1017.6 1409.2 L1018.2 1409.6 L1018.9 1409.9 L1019.5 1410.3 L1020.1 1410.6 L1020.7 1411 L1021.3 1411.4 L1021.9 1411.8 L1022.5 1412.2 L1023.1 1412.7 L1023.7 1413.1 L1024.3 1413.5 L1024.9 1414 L1025.5 1414.4 L1026.1 1414.8 L1026.7 1415.2 L1027.3 1415.6 L1027.9 1416 L1028.5 1416.4 L1029.1 1416.8 L1029.7 1417.1 L1030.3 1417.5 L1030.9 1417.8 L1031.5 1418.1 L1032.1 1418.3 L1032.7 1418.5 L1033.3 1418.7 L1033.9 1418.9 L1034.5 1419 L1035.1 1419.1 L1035.7 1419.1 L1036.3 1407.3 L1036.9 1357.9 L1037.5 1306.5 L1038.1 1246.2 L1038.7 1198.9 L1039.3 1176.2 L1039.9 1159.8 L1040.5 1148.4 L1041.1 1141.1 L1041.7 1135.8 L1042.3 1131.7 L1042.9 1128.2 L1043.5 1125.1 L1044.1 1122.2 L1044.7 1119.6 L1045.3 1117.3 L1045.9 1115.3 L1046.5 1113.8 L1047.1 1112.5 L1047.7 1111.3 L1048.3 1110.2 L1048.9 1109.3 L1049.5 1108.4 L1050.1 1107.7 L1050.7 1107 L1051.3 1106.5 L1051.9 1106.1 L1052.5 1105.8 L1053.1 1105.5 L1053.7 1105.2 L1054.3 1105 L1054.9 1104.7 L1055.5 1104.5 L1056.1 1104.1 L1056.7 1103.7 L1057.3 1103.2 L1057.9 1102.6 L1058.5 1102 L1059.2 1101.4 L1059.8 1100.9 L1060.4 1100.6 L1061 1100.5 L1061.6 1100.7 L1062.2 1101.1 L1062.8 1101.8 L1063.4 1102.7 L1064 1103.7 L1064.6 1104.7 L1065.2 1105.7 L1065.8 1106.5 L1066.4 1107.5 L1067 1108.6 L1067.6 1109.8 L1068.2 1111 L1068.8 1112.1 L1069.4 1112.9 L1070 1113.5 L1070.6 1113.8 L1071.2 1113.7 L1071.8 1113.7 L1072.4 1113.5 L1073 1113.4 L1073.6 1113.2 L1074.2 1113 L1074.8 1112.8 L1075.4 1112.6 L1076 1112.3 L1076.6 1112 L1077.2 1111.6 L1077.8 1111.2 L1078.4 1110.8 L1079 1110.4 L1079.6 1110 L1080.2 1109.6 L1080.8 1109.2 L1081.4 1109 L1082 1108.7 L1082.6 1108.5 L1083.2 1108.3 L1083.8 1108.1 L1084.4 1107.9 L1085 1107.7 L1085.6 1107.5 L1086.2 1107.4 L1086.8 1107.2 L1087.4 1107 L1088 1106.8 L1088.6 1106.5 L1089.2 1106.3 L1089.8 1106 L1090.4 1105.7 L1091 1105.4 L1091.6 1105.1 L1092.2 1104.7 L1092.8 1104.4 L1093.4 1104.1 L1094 1103.8 L1094.6 1103.5 L1095.2 1103.2 L1095.8 1102.9 L1096.4 1102.7 L1097 1102.4 L1097.6 1102.2 L1098.2 1102 L1098.8 1101.8 L1099.5 1101.6 L1100.1 1101.4 L1100.7 1101.2 L1101.3 1101 L1101.9 1100.8 L1102.5 1100.7 L1103.1 1100.5 L1103.7 1100.4 L1104.3 1100.2 L1104.9 1100.1 L1105.5 1100 L1106.1 1099.8 L1106.7 1099.7 L1107.3 1099.6 L1107.9 1099.5 L1108.5 1099.4 L1109.1 1099.4 L1109.7 1099.3 L1110.3 1099.3 L1110.9 1099.3 L1111.5 1099.4 L1112.1 1099.4 L1112.7 1099.5 L1113.3 1099.6 L1113.9 1099.7 L1114.5 1099.8 L1115.1 1099.9 L1115.7 1100 L1116.3 1100.2 L1116.9 1100.3 L1117.5 1100.5 L1118.1 1100.7 L1118.7 1100.9 L1119.3 1101.3 L1119.9 1110.1 L1120.5 1151.7 L1121.1 1184.2 L1121.7 1214.5 L1122.3 1241.5 L1122.9 1267.2 L1123.5 1284.9 L1124.1 1292.6 L1124.7 1298.6 L1125.3 1303.1 L1125.9 1306.9 L1126.5 1310.3 L1127.1 1313.8 L1127.7 1317.5 L1128.3 1320.9 L1128.9 1324.2 L1129.5 1327.3 L1130.1 1330.3 L1130.7 1333 L1131.3 1335.5 L1131.9 1337.9 L1132.5 1340.1 L1133.1 1342.1 L1133.7 1344 L1134.3 1345.8 L1134.9 1347.5 L1135.5 1349.2 L1136.1 1350.8 L1136.7 1352.4 L1137.3 1353.9 L1137.9 1355.5 L1138.5 1357 L1139.2 1358.5 L1139.8 1359.9 L1140.4 1361.4 L1141 1362.8 L1141.6 1364.1 L1142.2 1365.4 L1142.8 1366.7 L1143.4 1368 L1144 1369.2 L1144.6 1370.4 L1145.2 1371.6 L1145.8 1372.8 L1146.4 1374 L1147 1375.2 L1147.6 1376.3 L1148.2 1377.4 L1148.8 1378.5 L1149.4 1379.6 L1150 1380.7 L1150.6 1381.7 L1151.2 1382.6 L1151.8 1383.6 L1152.4 1384.5 L1153 1385.3 L1153.6 1386.1 L1154.2 1386.9 L1154.8 1387.6 L1155.4 1388.3 L1156 1389 L1156.6 1389.7 L1157.2 1390.4 L1157.8 1391 L1158.4 1391.6 L1159 1392.3 L1159.6 1392.8 L1160.2 1393.4 L1160.8 1394 L1161.4 1394.6 L1162 1395.1 L1162.6 1395.6 L1163.2 1396.2 L1163.8 1396.7 L1164.4 1397.2 L1165 1397.7 L1165.6 1398.1 L1166.2 1398.6 L1166.8 1399.1 L1167.4 1399.6 L1168 1400 L1168.6 1400.5 L1169.2 1400.9 L1169.8 1401.3 L1170.4 1401.7 L1171 1402.2 L1171.6 1402.6 L1172.2 1403 L1172.8 1403.4 L1173.4 1403.8 L1174 1404.1 L1174.6 1404.5 L1175.2 1404.9 L1175.8 1405.3 L1176.4 1405.6 L1177 1406 L1177.6 1406.4 L1178.2 1406.8 L1178.8 1407.1 L1179.5 1407.5 L1180.1 1407.8 L1180.7 1408.2 L1181.3 1408.6 L1181.9 1408.9 L1182.5 1409.3 L1183.1 1409.7 L1183.7 1410.1 L1184.3 1410.4 L1184.9 1410.8 L1185.5 1411.2 L1186.1 1411.5 L1186.7 1411.9 L1187.3 1412.3 L1187.9 1412.6 L1188.5 1413 L1189.1 1413.3 L1189.7 1413.7 L1190.3 1414 L1190.9 1414.4 L1191.5 1414.7 L1192.1 1415.1 L1192.7 1415.4 L1193.3 1415.8 L1193.9 1416.1 L1194.5 1416.5 L1195.1 1416.8 L1195.7 1417.2 L1196.3 1417.5 L1196.9 1417.9 L1197.1 1418 L1197.4 1418.2 L1197.6 1418.3 L1197.9 1418.4 L1198.1 1418.6 L1198.3 1418.7 L1198.6 1418.9 L1198.8 1419 L1199.1 1419.1 L1199.3 1419.3 L1199.5 1419.4 L1199.8 1419.6 L1200 1419.7 L1200.3 1419.8" fill="none" stroke="#858515" stroke-width="2.4" stroke-linejoin="round" stroke-linecap="round"/>
<path d="M728.9 1133 L729.5 1132.1 L730.1 1131.2 L730.7 1130.3 L731.3 1129.4 L731.9 1128.5 L732.5 1127.7 L733.1 1126.8 L733.7 1126 L734.3 1125.1 L734.9 1124.3 L735.5 1123.5 L736.1 1122.7 L736.7 1122 L737.3 1121.3 L737.9 1120.5 L738.6 1119.9 L739.2 1119.2 L739.8 1118.6 L740.4 1118 L741 1117.5 L741.6 1116.9 L742.2 1116.4 L742.8 1116 L743.4 1115.5 L744 1115 L744.6 1114.6 L745.2 1114.1 L745.8 1113.6 L746.4 1113.1 L747 1112.6 L747.6 1112 L748.2 1111.2 L748.8 1110.5 L749.4 1109.7 L750 1108.9 L750.6 1108.1 L751.2 1107.5 L751.8 1107 L752.4 1106.7 L753 1106.5 L753.6 1106.7 L754.2 1107.2 L754.8 1107.9 L755.4 1108.8 L756 1109.8 L756.6 1110.8 L757.2 1111.8 L757.8 1112.6 L758.4 1113.3 L759 1114.2 L759.6 1115.1 L760.2 1116 L760.8 1116.9 L761.4 1117.6 L762 1118.1 L762.6 1118.5 L763.2 1118.6 L763.8 1118.4 L764.4 1118 L765 1117.4 L765.6 1116.6 L766.2 1115.8 L766.8 1114.9 L767.4 1114.1 L768 1113.3 L768.6 1112.6 L769.2 1111.9 L769.8 1111.2 L770.4 1110.5 L771 1109.8 L771.6 1109.1 L772.2 1108.5 L772.8 1108 L773.4 1107.5 L774 1107.1 L774.6 1106.7 L775.2 1106.4 L775.8 1106.1 L776.4 1105.8 L777 1105.5 L777.6 1105.2 L778.2 1105 L778.9 1104.7 L779.5 1104.5 L780.1 1104.2 L780.7 1104 L781.3 1103.7 L781.9 1103.5 L782.5 1103.2 L783.1 1102.9 L783.7 1102.6 L784.3 1102.3 L784.9 1101.9 L785.5 1101.5 L786.1 1101.1 L786.7 1100.8 L787.3 1100.4 L787.9 1100 L788.5 1099.6 L789.1 1099.3 L789.7 1099 L790.3 1098.8 L790.9 1098.6 L791.5 1098.4 L792.1 1098.4" fill="none" stroke="#8a8a10" stroke-width="8.5" stroke-linejoin="round" stroke-linecap="butt"/>
<path d="M882.9 1115 L883.5 1113 L884.1 1111.4 L884.7 1109.9 L885.3 1108.6 L885.9 1107.4 L886.5 1106.3 L887.1 1105.3 L887.7 1104.4 L888.3 1103.6 L888.9 1102.9 L889.5 1102.3 L890.1 1101.6 L890.7 1101 L891.3 1100.5 L891.9 1100 L892.5 1099.6 L893.1 1099.4 L893.7 1099.3 L894.3 1099.3 L894.9 1099.4 L895.5 1099.6 L896.1 1099.7 L896.7 1099.9 L897.3 1100.2 L897.9 1100.4 L898.6 1100.7 L899.2 1100.9 L899.8 1101.2 L900.4 1101.5 L901 1101.7 L901.6 1102 L902.2 1102.2 L902.8 1102.5 L903.4 1102.8 L904 1103.1 L904.6 1103.4 L905.2 1103.8 L905.8 1104.1 L906.4 1104.4 L907 1104.7 L907.6 1105.1 L908.2 1105.4 L908.8 1105.7 L909.4 1106 L910 1106.3 L910.6 1106.5 L911.2 1106.8 L911.8 1107.1 L912.4 1107.4 L913 1107.7 L913.6 1108 L914.2 1108.3 L914.8 1108.6 L915.4 1108.9 L916 1109.1 L916.6 1109.4 L917.2 1109.6 L917.8 1109.8 L918.4 1109.9 L919 1110.1 L919.6 1110.1 L920.2 1110.2 L920.8 1110.1 L921.4 1110.1 L922 1110 L922.6 1109.8 L923.2 1109.6 L923.8 1109.4 L924.4 1109.2 L925 1108.9 L925.6 1108.6 L926.2 1108.3 L926.8 1108 L927.4 1107.7 L928 1107.4 L928.6 1107.1 L929.2 1106.8 L929.8 1106.5 L930.4 1106.2 L931 1105.9 L931.6 1105.6 L932.2 1105.2 L932.8 1104.8 L933.4 1104.4 L934 1104 L934.6 1103.6 L935.2 1103.2 L935.8 1102.8 L936.4 1102.4 L937 1102 L937.6 1101.6 L938.2 1101.2 L938.9 1100.9 L939.5 1100.5 L940.1 1100.2 L940.7 1099.8 L941.3 1099.5 L941.9 1099.2 L942.5 1098.9 L943.1 1098.5 L943.7 1098.2 L944.3 1097.9 L944.9 1097.6 L945.5 1097.4 L946.1 1097.1 L946.7 1096.9 L947.3 1096.7 L947.9 1096.4 L948.5 1096.2 L949.1 1096 L949.7 1095.7 L950.3 1095.5 L950.9 1095.3 L951.5 1095.1 L952.1 1094.9 L952.7 1094.8 L953.3 1094.7 L953.9 1094.6 L954.5 1094.5 L955.1 1094.5" fill="none" stroke="#8a8a10" stroke-width="8.5" stroke-linejoin="round" stroke-linecap="butt"/>
<path d="M1044.1 1122.2 L1044.7 1119.6 L1045.3 1117.3 L1045.9 1115.3 L1046.5 1113.8 L1047.1 1112.5 L1047.7 1111.3 L1048.3 1110.2 L1048.9 1109.3 L1049.5 1108.4 L1050.1 1107.7 L1050.7 1107 L1051.3 1106.5 L1051.9 1106.1 L1052.5 1105.8 L1053.1 1105.5 L1053.7 1105.2 L1054.3 1105 L1054.9 1104.7 L1055.5 1104.5 L1056.1 1104.1 L1056.7 1103.7 L1057.3 1103.2 L1057.9 1102.6 L1058.5 1102 L1059.2 1101.4 L1059.8 1100.9 L1060.4 1100.6 L1061 1100.5 L1061.6 1100.7 L1062.2 1101.1 L1062.8 1101.8 L1063.4 1102.7 L1064 1103.7 L1064.6 1104.7 L1065.2 1105.7 L1065.8 1106.5 L1066.4 1107.5 L1067 1108.6 L1067.6 1109.8 L1068.2 1111 L1068.8 1112.1 L1069.4 1112.9 L1070 1113.5 L1070.6 1113.8 L1071.2 1113.7 L1071.8 1113.7 L1072.4 1113.5 L1073 1113.4 L1073.6 1113.2 L1074.2 1113 L1074.8 1112.8 L1075.4 1112.6 L1076 1112.3 L1076.6 1112 L1077.2 1111.6 L1077.8 1111.2 L1078.4 1110.8 L1079 1110.4 L1079.6 1110 L1080.2 1109.6 L1080.8 1109.2 L1081.4 1109 L1082 1108.7 L1082.6 1108.5 L1083.2 1108.3 L1083.8 1108.1 L1084.4 1107.9 L1085 1107.7 L1085.6 1107.5 L1086.2 1107.4 L1086.8 1107.2 L1087.4 1107 L1088 1106.8 L1088.6 1106.5 L1089.2 1106.3 L1089.8 1106 L1090.4 1105.7 L1091 1105.4 L1091.6 1105.1 L1092.2 1104.7 L1092.8 1104.4 L1093.4 1104.1 L1094 1103.8 L1094.6 1103.5 L1095.2 1103.2 L1095.8 1102.9 L1096.4 1102.7 L1097 1102.4 L1097.6 1102.2 L1098.2 1102 L1098.8 1101.8 L1099.5 1101.6 L1100.1 1101.4 L1100.7 1101.2 L1101.3 1101 L1101.9 1100.8 L1102.5 1100.7 L1103.1 1100.5 L1103.7 1100.4 L1104.3 1100.2 L1104.9 1100.1 L1105.5 1100 L1106.1 1099.8 L1106.7 1099.7 L1107.3 1099.6 L1107.9 1099.5 L1108.5 1099.4 L1109.1 1099.4 L1109.7 1099.3 L1110.3 1099.3 L1110.9 1099.3 L1111.5 1099.4 L1112.1 1099.4 L1112.7 1099.5 L1113.3 1099.6 L1113.9 1099.7 L1114.5 1099.8 L1115.1 1099.9 L1115.7 1100 L1116.3 1100.2 L1116.9 1100.3 L1117.5 1100.5 L1118.1 1100.7 L1118.7 1100.9 L1119.3 1101.3" fill="none" stroke="#8a8a10" stroke-width="8.5" stroke-linejoin="round" stroke-linecap="butt"/>
</g>
<defs>
</defs>
<linearGradient id="garr1" gradientUnits="userSpaceOnUse" x1="0" y1="1141" x2="0" y2="1407.8"><stop offset="0" stop-color="#e8203a"/><stop offset="0.45" stop-color="#f07888"/><stop offset="0.7" stop-color="#d8e0f4"/><stop offset="1" stop-color="#2c4a98"/></linearGradient>
<path d="M728.8 1407.8 L733.6 1141" fill="none" stroke="url(#garr1)" stroke-width="2.2"/>
<path d="M733.6 1141 L737.4 1150.1 L729.4 1149.9Z" fill="#e8203a"/>
<linearGradient id="garr2" gradientUnits="userSpaceOnUse" x1="0" y1="1134" x2="0" y2="1400.5"><stop offset="0" stop-color="#e8203a"/><stop offset="0.45" stop-color="#f07888"/><stop offset="0.7" stop-color="#d8e0f4"/><stop offset="1" stop-color="#2c4a98"/></linearGradient>
<path d="M780.6 1134 C782.5 1203.8 790.6 1295.7 807.1 1400.5" fill="none" stroke="url(#garr2)" stroke-width="2.2"/>
<path d="M807.1 1400.5 L801.7 1392.2 L809.7 1391Z" fill="#2c4a98"/>
<linearGradient id="garr3" gradientUnits="userSpaceOnUse" x1="0" y1="1108" x2="0" y2="1391"><stop offset="0" stop-color="#e8203a"/><stop offset="0.45" stop-color="#f07888"/><stop offset="0.7" stop-color="#d8e0f4"/><stop offset="1" stop-color="#2c4a98"/></linearGradient>
<path d="M860.4 1391 C865 1300 869 1200 873.7 1108" fill="none" stroke="url(#garr3)" stroke-width="2.2"/>
<path d="M873.7 1108 L877.2 1117.2 L869.2 1116.8Z" fill="#e8203a"/>
<linearGradient id="garr4" gradientUnits="userSpaceOnUse" x1="0" y1="1124.8" x2="0" y2="1391"><stop offset="0" stop-color="#e8203a"/><stop offset="0.45" stop-color="#f07888"/><stop offset="0.7" stop-color="#d8e0f4"/><stop offset="1" stop-color="#2c4a98"/></linearGradient>
<path d="M945 1124.8 C948 1200 955 1290 971.8 1391" fill="none" stroke="url(#garr4)" stroke-width="2.2"/>
<path d="M971.8 1391 L966.4 1382.8 L974.3 1381.5Z" fill="#2c4a98"/>
<linearGradient id="garr5" gradientUnits="userSpaceOnUse" x1="0" y1="1141.3" x2="0" y2="1402"><stop offset="0" stop-color="#e8203a"/><stop offset="0.45" stop-color="#f07888"/><stop offset="0.7" stop-color="#d8e0f4"/><stop offset="1" stop-color="#2c4a98"/></linearGradient>
<path d="M1040.6 1402 C1045 1320 1051 1230 1056 1141.3" fill="none" stroke="url(#garr5)" stroke-width="2.2"/>
<path d="M1056 1141.3 L1059.5 1150.5 L1051.5 1150.1Z" fill="#e8203a"/>
<linearGradient id="garr6" gradientUnits="userSpaceOnUse" x1="0" y1="1141.3" x2="0" y2="1406"><stop offset="0" stop-color="#e8203a"/><stop offset="0.45" stop-color="#f07888"/><stop offset="0.7" stop-color="#d8e0f4"/><stop offset="1" stop-color="#2c4a98"/></linearGradient>
<path d="M1112.2 1141.3 C1115 1210 1122 1300 1139 1406" fill="none" stroke="url(#garr6)" stroke-width="2.2"/>
<path d="M1139 1406 L1133.6 1397.7 L1141.5 1396.5Z" fill="#2c4a98"/>
<rect x="706" y="1048.7" width="494.4" height="385.6" fill="none" stroke="#505050" stroke-width="2.2" rx="0"/>
<line x1="706" y1="1434.3" x2="701" y2="1434.3" stroke="#505050" stroke-width="1.6"/>
<text x="697" y="1442.8" font-size="23.5" font-weight="bold" text-anchor="end" fill="#000">0</text>
<line x1="706" y1="1386.1" x2="701" y2="1386.1" stroke="#505050" stroke-width="1.6"/>
<text x="697" y="1394.6" font-size="23.5" font-weight="bold" text-anchor="end" fill="#000">20</text>
<line x1="706" y1="1337.9" x2="701" y2="1337.9" stroke="#505050" stroke-width="1.6"/>
<text x="697" y="1346.4" font-size="23.5" font-weight="bold" text-anchor="end" fill="#000">40</text>
<line x1="706" y1="1289.7" x2="701" y2="1289.7" stroke="#505050" stroke-width="1.6"/>
<text x="697" y="1298.2" font-size="23.5" font-weight="bold" text-anchor="end" fill="#000">60</text>
<line x1="706" y1="1241.5" x2="701" y2="1241.5" stroke="#505050" stroke-width="1.6"/>
<text x="697" y="1250" font-size="23.5" font-weight="bold" text-anchor="end" fill="#000">80</text>
<line x1="706" y1="1193.3" x2="701" y2="1193.3" stroke="#505050" stroke-width="1.6"/>
<text x="697" y="1201.8" font-size="23.5" font-weight="bold" text-anchor="end" fill="#000">100</text>
<line x1="706" y1="1145.1" x2="701" y2="1145.1" stroke="#505050" stroke-width="1.6"/>
<text x="697" y="1153.6" font-size="23.5" font-weight="bold" text-anchor="end" fill="#000">120</text>
<line x1="706" y1="1096.9" x2="701" y2="1096.9" stroke="#505050" stroke-width="1.6"/>
<text x="697" y="1105.4" font-size="23.5" font-weight="bold" text-anchor="end" fill="#000">140</text>
<line x1="706" y1="1048.7" x2="701" y2="1048.7" stroke="#505050" stroke-width="1.6"/>
<text x="697" y="1057.2" font-size="23.5" font-weight="bold" text-anchor="end" fill="#000">160</text>
<line x1="706" y1="1410.2" x2="703" y2="1410.2" stroke="#505050" stroke-width="1.3"/>
<line x1="706" y1="1362" x2="703" y2="1362" stroke="#505050" stroke-width="1.3"/>
<line x1="706" y1="1313.8" x2="703" y2="1313.8" stroke="#505050" stroke-width="1.3"/>
<line x1="706" y1="1265.6" x2="703" y2="1265.6" stroke="#505050" stroke-width="1.3"/>
<line x1="706" y1="1217.4" x2="703" y2="1217.4" stroke="#505050" stroke-width="1.3"/>
<line x1="706" y1="1169.2" x2="703" y2="1169.2" stroke="#505050" stroke-width="1.3"/>
<line x1="706" y1="1121" x2="703" y2="1121" stroke="#505050" stroke-width="1.3"/>
<line x1="706" y1="1072.8" x2="703" y2="1072.8" stroke="#505050" stroke-width="1.3"/>
<line x1="718.1" y1="1434.3" x2="718.1" y2="1439.3" stroke="#505050" stroke-width="1.6"/>
<text x="716.9" y="1461.3" font-size="23.5" font-weight="bold" text-anchor="middle" fill="#000">0</text>
<line x1="838.4" y1="1434.3" x2="838.4" y2="1439.3" stroke="#505050" stroke-width="1.6"/>
<text x="837.2" y="1461.3" font-size="23.5" font-weight="bold" text-anchor="middle" fill="#000">50</text>
<line x1="958.7" y1="1434.3" x2="958.7" y2="1439.3" stroke="#505050" stroke-width="1.6"/>
<text x="957.5" y="1461.3" font-size="23.5" font-weight="bold" text-anchor="middle" fill="#000">100</text>
<line x1="1079" y1="1434.3" x2="1079" y2="1439.3" stroke="#505050" stroke-width="1.6"/>
<text x="1077.8" y="1461.3" font-size="23.5" font-weight="bold" text-anchor="middle" fill="#000">150</text>
<line x1="1199.3" y1="1434.3" x2="1199.3" y2="1439.3" stroke="#505050" stroke-width="1.6"/>
<text x="1198.1" y="1461.3" font-size="23.5" font-weight="bold" text-anchor="middle" fill="#000">200</text>
<line x1="778.2" y1="1434.3" x2="778.2" y2="1437.3" stroke="#505050" stroke-width="1.3"/>
<line x1="898.6" y1="1434.3" x2="898.6" y2="1437.3" stroke="#505050" stroke-width="1.3"/>
<line x1="1018.9" y1="1434.3" x2="1018.9" y2="1437.3" stroke="#505050" stroke-width="1.3"/>
<line x1="1139.2" y1="1434.3" x2="1139.2" y2="1437.3" stroke="#505050" stroke-width="1.3"/>
<rect x="1091.3" y="1088.7" width="27.2" height="48.9" fill="none" stroke="#9a9a9a" stroke-width="1.6" rx="0"/>
<text x="947.8" y="1498.5" font-size="28.6" font-weight="bold" text-anchor="middle" fill="#000">Time (s)</text>
<text x="638" y="1241.5" font-size="28.4" font-weight="bold" text-anchor="middle" fill="#000" transform="rotate(-90 638 1241.5)">TEMF (mV)</text>
<text x="764.6" y="1082.2" font-size="24" font-weight="bold" text-anchor="middle" fill="#000">1st Time</text>
<text x="923.8" y="1082.2" font-size="24" font-weight="bold" text-anchor="middle" fill="#000">2nd Time</text>
<text x="1095.3" y="1082.2" font-size="24" font-weight="bold" text-anchor="middle" fill="#000">3rd Time</text>
<text x="856" y="1232" font-size="24" font-weight="bold" text-anchor="middle" fill="#000" transform="rotate(-90 856 1232)">Load the laser</text>
<text x="937" y="1232.5" font-size="24" font-weight="bold" text-anchor="middle" fill="#000" transform="rotate(-90 937 1232.5)">Release</text>
<text x="579.2" y="1067.3" font-size="36" font-weight="bold">(c<tspan font-size="22" dy="8">1</tspan><tspan dy="-8">)</tspan></text>
<line x1="1118.5" y1="1088.7" x2="1249" y2="1032.5" stroke="#b4b4b4" stroke-width="2"/>
<line x1="1118.5" y1="1137.6" x2="1249" y2="1507" stroke="#b4b4b4" stroke-width="2"/>
<rect x="1249" y="1032.5" width="599.2" height="474.5" fill="none" stroke="#b4b4b4" stroke-width="2.6" rx="0"/>
<clipPath id="cc2"><rect x="1334" y="1054" width="480" height="381"/></clipPath><g clip-path="url(#cc2)">
<path d="M1333.8 1370.5 L1334.2 1372.7 L1334.6 1374.5 L1335 1375.6 L1335.3 1376.1 L1335.7 1374 L1336.1 1364.7 L1336.5 1349.5 L1336.9 1330 L1337.3 1307.5 L1337.6 1283.7 L1338 1260 L1338.4 1238 L1338.8 1219.2 L1339.2 1205.1 L1339.6 1197.2 L1340 1196.8 L1340.3 1202.5 L1340.7 1213.2 L1341.1 1227.7 L1341.5 1244.9 L1341.9 1263.8 L1342.3 1283.4 L1342.6 1302.5 L1343 1320.2 L1343.4 1335.2 L1343.8 1346.7 L1344.2 1353.4 L1344.6 1354.5 L1344.9 1350 L1345.3 1341.1 L1345.7 1328.4 L1346.1 1312.9 L1346.5 1295.4 L1346.9 1276.8 L1347.3 1257.9 L1347.6 1239.6 L1348 1222.7 L1348.4 1208.1 L1348.8 1196.6 L1349.2 1189 L1349.6 1186.3 L1349.9 1191.1 L1350.3 1204.3 L1350.7 1223.7 L1351.1 1247.3 L1351.5 1273 L1351.9 1298.7 L1352.3 1322.4 L1352.6 1341.9 L1353 1355.3 L1353.4 1360.3 L1353.8 1358.4 L1354.2 1352.9 L1354.6 1344.4 L1354.9 1333.4 L1355.3 1320.6 L1355.7 1306.4 L1356.1 1291.6 L1356.5 1276.7 L1356.9 1262.3 L1357.2 1249 L1357.6 1237.3 L1358 1227.8 L1358.4 1221.2 L1358.8 1217.9 L1359.2 1219.1 L1359.6 1225.8 L1359.9 1237.4 L1360.3 1252.7 L1360.7 1270.7 L1361.1 1290.6 L1361.5 1311.2 L1361.9 1331.7 L1362.2 1350.9 L1362.6 1368 L1363 1381.9 L1363.4 1391.6 L1363.8 1396.2 L1364.2 1394.4 L1364.6 1385.6 L1364.9 1371.2 L1365.3 1352.5 L1365.7 1331.1 L1366.1 1308.2 L1366.5 1285.4 L1366.9 1263.9 L1367.2 1245.3 L1367.6 1230.9 L1368 1222.2 L1368.4 1220.4 L1368.8 1224.1 L1369.2 1232 L1369.5 1243.1 L1369.9 1256.5 L1370.3 1271.4 L1370.7 1286.9 L1371.1 1302 L1371.5 1316 L1371.9 1327.9 L1372.2 1336.8 L1372.6 1341.9 L1373 1341.5 L1373.4 1329.3 L1373.8 1309 L1374.2 1286.3 L1374.5 1266.9 L1374.9 1256.6 L1375.3 1263.7 L1375.7 1283.7 L1376.1 1289.5 L1376.5 1258.6 L1376.9 1220.6 L1377.2 1212.1 L1377.6 1215.7 L1378 1222.9 L1378.4 1233 L1378.8 1245.4 L1379.2 1259.5 L1379.5 1274.7 L1379.9 1290.4 L1380.3 1306.1 L1380.7 1321.1 L1381.1 1334.8 L1381.5 1346.6 L1381.8 1356 L1382.2 1362.4 L1382.6 1365 L1383 1362.6 L1383.4 1353.8 L1383.8 1339.9 L1384.2 1322.2 L1384.5 1301.8 L1384.9 1280.1 L1385.3 1258.3 L1385.7 1237.5 L1386.1 1219.2 L1386.5 1204.4 L1386.8 1194.5 L1387.2 1190.8 L1387.6 1194.3 L1388 1204.8 L1388.4 1220.8 L1388.8 1240.9 L1389.2 1263.6 L1389.5 1287.5 L1389.9 1311.2 L1390.3 1333.1 L1390.7 1352 L1391.1 1366.4 L1391.5 1374.7 L1391.8 1375.9 L1392.2 1371.2 L1392.6 1362 L1393 1349 L1393.4 1333.1 L1393.8 1315 L1394.2 1295.5 L1394.5 1275.5 L1394.9 1255.8 L1395.3 1237.1 L1395.7 1220.2 L1396.1 1206.1 L1396.5 1195.4 L1396.8 1189 L1397.2 1187.8 L1397.6 1194.3 L1398 1208.1 L1398.4 1227.5 L1398.8 1250.9 L1399.1 1276.5 L1399.5 1302.8 L1399.9 1328 L1400.3 1350.5 L1400.7 1368.6 L1401.1 1380.7 L1401.5 1385.1 L1401.8 1379.7 L1402.2 1365.1 L1402.6 1343.3 L1403 1316.3 L1403.4 1286.2 L1403.8 1254.9 L1404.1 1224.7 L1404.5 1197.4 L1404.9 1175.2 L1405.3 1160.1 L1405.7 1154.1 L1406.1 1156.6 L1406.5 1164.3 L1406.8 1176.2 L1407.2 1191.6 L1407.6 1209.5 L1408 1229.1 L1408.4 1249.5 L1408.8 1269.9 L1409.1 1289.3 L1409.5 1307 L1409.9 1321.9 L1410.3 1333.3 L1410.7 1340.3 L1411.1 1342 L1411.4 1338.6 L1411.8 1330.8 L1412.2 1319.7 L1412.6 1305.8 L1413 1290.2 L1413.4 1273.6 L1413.8 1256.9 L1414.1 1240.9 L1414.5 1226.4 L1414.9 1214.2 L1415.3 1205.2 L1415.7 1200.2 L1416.1 1200.2 L1416.4 1207.1 L1416.8 1219.8 L1417.2 1237.1 L1417.6 1257.7 L1418 1280.4 L1418.4 1303.9 L1418.8 1326.8 L1419.1 1348 L1419.5 1366.1 L1419.9 1379.9 L1420.3 1388 L1420.7 1388.4 L1421.1 1372.5 L1421.4 1346.3 L1421.8 1320 L1422.2 1303.5 L1422.6 1304.1 L1423 1312.2 L1423.4 1315.9 L1423.7 1293.9 L1424.1 1252.2 L1424.5 1211.4 L1424.9 1192.2 L1425.3 1195.8 L1425.7 1206.3 L1426.1 1222.2 L1426.4 1241.8 L1426.8 1263.8 L1427.2 1286.5 L1427.6 1308.4 L1428 1328.1 L1428.4 1344 L1428.7 1354.5 L1429.1 1358.2 L1429.5 1355.2 L1429.9 1347.4 L1430.3 1335.3 L1430.7 1319.8 L1431.1 1301.8 L1431.4 1282 L1431.8 1261.1 L1432.2 1240.1 L1432.6 1219.6 L1433 1200.4 L1433.4 1183.5 L1433.7 1169.4 L1434.1 1159.1 L1434.5 1153.3 L1434.9 1153.2 L1435.3 1161.2 L1435.7 1176.4 L1436.1 1197 L1436.4 1221.1 L1436.8 1246.9 L1437.2 1272.7 L1437.6 1296.7 L1438 1317.1 L1438.4 1332 L1438.7 1339.7 L1439.1 1339.5 L1439.5 1334.8 L1439.9 1326.8 L1440.3 1315.9 L1440.7 1302.9 L1441 1288.5 L1441.4 1273.2 L1441.8 1257.7 L1442.2 1242.8 L1442.6 1228.9 L1443 1216.9 L1443.4 1207.3 L1443.7 1200.8 L1444.1 1198 L1444.5 1201 L1444.9 1211.1 L1445.3 1226.8 L1445.7 1246.4 L1446 1268 L1446.4 1290.1 L1446.8 1310.8 L1447.2 1328.4 L1447.6 1341.3 L1448 1347.7 L1448.4 1344.7 L1448.7 1330.2 L1449.1 1308 L1449.5 1282.4 L1449.9 1257.9 L1450.3 1238.5 L1450.7 1228.8 L1451 1243.5 L1451.4 1283.5 L1451.8 1297.8 L1452.2 1280.9 L1452.6 1251.7 L1453 1223 L1453.3 1207.4 L1453.7 1208.7 L1454.1 1214.7 L1454.5 1224.4 L1454.9 1237 L1455.3 1251.6 L1455.7 1267.5 L1456 1283.7 L1456.4 1299.5 L1456.8 1314.1 L1457.2 1326.7 L1457.6 1336.4 L1458 1342.5 L1458.3 1343.7 L1458.7 1328.8 L1459.1 1299.9 L1459.5 1267.3 L1459.9 1241.6 L1460.3 1233.2 L1460.7 1259.9 L1461 1292.8 L1461.4 1289.4 L1461.8 1256.4 L1462.2 1215.5 L1462.6 1187.5 L1463 1185.5 L1463.3 1190.7 L1463.7 1199.9 L1464.1 1212.3 L1464.5 1227.1 L1464.9 1243.7 L1465.3 1261.2 L1465.6 1278.9 L1466 1296 L1466.4 1311.9 L1466.8 1325.7 L1467.2 1336.8 L1467.6 1344.3 L1468 1347.5 L1468.3 1344.9 L1468.7 1335.5 L1469.1 1320.9 L1469.5 1302.5 L1469.9 1282 L1470.3 1260.8 L1470.6 1240.6 L1471 1222.8 L1471.4 1208.9 L1471.8 1200.7 L1472.2 1199.3 L1472.6 1203.6 L1473 1212.4 L1473.3 1224.7 L1473.7 1239.6 L1474.1 1256.2 L1474.5 1273.6 L1474.9 1290.9 L1475.3 1307.1 L1475.6 1321.4 L1476 1332.8 L1476.4 1340.4 L1476.8 1343.4 L1477.2 1340.7 L1477.6 1332.4 L1477.9 1319.5 L1478.3 1303.1 L1478.7 1284 L1479.1 1263.3 L1479.5 1241.9 L1479.9 1220.8 L1480.3 1201 L1480.6 1183.5 L1481 1169.2 L1481.4 1159.2 L1481.8 1154.4 L1482.2 1156.8 L1482.6 1169.3 L1482.9 1189.9 L1483.3 1216.4 L1483.7 1246.6 L1484.1 1278.5 L1484.5 1309.7 L1484.9 1338.1 L1485.3 1361.5 L1485.6 1377.8 L1486 1384.8 L1486.4 1383.1 L1486.8 1376.5 L1487.2 1365.9 L1487.6 1352.1 L1487.9 1335.9 L1488.3 1318 L1488.7 1299.1 L1489.1 1280.1 L1489.5 1261.6 L1489.9 1244.5 L1490.3 1229.5 L1490.6 1217.4 L1491 1208.9 L1491.4 1204.8 L1491.8 1206.4 L1492.2 1215.1 L1492.6 1229.5 L1492.9 1247.8 L1493.3 1268.4 L1493.7 1289.5 L1494.1 1309.5 L1494.5 1326.6 L1494.9 1339.3 L1495.2 1345.8 L1495.6 1343.6 L1496 1331.1 L1496.4 1311.7 L1496.8 1289 L1497.2 1266.8 L1497.6 1248.9 L1497.9 1239 L1498.3 1247 L1498.7 1278.8 L1499.1 1294.5 L1499.5 1278.5 L1499.9 1247 L1500.2 1213.4 L1500.6 1191.3 L1501 1189.5 L1501.4 1195.1 L1501.8 1205 L1502.2 1218.4 L1502.6 1234.4 L1502.9 1252.1 L1503.3 1270.7 L1503.7 1289.4 L1504.1 1307.2 L1504.5 1323.3 L1504.9 1336.9 L1505.2 1347 L1505.6 1352.8 L1506 1353.4 L1506.4 1347.1 L1506.8 1334.8 L1507.2 1318 L1507.5 1298 L1507.9 1276.1 L1508.3 1253.9 L1508.7 1232.6 L1509.1 1213.6 L1509.5 1198.5 L1509.9 1188.4 L1510.2 1184.9 L1510.6 1188.8 L1511 1198.9 L1511.4 1214 L1511.8 1232.5 L1512.2 1253 L1512.5 1274.1 L1512.9 1294.4 L1513.3 1312.3 L1513.7 1326.6 L1514.1 1335.7 L1514.5 1338.2 L1514.9 1334.8 L1515.2 1327 L1515.6 1315.5 L1516 1300.9 L1516.4 1284.1 L1516.8 1265.7 L1517.2 1246.5 L1517.5 1227.3 L1517.9 1208.8 L1518.3 1191.6 L1518.7 1176.6 L1519.1 1164.5 L1519.5 1156 L1519.8 1151.9 L1520.2 1153.3 L1520.6 1161.6 L1521 1175.6 L1521.4 1193.9 L1521.8 1215.2 L1522.2 1238.3 L1522.5 1261.6 L1522.9 1284.1 L1523.3 1304.2 L1523.7 1320.7 L1524.1 1332.3 L1524.5 1337.5 L1524.8 1335.6 L1525.2 1327.2 L1525.6 1313.8 L1526 1296.8 L1526.4 1277.6 L1526.8 1257.4 L1527.2 1237.7 L1527.5 1219.9 L1527.9 1205.2 L1528.3 1195.2 L1528.7 1191.1 L1529.1 1193.5 L1529.5 1201.3 L1529.8 1213.4 L1530.2 1229.1 L1530.6 1247.3 L1531 1267.2 L1531.4 1287.7 L1531.8 1308 L1532.2 1327.2 L1532.5 1344.3 L1532.9 1358.5 L1533.3 1368.6 L1533.7 1374 L1534.1 1372.8 L1534.5 1361.9 L1534.8 1342.9 L1535.2 1317.7 L1535.6 1288.5 L1536 1257.4 L1536.4 1226.5 L1536.8 1197.7 L1537.1 1173.2 L1537.5 1155.1 L1537.9 1145.4 L1538.3 1145.7 L1538.7 1154.3 L1539.1 1169.7 L1539.5 1190.3 L1539.8 1214.8 L1540.2 1241.6 L1540.6 1269.5 L1541 1297 L1541.4 1322.6 L1541.8 1345 L1542.1 1362.6 L1542.5 1374.1 L1542.9 1378 L1543.3 1374.7 L1543.7 1365.7 L1544.1 1352.3 L1544.5 1335.4 L1544.8 1316.2 L1545.2 1295.6 L1545.6 1274.8 L1546 1254.8 L1546.4 1236.6 L1546.8 1221.4 L1547.1 1210.1 L1547.5 1203.9 L1547.9 1203.7 L1548.3 1209.3 L1548.7 1219.5 L1549.1 1233.3 L1549.4 1249.9 L1549.8 1268.1 L1550.2 1286.9 L1550.6 1305.4 L1551 1322.5 L1551.4 1337.2 L1551.8 1348.5 L1552.1 1355.5 L1552.5 1356.7 L1552.9 1345.6 L1553.3 1324.2 L1553.7 1297.7 L1554.1 1271.5 L1554.4 1251.1 L1554.8 1241.7 L1555.2 1261.2 L1555.6 1300.4 L1556 1306 L1556.4 1254.7 L1556.8 1187.2 L1557.1 1150.9 L1557.5 1153.9 L1557.9 1163.4 L1558.3 1178.3 L1558.7 1197.2 L1559.1 1219.2 L1559.4 1243.2 L1559.8 1267.9 L1560.2 1292.2 L1560.6 1315.2 L1561 1335.5 L1561.4 1352.1 L1561.7 1363.9 L1562.1 1369.8 L1562.5 1368.8 L1562.9 1361.7 L1563.3 1349.4 L1563.7 1333.1 L1564.1 1313.7 L1564.4 1292.3 L1564.8 1269.8 L1565.2 1247.2 L1565.6 1225.6 L1566 1205.9 L1566.4 1189.3 L1566.7 1176.6 L1567.1 1169 L1567.5 1167.4 L1567.9 1173.6 L1568.3 1186.7 L1568.7 1204.8 L1569.1 1226.2 L1569.4 1249.1 L1569.8 1271.7 L1570.2 1292.2 L1570.6 1308.9 L1571 1320 L1571.4 1323.7 L1571.7 1320.6 L1572.1 1312.9 L1572.5 1301.5 L1572.9 1287.2 L1573.3 1271.2 L1573.7 1254.4 L1574 1237.7 L1574.4 1222 L1574.8 1208.4 L1575.2 1197.9 L1575.6 1191.3 L1576 1189.6 L1576.4 1192.8 L1576.7 1200 L1577.1 1210.6 L1577.5 1223.8 L1577.9 1238.9 L1578.3 1255.1 L1578.7 1271.8 L1579 1288.3 L1579.4 1303.7 L1579.8 1317.5 L1580.2 1328.9 L1580.6 1337.1 L1581 1341.5 L1581.4 1339.5 L1581.7 1323.9 L1582.1 1300 L1582.5 1274.5 L1582.9 1254.2 L1583.3 1245.9 L1583.7 1254.1 L1584 1266.8 L1584.4 1267.5 L1584.8 1255.7 L1585.2 1237 L1585.6 1216.5 L1586 1199.3 L1586.4 1190.7 L1586.7 1193 L1587.1 1202.7 L1587.5 1218 L1587.9 1237.4 L1588.3 1259.4 L1588.7 1282.4 L1589 1304.8 L1589.4 1325.2 L1589.8 1342 L1590.2 1353.7 L1590.6 1358.6 L1591 1353.4 L1591.3 1337.6 L1591.7 1316.9 L1592.1 1296.9 L1592.5 1283.2 L1592.9 1282.5 L1593.3 1300 L1593.7 1314.2 L1594 1303.8 L1594.4 1272.1 L1594.8 1230.5 L1595.2 1190.4 L1595.6 1163.3 L1596 1159.1 L1596.3 1170.6 L1596.7 1192.3 L1597.1 1221.1 L1597.5 1253.9 L1597.9 1287.8 L1598.3 1319.6 L1598.7 1346.4 L1599 1365 L1599.4 1372.5 L1599.8 1369.7 L1600.2 1361 L1600.6 1347.4 L1601 1329.9 L1601.3 1309.4 L1601.7 1286.9 L1602.1 1263.5 L1602.5 1240.1 L1602.9 1217.6 L1603.3 1197.1 L1603.6 1179.6 L1604 1165.9 L1604.4 1157.1 L1604.8 1154.2 L1605.2 1157.3 L1605.6 1165.3 L1606 1177.4 L1606.3 1192.8 L1606.7 1210.5 L1607.1 1229.8 L1607.5 1249.7 L1607.9 1269.4 L1608.3 1288.1 L1608.6 1304.9 L1609 1319 L1609.4 1329.4 L1609.8 1335.4 L1610.2 1334.2 L1610.6 1310.4 L1611 1274.1 L1611.3 1242.1 L1611.7 1230.7 L1612.1 1246.7 L1612.5 1266.5 L1612.9 1264.5 L1613.3 1243.7 L1613.6 1213.3 L1614 1182.1 L1614.4 1158.7 L1614.8 1151.5 L1615.2 1157.1 L1615.6 1169.7 L1615.9 1187.9 L1616.3 1210.2 L1616.7 1235.1 L1617.1 1261.1 L1617.5 1286.7 L1617.9 1310.3 L1618.3 1330.6 L1618.6 1346 L1619 1354.9 L1619.4 1355.9 L1619.8 1348.1 L1620.2 1332.7 L1620.6 1311.6 L1620.9 1286.5 L1621.3 1259.4 L1621.7 1231.8 L1622.1 1205.6 L1622.5 1182.6 L1622.9 1164.5 L1623.3 1153.1 L1623.6 1150.2 L1624 1154.7 L1624.4 1165 L1624.8 1179.9 L1625.2 1198.6 L1625.6 1219.9 L1625.9 1242.9 L1626.3 1266.6 L1626.7 1289.9 L1627.1 1311.9 L1627.5 1331.4 L1627.9 1347.6 L1628.3 1359.3 L1628.6 1365.6 L1629 1365.4 L1629.4 1357.5 L1629.8 1343.2 L1630.2 1323.8 L1630.6 1300.8 L1630.9 1275.6 L1631.3 1249.5 L1631.7 1223.9 L1632.1 1200.3 L1632.5 1179.9 L1632.9 1164.3 L1633.2 1154.8 L1633.6 1152.8 L1634 1158.8 L1634.4 1171.7 L1634.8 1189.8 L1635.2 1211.7 L1635.6 1236 L1635.9 1261.1 L1636.3 1285.6 L1636.7 1307.9 L1637.1 1326.6 L1637.5 1340.1 L1637.9 1347 L1638.2 1346.1 L1638.6 1337.8 L1639 1323.6 L1639.4 1304.6 L1639.8 1282.3 L1640.2 1257.9 L1640.6 1232.8 L1640.9 1208.2 L1641.3 1185.6 L1641.7 1166.1 L1642.1 1151.2 L1642.5 1142.1 L1642.9 1140.2 L1643.2 1145.2 L1643.6 1155.8 L1644 1171 L1644.4 1189.6 L1644.8 1210.4 L1645.2 1232.2 L1645.5 1253.9 L1645.9 1274.3 L1646.3 1292.3 L1646.7 1306.6 L1647.1 1316.2 L1647.5 1319.9 L1647.9 1317.4 L1648.2 1310.1 L1648.6 1298.9 L1649 1284.6 L1649.4 1267.9 L1649.8 1249.9 L1650.2 1231.3 L1650.5 1213.1 L1650.9 1195.9 L1651.3 1180.8 L1651.7 1168.5 L1652.1 1159.9 L1652.5 1155.9 L1652.9 1157.7 L1653.2 1166.4 L1653.6 1180.7 L1654 1199.1 L1654.4 1220.4 L1654.8 1243.2 L1655.2 1266.1 L1655.5 1287.9 L1655.9 1307.1 L1656.3 1322.3 L1656.7 1332.4 L1657.1 1335.8 L1657.5 1331.5 L1657.8 1320.3 L1658.2 1303.7 L1658.6 1283 L1659 1259.9 L1659.4 1235.6 L1659.8 1211.7 L1660.2 1189.5 L1660.5 1170.6 L1660.9 1156.4 L1661.3 1148.3 L1661.7 1147.5 L1662.1 1152.7 L1662.5 1162.5 L1662.8 1176.2 L1663.2 1192.7 L1663.6 1211.2 L1664 1230.7 L1664.4 1250.2 L1664.8 1269 L1665.2 1285.9 L1665.5 1300.2 L1665.9 1310.9 L1666.3 1317.1 L1666.7 1316.5 L1667.1 1298 L1667.5 1267.8 L1667.8 1236.2 L1668.2 1213.8 L1668.6 1212.1 L1669 1237.7 L1669.4 1258.5 L1669.8 1239.5 L1670.1 1190.8 L1670.5 1147.5 L1670.9 1139.5 L1671.3 1145.4 L1671.7 1156.6 L1672.1 1172.2 L1672.5 1191.1 L1672.8 1212.3 L1673.2 1234.7 L1673.6 1257.3 L1674 1279.1 L1674.4 1299.1 L1674.8 1316.2 L1675.1 1329.3 L1675.5 1337.5 L1675.9 1339.8 L1676.3 1334.3 L1676.7 1321.9 L1677.1 1303.9 L1677.5 1281.9 L1677.8 1257.5 L1678.2 1232.3 L1678.6 1207.7 L1679 1185.4 L1679.4 1166.9 L1679.8 1153.7 L1680.1 1147.4 L1680.5 1148.7 L1680.9 1155.4 L1681.3 1166.6 L1681.7 1181.5 L1682.1 1199 L1682.5 1218.3 L1682.8 1238.4 L1683.2 1258.5 L1683.6 1277.7 L1684 1295.1 L1684.4 1309.7 L1684.8 1320.6 L1685.1 1327 L1685.5 1327.9 L1685.9 1322.6 L1686.3 1312.2 L1686.7 1297.9 L1687.1 1280.9 L1687.4 1262.4 L1687.8 1243.8 L1688.2 1226.3 L1688.6 1211 L1689 1199.4 L1689.4 1192.5 L1689.8 1191.5 L1690.1 1196 L1690.5 1204.9 L1690.9 1217.3 L1691.3 1232.4 L1691.7 1249.3 L1692.1 1267.1 L1692.4 1285.1 L1692.8 1302.3 L1693.2 1317.8 L1693.6 1330.9 L1694 1340.6 L1694.4 1346 L1694.8 1346.2 L1695.1 1338.7 L1695.5 1324.7 L1695.9 1305.3 L1696.3 1282.1 L1696.7 1256.6 L1697.1 1230.1 L1697.4 1204.1 L1697.8 1180.1 L1698.2 1159.4 L1698.6 1143.6 L1699 1133.9 L1699.4 1132 L1699.7 1137.2 L1700.1 1148.3 L1700.5 1164 L1700.9 1183.3 L1701.3 1204.8 L1701.7 1227.4 L1702.1 1250 L1702.4 1271.4 L1702.8 1290.3 L1703.2 1305.6 L1703.6 1316.2 L1704 1320.7 L1704.4 1319.1 L1704.7 1312.6 L1705.1 1302.2 L1705.5 1288.6 L1705.9 1272.6 L1706.3 1254.9 L1706.7 1236.3 L1707.1 1217.7 L1707.4 1199.7 L1707.8 1183.1 L1708.2 1168.7 L1708.6 1157.3 L1709 1149.7 L1709.4 1146.5 L1709.7 1149.8 L1710.1 1160.5 L1710.5 1177 L1710.9 1197.9 L1711.3 1221.5 L1711.7 1246.1 L1712 1270.2 L1712.4 1292.3 L1712.8 1310.6 L1713.2 1323.6 L1713.6 1329.8 L1714 1327.5 L1714.4 1316.9 L1714.7 1299.8 L1715.1 1277.9 L1715.5 1252.8 L1715.9 1226.2 L1716.3 1200 L1716.7 1175.8 L1717 1155.3 L1717.4 1140.2 L1717.8 1132.3 L1718.2 1132.7 L1718.6 1139.2 L1719 1150.9 L1719.4 1166.7 L1719.7 1185.8 L1720.1 1207.2 L1720.5 1230.1 L1720.9 1253.4 L1721.3 1276.3 L1721.7 1297.9 L1722 1317.2 L1722.4 1333.4 L1722.8 1345.4 L1723.2 1352.4 L1723.6 1353.5 L1724 1347.9 L1724.4 1336.6 L1724.7 1320.6 L1725.1 1301.2 L1725.5 1279.5 L1725.9 1256.5 L1726.3 1233.4 L1726.7 1211.4 L1727 1191.6 L1727.4 1175.1 L1727.8 1163 L1728.2 1156.5 L1728.6 1156.9 L1729 1164.7 L1729.3 1178.7 L1729.7 1197.1 L1730.1 1218.4 L1730.5 1240.9 L1730.9 1263.1 L1731.3 1283.4 L1731.7 1300.1 L1732 1311.7 L1732.4 1316.5 L1732.8 1314.1 L1733.2 1306.3 L1733.6 1294.2 L1734 1278.8 L1734.3 1261.4 L1734.7 1242.8 L1735.1 1224.2 L1735.5 1206.8 L1735.9 1191.4 L1736.3 1179.4 L1736.7 1171.6 L1737 1169.2 L1737.4 1172.7 L1737.8 1181.3 L1738.2 1194 L1738.6 1209.9 L1739 1228 L1739.3 1247.4 L1739.7 1267.2 L1740.1 1286.4 L1740.5 1304 L1740.9 1319.2 L1741.3 1331 L1741.6 1338.3 L1742 1340.4 L1742.4 1336.8 L1742.8 1328.3 L1743.2 1315.7 L1743.6 1300 L1744 1281.9 L1744.3 1262.4 L1744.7 1242.4 L1745.1 1222.7 L1745.5 1204.2 L1745.9 1187.7 L1746.3 1174.3 L1746.6 1164.7 L1747 1159.8 L1747.4 1161.2 L1747.8 1171.5 L1748.2 1189 L1748.6 1211.4 L1749 1236.7 L1749.3 1262.6 L1749.7 1287.1 L1750.1 1307.9 L1750.5 1322.8 L1750.9 1329.9 L1751.3 1325.9 L1751.6 1310.4 L1752 1287.4 L1752.4 1261.2 L1752.8 1236.2 L1753.2 1216.6 L1753.6 1206.7 L1753.9 1223.2 L1754.3 1268.1 L1754.7 1283.9 L1755.1 1258.4 L1755.5 1212.6 L1755.9 1163.8 L1756.3 1128.6 L1756.6 1121.8 L1757 1128.1 L1757.4 1140.5 L1757.8 1157.8 L1758.2 1178.6 L1758.6 1201.7 L1758.9 1225.9 L1759.3 1249.8 L1759.7 1272.2 L1760.1 1291.8 L1760.5 1307.4 L1760.9 1317.7 L1761.3 1321.4 L1761.6 1312.3 L1762 1290.7 L1762.4 1265.3 L1762.8 1244.8 L1763.2 1237.8 L1763.6 1248.4 L1763.9 1261.4 L1764.3 1248.4 L1764.7 1192.1 L1765.1 1148.9 L1765.5 1149.2 L1765.9 1156.8 L1766.2 1169 L1766.6 1184.8 L1767 1203.2 L1767.4 1223 L1767.8 1243.4 L1768.2 1263.1 L1768.6 1281.2 L1768.9 1296.6 L1769.3 1308.3 L1769.7 1315.1 L1770.1 1315.8 L1770.5 1305.7 L1770.9 1286.8 L1771.2 1263.3 L1771.6 1239.6 L1772 1219.6 L1772.4 1207.6 L1772.8 1211.4 L1773.2 1239.9 L1773.6 1258.3 L1773.9 1243 L1774.3 1207.1 L1774.7 1166.3 L1775.1 1136.1 L1775.5 1129.9 L1775.9 1135.9 L1776.2 1148 L1776.6 1164.9 L1777 1185.5 L1777.4 1208.7 L1777.8 1233.2 L1778.2 1258 L1778.6 1281.8 L1778.9 1303.6 L1779.3 1322.1 L1779.7 1336.1 L1780.1 1344.7 L1780.5 1346.4 L1780.9 1338.2 L1781.2 1321.1 L1781.6 1297.3 L1782 1269.2 L1782.4 1239.1 L1782.8 1209.3 L1783.2 1182.2 L1783.5 1160 L1783.9 1145.2 L1784.3 1139.9 L1784.7 1143.7 L1785.1 1153.9 L1785.5 1169 L1785.9 1187.9 L1786.2 1209 L1786.6 1231.2 L1787 1253.1 L1787.4 1273.3 L1787.8 1290.4 L1788.2 1303.3 L1788.5 1310.5 L1788.9 1311.1 L1789.3 1307 L1789.7 1299.3 L1790.1 1288.7 L1790.5 1275.6 L1790.9 1260.8 L1791.2 1244.9 L1791.6 1228.5 L1792 1212.1 L1792.4 1196.5 L1792.8 1182.2 L1793.2 1169.9 L1793.5 1160.1 L1793.9 1153.5 L1794.3 1150.8 L1794.7 1153.6 L1795.1 1163.2 L1795.5 1178.3 L1795.8 1197.2 L1796.2 1218.7 L1796.6 1241 L1797 1262.9 L1797.4 1282.8 L1797.8 1299.2 L1798.2 1310.6 L1798.5 1315.6 L1798.9 1314 L1799.3 1307.8 L1799.7 1297.9 L1800.1 1285.1 L1800.5 1270.1 L1800.8 1253.8 L1801.2 1237 L1801.6 1220.4 L1802 1204.9 L1802.4 1191.2 L1802.8 1180.2 L1803.2 1172.6 L1803.5 1169.3 L1803.9 1171.6 L1804.3 1180.2 L1804.7 1194.1 L1805.1 1211.8 L1805.5 1232.2 L1805.8 1253.9 L1806.2 1275.7 L1806.6 1296.3 L1807 1314.4 L1807.4 1328.8 L1807.8 1338.1 L1808.1 1341.2 L1808.5 1337.9 L1808.9 1329.4 L1809.3 1316.5 L1809.7 1300.2 L1810.1 1281.4 L1810.5 1260.8 L1810.8 1239.4 L1811.2 1218.1 L1811.6 1197.6 L1812 1179 L1812.4 1163 L1812.8 1150.6 L1813.1 1142.5 L1813.5 1139.8 L1813.9 1144.5 L1814.3 1157" fill="none" stroke="#8e8e22" stroke-width="1.9" stroke-linejoin="round" stroke-linecap="round"/>
</g>
<line x1="1526" y1="1053.9" x2="1526" y2="1435.6" stroke="#555" stroke-width="1.3" stroke-dasharray="6 2 1.5 2"/>
<line x1="1622.1" y1="1053.9" x2="1622.1" y2="1435.6" stroke="#555" stroke-width="1.3" stroke-dasharray="6 2 1.5 2"/>
<line x1="1526" y1="1134.2" x2="1622.1" y2="1134.2" stroke="#777" stroke-width="2"/>
<line x1="1530" y1="1069" x2="1530" y2="1134.2" stroke="#aaaaaa" stroke-width="1"/>
<line x1="1539.4" y1="1069" x2="1539.4" y2="1134.2" stroke="#aaaaaa" stroke-width="1"/>
<line x1="1548.8" y1="1069" x2="1548.8" y2="1134.2" stroke="#aaaaaa" stroke-width="1"/>
<line x1="1558.2" y1="1069" x2="1558.2" y2="1134.2" stroke="#aaaaaa" stroke-width="1"/>
<line x1="1567.6" y1="1069" x2="1567.6" y2="1134.2" stroke="#aaaaaa" stroke-width="1"/>
<line x1="1577" y1="1069" x2="1577" y2="1134.2" stroke="#aaaaaa" stroke-width="1"/>
<line x1="1586.4" y1="1069" x2="1586.4" y2="1134.2" stroke="#aaaaaa" stroke-width="1"/>
<line x1="1595.8" y1="1069" x2="1595.8" y2="1134.2" stroke="#aaaaaa" stroke-width="1"/>
<line x1="1605.2" y1="1069" x2="1605.2" y2="1134.2" stroke="#aaaaaa" stroke-width="1"/>
<line x1="1614.6" y1="1069" x2="1614.6" y2="1134.2" stroke="#aaaaaa" stroke-width="1"/>
<rect x="1333.8" y="1053.9" width="480.5" height="381.7" fill="none" stroke="#505050" stroke-width="2.2" rx="0"/>
<line x1="1333.8" y1="1435.6" x2="1328.8" y2="1435.6" stroke="#505050" stroke-width="1.6"/>
<text x="1325.8" y="1444.1" font-size="23.5" font-weight="bold" text-anchor="end" fill="#000">135</text>
<line x1="1333.8" y1="1381.1" x2="1328.8" y2="1381.1" stroke="#505050" stroke-width="1.6"/>
<text x="1325.8" y="1389.5" font-size="23.5" font-weight="bold" text-anchor="end" fill="#000">136</text>
<line x1="1333.8" y1="1326.5" x2="1328.8" y2="1326.5" stroke="#505050" stroke-width="1.6"/>
<text x="1325.8" y="1335" font-size="23.5" font-weight="bold" text-anchor="end" fill="#000">137</text>
<line x1="1333.8" y1="1272" x2="1328.8" y2="1272" stroke="#505050" stroke-width="1.6"/>
<text x="1325.8" y="1280.5" font-size="23.5" font-weight="bold" text-anchor="end" fill="#000">138</text>
<line x1="1333.8" y1="1217.5" x2="1328.8" y2="1217.5" stroke="#505050" stroke-width="1.6"/>
<text x="1325.8" y="1225.9" font-size="23.5" font-weight="bold" text-anchor="end" fill="#000">139</text>
<line x1="1333.8" y1="1163" x2="1328.8" y2="1163" stroke="#505050" stroke-width="1.6"/>
<text x="1325.8" y="1171.4" font-size="23.5" font-weight="bold" text-anchor="end" fill="#000">140</text>
<line x1="1333.8" y1="1108.4" x2="1328.8" y2="1108.4" stroke="#505050" stroke-width="1.6"/>
<text x="1325.8" y="1116.9" font-size="23.5" font-weight="bold" text-anchor="end" fill="#000">141</text>
<line x1="1333.8" y1="1053.9" x2="1328.8" y2="1053.9" stroke="#505050" stroke-width="1.6"/>
<text x="1325.8" y="1062.4" font-size="23.5" font-weight="bold" text-anchor="end" fill="#000">142</text>
<line x1="1333.8" y1="1408.3" x2="1330.8" y2="1408.3" stroke="#505050" stroke-width="1.3"/>
<line x1="1333.8" y1="1353.8" x2="1330.8" y2="1353.8" stroke="#505050" stroke-width="1.3"/>
<line x1="1333.8" y1="1299.3" x2="1330.8" y2="1299.3" stroke="#505050" stroke-width="1.3"/>
<line x1="1333.8" y1="1244.8" x2="1330.8" y2="1244.8" stroke="#505050" stroke-width="1.3"/>
<line x1="1333.8" y1="1190.2" x2="1330.8" y2="1190.2" stroke="#505050" stroke-width="1.3"/>
<line x1="1333.8" y1="1135.7" x2="1330.8" y2="1135.7" stroke="#505050" stroke-width="1.3"/>
<line x1="1333.8" y1="1081.2" x2="1330.8" y2="1081.2" stroke="#505050" stroke-width="1.3"/>
<line x1="1333.8" y1="1435.6" x2="1333.8" y2="1440.6" stroke="#505050" stroke-width="1.6"/>
<text x="1332.6" y="1462.6" font-size="23.5" font-weight="bold" text-anchor="middle" fill="#000">157</text>
<line x1="1429.9" y1="1435.6" x2="1429.9" y2="1440.6" stroke="#505050" stroke-width="1.6"/>
<text x="1428.7" y="1462.6" font-size="23.5" font-weight="bold" text-anchor="middle" fill="#000">158</text>
<line x1="1526" y1="1435.6" x2="1526" y2="1440.6" stroke="#505050" stroke-width="1.6"/>
<text x="1524.8" y="1462.6" font-size="23.5" font-weight="bold" text-anchor="middle" fill="#000">159</text>
<line x1="1622.1" y1="1435.6" x2="1622.1" y2="1440.6" stroke="#505050" stroke-width="1.6"/>
<text x="1620.9" y="1462.6" font-size="23.5" font-weight="bold" text-anchor="middle" fill="#000">160</text>
<line x1="1718.2" y1="1435.6" x2="1718.2" y2="1440.6" stroke="#505050" stroke-width="1.6"/>
<text x="1717" y="1462.6" font-size="23.5" font-weight="bold" text-anchor="middle" fill="#000">161</text>
<line x1="1814.3" y1="1435.6" x2="1814.3" y2="1440.6" stroke="#505050" stroke-width="1.6"/>
<text x="1813.1" y="1462.6" font-size="23.5" font-weight="bold" text-anchor="middle" fill="#000">162</text>
<line x1="1381.8" y1="1435.6" x2="1381.8" y2="1438.6" stroke="#505050" stroke-width="1.3"/>
<line x1="1478" y1="1435.6" x2="1478" y2="1438.6" stroke="#505050" stroke-width="1.3"/>
<line x1="1574" y1="1435.6" x2="1574" y2="1438.6" stroke="#505050" stroke-width="1.3"/>
<line x1="1670.1" y1="1435.6" x2="1670.1" y2="1438.6" stroke="#505050" stroke-width="1.3"/>
<line x1="1766.2" y1="1435.6" x2="1766.2" y2="1438.6" stroke="#505050" stroke-width="1.3"/>
<text x="1423.2" y="1096" font-size="16" font-weight="bold" text-anchor="middle" fill="#000" textLength="158" lengthAdjust="spacingAndGlyphs">Pulse period: 100 ms</text>
<text x="1422.3" y="1114.5" font-size="16" font-weight="bold" text-anchor="middle" fill="#000" textLength="109" lengthAdjust="spacingAndGlyphs">Duty cycle: 0.1</text>
<line x1="1652" y1="1075.3" x2="1716" y2="1075.3" stroke="#8c8c1c" stroke-width="2.5"/>
<text x="1723.4" y="1085.3" font-size="27" font-weight="bold" text-anchor="start" fill="#000">TEMF</text>
<text x="1571.4" y="1493.5" font-size="28.6" font-weight="bold" text-anchor="middle" fill="#000">Time (s)</text>
<text x="1276" y="1239.4" font-size="28.4" font-weight="bold" text-anchor="middle" fill="#000" transform="rotate(-90 1276 1239.4)">TEMF (mV)</text>
<text x="1216.7" y="1067.3" font-size="36" font-weight="bold">(c<tspan font-size="22" dy="8">2</tspan><tspan dy="-8">)</tspan></text>
</svg>
</body></html>
